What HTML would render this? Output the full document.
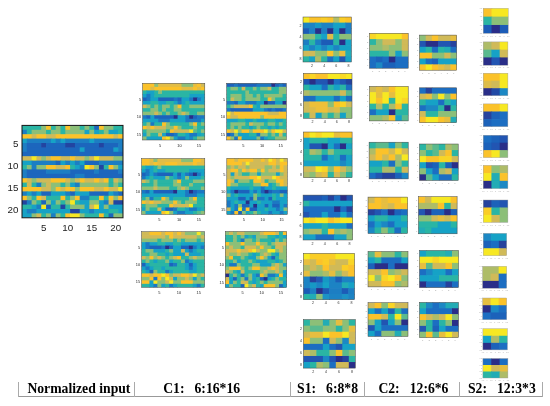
<!DOCTYPE html>
<html><head><meta charset="utf-8"><title>CNN feature maps</title>
<style>
html,body{margin:0;padding:0;background:#fff;}
body{width:550px;height:406px;position:relative;overflow:hidden;font-family:"Liberation Serif",serif;}
.cap{position:absolute;top:381.0px;height:15px;line-height:15px;font-weight:bold;font-size:13.7px;color:#000;white-space:nowrap;transform:scaleY(1.10);transform-origin:0 11.8px;}
.bar{position:absolute;top:382px;width:1px;height:15px;background:#aaa;}
.hl{position:absolute;left:18px;top:396px;width:525px;height:1px;background:#999;}
.cap i{font-style:normal;display:inline-block;width:10px;}
</style></head><body>
<svg width="550" height="406" viewBox="0 0 550 406" font-family="Liberation Sans, sans-serif" style="position:absolute;left:0;top:0">
<defs><filter id="b" x="-5%" y="-5%" width="110%" height="110%"><feGaussianBlur stdDeviation="0.45"/></filter></defs>
<g filter="url(#b)">
<g>
<rect x="22.00" y="125.40" width="19.94" height="5.10" fill="#29b5a4"/>
<rect x="41.24" y="125.40" width="5.51" height="5.10" fill="#8cbf78"/>
<rect x="46.05" y="125.40" width="5.51" height="5.10" fill="#fbc22a"/>
<rect x="50.86" y="125.40" width="5.51" height="5.10" fill="#29b5a4"/>
<rect x="55.67" y="125.40" width="5.51" height="5.10" fill="#8cbf78"/>
<rect x="60.48" y="125.40" width="5.51" height="5.10" fill="#29b5a4"/>
<rect x="65.29" y="125.40" width="5.51" height="5.10" fill="#fbc22a"/>
<rect x="70.10" y="125.40" width="10.32" height="5.10" fill="#8cbf78"/>
<rect x="79.71" y="125.40" width="5.51" height="5.10" fill="#29b5a4"/>
<rect x="84.52" y="125.40" width="5.51" height="5.10" fill="#8cbf78"/>
<rect x="89.33" y="125.40" width="5.51" height="5.10" fill="#29b5a4"/>
<rect x="94.14" y="125.40" width="5.51" height="5.10" fill="#1f66bd"/>
<rect x="98.95" y="125.40" width="5.51" height="5.10" fill="#fbc22a"/>
<rect x="103.76" y="125.40" width="10.32" height="5.10" fill="#8cbf78"/>
<rect x="113.38" y="125.40" width="9.62" height="5.10" fill="#29b5a4"/>
<rect x="22.00" y="129.80" width="5.51" height="5.10" fill="#1c7ec3"/>
<rect x="26.81" y="129.80" width="5.51" height="5.10" fill="#29b5a4"/>
<rect x="31.62" y="129.80" width="15.13" height="5.10" fill="#8cbf78"/>
<rect x="46.05" y="129.80" width="5.51" height="5.10" fill="#29b5a4"/>
<rect x="50.86" y="129.80" width="10.32" height="5.10" fill="#8cbf78"/>
<rect x="60.48" y="129.80" width="5.51" height="5.10" fill="#29b5a4"/>
<rect x="65.29" y="129.80" width="19.94" height="5.10" fill="#8cbf78"/>
<rect x="84.52" y="129.80" width="5.51" height="5.10" fill="#18a2c6"/>
<rect x="89.33" y="129.80" width="5.51" height="5.10" fill="#8cbf78"/>
<rect x="94.14" y="129.80" width="5.51" height="5.10" fill="#18a2c6"/>
<rect x="98.95" y="129.80" width="5.51" height="5.10" fill="#29b5a4"/>
<rect x="103.76" y="129.80" width="5.51" height="5.10" fill="#8cbf78"/>
<rect x="108.57" y="129.80" width="10.32" height="5.10" fill="#18a2c6"/>
<rect x="118.19" y="129.80" width="4.81" height="5.10" fill="#29b5a4"/>
<rect x="22.00" y="134.20" width="10.32" height="5.10" fill="#fbc22a"/>
<rect x="31.62" y="134.20" width="5.51" height="5.10" fill="#d0ba58"/>
<rect x="36.43" y="134.20" width="10.32" height="5.10" fill="#fbc22a"/>
<rect x="46.05" y="134.20" width="10.32" height="5.10" fill="#d0ba58"/>
<rect x="55.67" y="134.20" width="58.41" height="5.10" fill="#fbc22a"/>
<rect x="113.38" y="134.20" width="5.51" height="5.10" fill="#d0ba58"/>
<rect x="118.19" y="134.20" width="4.81" height="5.10" fill="#fbc22a"/>
<rect x="22.00" y="138.60" width="5.51" height="5.10" fill="#18a2c6"/>
<rect x="26.81" y="138.60" width="24.75" height="5.10" fill="#1c7ec3"/>
<rect x="50.86" y="138.60" width="5.51" height="5.10" fill="#18a2c6"/>
<rect x="55.67" y="138.60" width="5.51" height="5.10" fill="#1c7ec3"/>
<rect x="60.48" y="138.60" width="5.51" height="5.10" fill="#18a2c6"/>
<rect x="65.29" y="138.60" width="24.75" height="5.10" fill="#1c7ec3"/>
<rect x="89.33" y="138.60" width="5.51" height="5.10" fill="#18a2c6"/>
<rect x="94.14" y="138.60" width="28.86" height="5.10" fill="#1c7ec3"/>
<rect x="22.00" y="143.00" width="5.51" height="5.10" fill="#1c7ec3"/>
<rect x="26.81" y="143.00" width="15.13" height="5.10" fill="#1f66bd"/>
<rect x="41.24" y="143.00" width="5.51" height="5.10" fill="#2445a1"/>
<rect x="46.05" y="143.00" width="19.94" height="5.10" fill="#1f66bd"/>
<rect x="65.29" y="143.00" width="10.32" height="5.10" fill="#2445a1"/>
<rect x="74.90" y="143.00" width="24.75" height="5.10" fill="#1f66bd"/>
<rect x="98.95" y="143.00" width="5.51" height="5.10" fill="#2445a1"/>
<rect x="103.76" y="143.00" width="15.13" height="5.10" fill="#1f66bd"/>
<rect x="118.19" y="143.00" width="4.81" height="5.10" fill="#1c7ec3"/>
<rect x="22.00" y="147.40" width="5.51" height="5.10" fill="#1c7ec3"/>
<rect x="26.81" y="147.40" width="53.60" height="5.10" fill="#1f66bd"/>
<rect x="79.71" y="147.40" width="5.51" height="5.10" fill="#18a2c6"/>
<rect x="84.52" y="147.40" width="29.56" height="5.10" fill="#1f66bd"/>
<rect x="113.38" y="147.40" width="5.51" height="5.10" fill="#18a2c6"/>
<rect x="118.19" y="147.40" width="4.81" height="5.10" fill="#1c7ec3"/>
<rect x="22.00" y="151.80" width="101.00" height="5.10" fill="#1f66bd"/>
<rect x="22.00" y="156.20" width="10.32" height="5.10" fill="#d0ba58"/>
<rect x="31.62" y="156.20" width="5.51" height="5.10" fill="#f7e822"/>
<rect x="36.43" y="156.20" width="5.51" height="5.10" fill="#d0ba58"/>
<rect x="41.24" y="156.20" width="5.51" height="5.10" fill="#8cbf78"/>
<rect x="46.05" y="156.20" width="5.51" height="5.10" fill="#d0ba58"/>
<rect x="50.86" y="156.20" width="10.32" height="5.10" fill="#fbc22a"/>
<rect x="60.48" y="156.20" width="10.32" height="5.10" fill="#d0ba58"/>
<rect x="70.10" y="156.20" width="5.51" height="5.10" fill="#fbc22a"/>
<rect x="74.90" y="156.20" width="10.32" height="5.10" fill="#d0ba58"/>
<rect x="84.52" y="156.20" width="5.51" height="5.10" fill="#8cbf78"/>
<rect x="89.33" y="156.20" width="5.51" height="5.10" fill="#d0ba58"/>
<rect x="94.14" y="156.20" width="5.51" height="5.10" fill="#f7e822"/>
<rect x="98.95" y="156.20" width="15.13" height="5.10" fill="#d0ba58"/>
<rect x="113.38" y="156.20" width="9.62" height="5.10" fill="#8cbf78"/>
<rect x="22.00" y="160.60" width="10.32" height="5.10" fill="#18a2c6"/>
<rect x="31.62" y="160.60" width="24.75" height="5.10" fill="#1c7ec3"/>
<rect x="55.67" y="160.60" width="5.51" height="5.10" fill="#1f66bd"/>
<rect x="60.48" y="160.60" width="5.51" height="5.10" fill="#18a2c6"/>
<rect x="65.29" y="160.60" width="5.51" height="5.10" fill="#1c7ec3"/>
<rect x="70.10" y="160.60" width="5.51" height="5.10" fill="#18a2c6"/>
<rect x="74.90" y="160.60" width="5.51" height="5.10" fill="#1c7ec3"/>
<rect x="79.71" y="160.60" width="5.51" height="5.10" fill="#18a2c6"/>
<rect x="84.52" y="160.60" width="15.13" height="5.10" fill="#1f66bd"/>
<rect x="98.95" y="160.60" width="24.05" height="5.10" fill="#1c7ec3"/>
<rect x="22.00" y="165.00" width="5.51" height="5.10" fill="#29b5a4"/>
<rect x="26.81" y="165.00" width="5.51" height="5.10" fill="#8cbf78"/>
<rect x="31.62" y="165.00" width="5.51" height="5.10" fill="#1c7ec3"/>
<rect x="36.43" y="165.00" width="10.32" height="5.10" fill="#8cbf78"/>
<rect x="46.05" y="165.00" width="10.32" height="5.10" fill="#fbc22a"/>
<rect x="55.67" y="165.00" width="10.32" height="5.10" fill="#d0ba58"/>
<rect x="65.29" y="165.00" width="5.51" height="5.10" fill="#fbc22a"/>
<rect x="70.10" y="165.00" width="5.51" height="5.10" fill="#29b5a4"/>
<rect x="74.90" y="165.00" width="5.51" height="5.10" fill="#18a2c6"/>
<rect x="79.71" y="165.00" width="5.51" height="5.10" fill="#1c7ec3"/>
<rect x="84.52" y="165.00" width="5.51" height="5.10" fill="#f7e822"/>
<rect x="89.33" y="165.00" width="5.51" height="5.10" fill="#fbc22a"/>
<rect x="94.14" y="165.00" width="5.51" height="5.10" fill="#8cbf78"/>
<rect x="98.95" y="165.00" width="5.51" height="5.10" fill="#2445a1"/>
<rect x="103.76" y="165.00" width="5.51" height="5.10" fill="#29b5a4"/>
<rect x="108.57" y="165.00" width="5.51" height="5.10" fill="#fbc22a"/>
<rect x="113.38" y="165.00" width="5.51" height="5.10" fill="#8cbf78"/>
<rect x="118.19" y="165.00" width="4.81" height="5.10" fill="#18a2c6"/>
<rect x="22.00" y="169.40" width="5.51" height="5.10" fill="#1c7ec3"/>
<rect x="26.81" y="169.40" width="19.94" height="5.10" fill="#1f66bd"/>
<rect x="46.05" y="169.40" width="24.75" height="5.10" fill="#1c7ec3"/>
<rect x="70.10" y="169.40" width="24.75" height="5.10" fill="#1f66bd"/>
<rect x="94.14" y="169.40" width="5.51" height="5.10" fill="#1c7ec3"/>
<rect x="98.95" y="169.40" width="19.94" height="5.10" fill="#1f66bd"/>
<rect x="118.19" y="169.40" width="4.81" height="5.10" fill="#1c7ec3"/>
<rect x="22.00" y="173.80" width="5.51" height="5.10" fill="#1c7ec3"/>
<rect x="26.81" y="173.80" width="48.80" height="5.10" fill="#1f66bd"/>
<rect x="74.90" y="173.80" width="10.32" height="5.10" fill="#1c7ec3"/>
<rect x="84.52" y="173.80" width="38.48" height="5.10" fill="#1f66bd"/>
<rect x="22.00" y="178.20" width="5.51" height="5.10" fill="#fbc22a"/>
<rect x="26.81" y="178.20" width="5.51" height="5.10" fill="#d0ba58"/>
<rect x="31.62" y="178.20" width="5.51" height="5.10" fill="#8cbf78"/>
<rect x="36.43" y="178.20" width="15.13" height="5.10" fill="#d0ba58"/>
<rect x="50.86" y="178.20" width="15.13" height="5.10" fill="#fbc22a"/>
<rect x="65.29" y="178.20" width="5.51" height="5.10" fill="#d0ba58"/>
<rect x="70.10" y="178.20" width="5.51" height="5.10" fill="#8cbf78"/>
<rect x="74.90" y="178.20" width="5.51" height="5.10" fill="#d0ba58"/>
<rect x="79.71" y="178.20" width="5.51" height="5.10" fill="#fbc22a"/>
<rect x="84.52" y="178.20" width="10.32" height="5.10" fill="#d0ba58"/>
<rect x="94.14" y="178.20" width="5.51" height="5.10" fill="#fbc22a"/>
<rect x="98.95" y="178.20" width="5.51" height="5.10" fill="#d0ba58"/>
<rect x="103.76" y="178.20" width="5.51" height="5.10" fill="#fbc22a"/>
<rect x="108.57" y="178.20" width="5.51" height="5.10" fill="#29b5a4"/>
<rect x="113.38" y="178.20" width="5.51" height="5.10" fill="#d0ba58"/>
<rect x="118.19" y="178.20" width="4.81" height="5.10" fill="#8cbf78"/>
<rect x="22.00" y="182.60" width="5.51" height="5.10" fill="#29b5a4"/>
<rect x="26.81" y="182.60" width="5.51" height="5.10" fill="#d0ba58"/>
<rect x="31.62" y="182.60" width="5.51" height="5.10" fill="#29b5a4"/>
<rect x="36.43" y="182.60" width="5.51" height="5.10" fill="#1c7ec3"/>
<rect x="41.24" y="182.60" width="5.51" height="5.10" fill="#8cbf78"/>
<rect x="46.05" y="182.60" width="5.51" height="5.10" fill="#d0ba58"/>
<rect x="50.86" y="182.60" width="10.32" height="5.10" fill="#8cbf78"/>
<rect x="60.48" y="182.60" width="5.51" height="5.10" fill="#29b5a4"/>
<rect x="65.29" y="182.60" width="5.51" height="5.10" fill="#8cbf78"/>
<rect x="70.10" y="182.60" width="5.51" height="5.10" fill="#18a2c6"/>
<rect x="74.90" y="182.60" width="5.51" height="5.10" fill="#1c7ec3"/>
<rect x="79.71" y="182.60" width="29.56" height="5.10" fill="#8cbf78"/>
<rect x="108.57" y="182.60" width="5.51" height="5.10" fill="#29b5a4"/>
<rect x="113.38" y="182.60" width="5.51" height="5.10" fill="#8cbf78"/>
<rect x="118.19" y="182.60" width="4.81" height="5.10" fill="#29b5a4"/>
<rect x="22.00" y="187.00" width="19.94" height="5.10" fill="#fbc22a"/>
<rect x="41.24" y="187.00" width="10.32" height="5.10" fill="#d0ba58"/>
<rect x="50.86" y="187.00" width="5.51" height="5.10" fill="#8cbf78"/>
<rect x="55.67" y="187.00" width="5.51" height="5.10" fill="#fbc22a"/>
<rect x="60.48" y="187.00" width="5.51" height="5.10" fill="#d0ba58"/>
<rect x="65.29" y="187.00" width="10.32" height="5.10" fill="#fbc22a"/>
<rect x="74.90" y="187.00" width="5.51" height="5.10" fill="#8cbf78"/>
<rect x="79.71" y="187.00" width="15.13" height="5.10" fill="#fbc22a"/>
<rect x="94.14" y="187.00" width="10.32" height="5.10" fill="#d0ba58"/>
<rect x="103.76" y="187.00" width="5.51" height="5.10" fill="#fbc22a"/>
<rect x="108.57" y="187.00" width="10.32" height="5.10" fill="#d0ba58"/>
<rect x="118.19" y="187.00" width="4.81" height="5.10" fill="#f7e822"/>
<rect x="22.00" y="191.40" width="5.51" height="5.10" fill="#1c7ec3"/>
<rect x="26.81" y="191.40" width="5.51" height="5.10" fill="#18a2c6"/>
<rect x="31.62" y="191.40" width="5.51" height="5.10" fill="#1c7ec3"/>
<rect x="36.43" y="191.40" width="5.51" height="5.10" fill="#18a2c6"/>
<rect x="41.24" y="191.40" width="10.32" height="5.10" fill="#1f66bd"/>
<rect x="50.86" y="191.40" width="15.13" height="5.10" fill="#18a2c6"/>
<rect x="65.29" y="191.40" width="5.51" height="5.10" fill="#1c7ec3"/>
<rect x="70.10" y="191.40" width="5.51" height="5.10" fill="#1f66bd"/>
<rect x="74.90" y="191.40" width="15.13" height="5.10" fill="#18a2c6"/>
<rect x="89.33" y="191.40" width="19.94" height="5.10" fill="#1f66bd"/>
<rect x="108.57" y="191.40" width="5.51" height="5.10" fill="#18a2c6"/>
<rect x="113.38" y="191.40" width="5.51" height="5.10" fill="#1c7ec3"/>
<rect x="118.19" y="191.40" width="4.81" height="5.10" fill="#1f66bd"/>
<rect x="22.00" y="195.80" width="5.51" height="5.10" fill="#fbc22a"/>
<rect x="26.81" y="195.80" width="5.51" height="5.10" fill="#8cbf78"/>
<rect x="31.62" y="195.80" width="5.51" height="5.10" fill="#29b5a4"/>
<rect x="36.43" y="195.80" width="5.51" height="5.10" fill="#fbc22a"/>
<rect x="41.24" y="195.80" width="5.51" height="5.10" fill="#d0ba58"/>
<rect x="46.05" y="195.80" width="15.13" height="5.10" fill="#29b5a4"/>
<rect x="60.48" y="195.80" width="5.51" height="5.10" fill="#fbc22a"/>
<rect x="65.29" y="195.80" width="5.51" height="5.10" fill="#29b5a4"/>
<rect x="70.10" y="195.80" width="5.51" height="5.10" fill="#8cbf78"/>
<rect x="74.90" y="195.80" width="5.51" height="5.10" fill="#fbc22a"/>
<rect x="79.71" y="195.80" width="10.32" height="5.10" fill="#1c7ec3"/>
<rect x="89.33" y="195.80" width="10.32" height="5.10" fill="#29b5a4"/>
<rect x="98.95" y="195.80" width="5.51" height="5.10" fill="#fbc22a"/>
<rect x="103.76" y="195.80" width="5.51" height="5.10" fill="#29b5a4"/>
<rect x="108.57" y="195.80" width="5.51" height="5.10" fill="#fbc22a"/>
<rect x="113.38" y="195.80" width="5.51" height="5.10" fill="#8cbf78"/>
<rect x="118.19" y="195.80" width="4.81" height="5.10" fill="#fbc22a"/>
<rect x="22.00" y="200.20" width="5.51" height="5.10" fill="#2445a1"/>
<rect x="26.81" y="200.20" width="5.51" height="5.10" fill="#1c7ec3"/>
<rect x="31.62" y="200.20" width="5.51" height="5.10" fill="#8cbf78"/>
<rect x="36.43" y="200.20" width="5.51" height="5.10" fill="#29b5a4"/>
<rect x="41.24" y="200.20" width="5.51" height="5.10" fill="#1f66bd"/>
<rect x="46.05" y="200.20" width="5.51" height="5.10" fill="#8cbf78"/>
<rect x="50.86" y="200.20" width="5.51" height="5.10" fill="#18a2c6"/>
<rect x="55.67" y="200.20" width="5.51" height="5.10" fill="#8cbf78"/>
<rect x="60.48" y="200.20" width="5.51" height="5.10" fill="#29b5a4"/>
<rect x="65.29" y="200.20" width="5.51" height="5.10" fill="#8cbf78"/>
<rect x="70.10" y="200.20" width="5.51" height="5.10" fill="#f7e822"/>
<rect x="74.90" y="200.20" width="5.51" height="5.10" fill="#29b5a4"/>
<rect x="79.71" y="200.20" width="10.32" height="5.10" fill="#18a2c6"/>
<rect x="89.33" y="200.20" width="10.32" height="5.10" fill="#8cbf78"/>
<rect x="98.95" y="200.20" width="5.51" height="5.10" fill="#18a2c6"/>
<rect x="103.76" y="200.20" width="5.51" height="5.10" fill="#1c7ec3"/>
<rect x="108.57" y="200.20" width="5.51" height="5.10" fill="#d0ba58"/>
<rect x="113.38" y="200.20" width="9.62" height="5.10" fill="#2445a1"/>
<rect x="22.00" y="204.60" width="10.32" height="5.10" fill="#29b5a4"/>
<rect x="31.62" y="204.60" width="5.51" height="5.10" fill="#18a2c6"/>
<rect x="36.43" y="204.60" width="5.51" height="5.10" fill="#1c7ec3"/>
<rect x="41.24" y="204.60" width="5.51" height="5.10" fill="#f7e822"/>
<rect x="46.05" y="204.60" width="5.51" height="5.10" fill="#1f66bd"/>
<rect x="50.86" y="204.60" width="10.32" height="5.10" fill="#29b5a4"/>
<rect x="60.48" y="204.60" width="5.51" height="5.10" fill="#2445a1"/>
<rect x="65.29" y="204.60" width="5.51" height="5.10" fill="#29b5a4"/>
<rect x="70.10" y="204.60" width="15.13" height="5.10" fill="#8cbf78"/>
<rect x="84.52" y="204.60" width="5.51" height="5.10" fill="#18a2c6"/>
<rect x="89.33" y="204.60" width="5.51" height="5.10" fill="#d0ba58"/>
<rect x="94.14" y="204.60" width="5.51" height="5.10" fill="#f7e822"/>
<rect x="98.95" y="204.60" width="5.51" height="5.10" fill="#18a2c6"/>
<rect x="103.76" y="204.60" width="5.51" height="5.10" fill="#8cbf78"/>
<rect x="108.57" y="204.60" width="14.43" height="5.10" fill="#18a2c6"/>
<rect x="22.00" y="209.00" width="5.51" height="5.10" fill="#18a2c6"/>
<rect x="26.81" y="209.00" width="10.32" height="5.10" fill="#1c7ec3"/>
<rect x="36.43" y="209.00" width="34.37" height="5.10" fill="#18a2c6"/>
<rect x="70.10" y="209.00" width="10.32" height="5.10" fill="#2445a1"/>
<rect x="79.71" y="209.00" width="10.32" height="5.10" fill="#18a2c6"/>
<rect x="89.33" y="209.00" width="5.51" height="5.10" fill="#1c7ec3"/>
<rect x="94.14" y="209.00" width="15.13" height="5.10" fill="#18a2c6"/>
<rect x="108.57" y="209.00" width="10.32" height="5.10" fill="#29b5a4"/>
<rect x="118.19" y="209.00" width="4.81" height="5.10" fill="#18a2c6"/>
<rect x="22.00" y="213.40" width="10.32" height="4.40" fill="#18a2c6"/>
<rect x="31.62" y="213.40" width="5.51" height="4.40" fill="#8cbf78"/>
<rect x="36.43" y="213.40" width="5.51" height="4.40" fill="#d0ba58"/>
<rect x="41.24" y="213.40" width="5.51" height="4.40" fill="#29b5a4"/>
<rect x="46.05" y="213.40" width="5.51" height="4.40" fill="#8cbf78"/>
<rect x="50.86" y="213.40" width="5.51" height="4.40" fill="#1c7ec3"/>
<rect x="55.67" y="213.40" width="5.51" height="4.40" fill="#8cbf78"/>
<rect x="60.48" y="213.40" width="5.51" height="4.40" fill="#29b5a4"/>
<rect x="65.29" y="213.40" width="5.51" height="4.40" fill="#fbc22a"/>
<rect x="70.10" y="213.40" width="10.32" height="4.40" fill="#f7e822"/>
<rect x="79.71" y="213.40" width="5.51" height="4.40" fill="#8cbf78"/>
<rect x="84.52" y="213.40" width="15.13" height="4.40" fill="#29b5a4"/>
<rect x="98.95" y="213.40" width="5.51" height="4.40" fill="#fbc22a"/>
<rect x="103.76" y="213.40" width="5.51" height="4.40" fill="#29b5a4"/>
<rect x="108.57" y="213.40" width="5.51" height="4.40" fill="#1f66bd"/>
<rect x="113.38" y="213.40" width="9.62" height="4.40" fill="#8cbf78"/>
<rect x="22.00" y="125.40" width="101.00" height="92.40" fill="none" stroke="#151515" stroke-width="1.00"/>
<text x="18.40" y="147.03" font-size="9.8" fill="#222" text-anchor="end">5</text>
<text x="43.64" y="230.50" font-size="9.8" fill="#222" text-anchor="middle">5</text>
<text x="18.40" y="169.03" font-size="9.8" fill="#222" text-anchor="end">10</text>
<text x="67.69" y="230.50" font-size="9.8" fill="#222" text-anchor="middle">10</text>
<text x="18.40" y="191.03" font-size="9.8" fill="#222" text-anchor="end">15</text>
<text x="91.74" y="230.50" font-size="9.8" fill="#222" text-anchor="middle">15</text>
<text x="18.40" y="213.03" font-size="9.8" fill="#222" text-anchor="end">20</text>
<text x="115.79" y="230.50" font-size="9.8" fill="#222" text-anchor="middle">20</text>
</g>
<g>
<rect x="142.60" y="83.30" width="12.36" height="4.24" fill="#fbc22a"/>
<rect x="154.26" y="83.30" width="4.59" height="4.24" fill="#8cbf78"/>
<rect x="158.15" y="83.30" width="24.03" height="4.24" fill="#e1bd46"/>
<rect x="181.48" y="83.30" width="12.36" height="4.24" fill="#8cbf78"/>
<rect x="193.14" y="83.30" width="4.59" height="4.24" fill="#e6be41"/>
<rect x="197.03" y="83.30" width="4.59" height="4.24" fill="#fbc22a"/>
<rect x="200.91" y="83.30" width="3.89" height="4.24" fill="#d0ba58"/>
<rect x="142.60" y="86.84" width="8.48" height="4.24" fill="#fbc22a"/>
<rect x="150.38" y="86.84" width="4.59" height="4.24" fill="#ddbc4a"/>
<rect x="154.26" y="86.84" width="27.91" height="4.24" fill="#fbc22a"/>
<rect x="181.48" y="86.84" width="12.36" height="4.24" fill="#e1bd46"/>
<rect x="193.14" y="86.84" width="4.59" height="4.24" fill="#fbc22a"/>
<rect x="197.03" y="86.84" width="4.59" height="4.24" fill="#e1bd46"/>
<rect x="200.91" y="86.84" width="3.89" height="4.24" fill="#fbc22a"/>
<rect x="142.60" y="90.39" width="4.59" height="4.24" fill="#29b5a4"/>
<rect x="146.49" y="90.39" width="8.48" height="4.24" fill="#18a2c6"/>
<rect x="154.26" y="90.39" width="4.59" height="4.24" fill="#29b5a4"/>
<rect x="158.15" y="90.39" width="4.59" height="4.24" fill="#8cbf78"/>
<rect x="162.04" y="90.39" width="42.76" height="4.24" fill="#29b5a4"/>
<rect x="142.60" y="93.93" width="4.59" height="4.24" fill="#18a2c6"/>
<rect x="146.49" y="93.93" width="4.59" height="4.24" fill="#1d78c3"/>
<rect x="150.38" y="93.93" width="4.59" height="4.24" fill="#18a2c6"/>
<rect x="154.26" y="93.93" width="35.69" height="4.24" fill="#29b5a4"/>
<rect x="189.25" y="93.93" width="15.55" height="4.24" fill="#18a2c6"/>
<rect x="142.60" y="97.47" width="4.59" height="4.24" fill="#1f64bc"/>
<rect x="146.49" y="97.47" width="4.59" height="4.24" fill="#1d78c3"/>
<rect x="150.38" y="97.47" width="8.48" height="4.24" fill="#18a2c6"/>
<rect x="158.15" y="97.47" width="16.25" height="4.24" fill="#1f64bc"/>
<rect x="173.70" y="97.47" width="4.59" height="4.24" fill="#1d78c3"/>
<rect x="177.59" y="97.47" width="4.59" height="4.24" fill="#1f64bc"/>
<rect x="181.48" y="97.47" width="8.48" height="4.24" fill="#18a2c6"/>
<rect x="189.25" y="97.47" width="4.59" height="4.24" fill="#1d78c3"/>
<rect x="193.14" y="97.47" width="4.59" height="4.24" fill="#2a2e88"/>
<rect x="197.03" y="97.47" width="4.59" height="4.24" fill="#1d78c3"/>
<rect x="200.91" y="97.47" width="3.89" height="4.24" fill="#18a2c6"/>
<rect x="142.60" y="101.02" width="8.48" height="4.24" fill="#18a2c6"/>
<rect x="150.38" y="101.02" width="8.48" height="4.24" fill="#29b5a4"/>
<rect x="158.15" y="101.02" width="8.48" height="4.24" fill="#18a2c6"/>
<rect x="165.93" y="101.02" width="8.48" height="4.24" fill="#29b5a4"/>
<rect x="173.70" y="101.02" width="4.59" height="4.24" fill="#18a2c6"/>
<rect x="177.59" y="101.02" width="4.59" height="4.24" fill="#1d78c3"/>
<rect x="181.48" y="101.02" width="4.59" height="4.24" fill="#18a2c6"/>
<rect x="185.36" y="101.02" width="4.59" height="4.24" fill="#29b5a4"/>
<rect x="189.25" y="101.02" width="15.55" height="4.24" fill="#18a2c6"/>
<rect x="142.60" y="104.56" width="4.59" height="4.24" fill="#d0ba58"/>
<rect x="146.49" y="104.56" width="4.59" height="4.24" fill="#8cbf78"/>
<rect x="150.38" y="104.56" width="4.59" height="4.24" fill="#29b5a4"/>
<rect x="154.26" y="104.56" width="4.59" height="4.24" fill="#8cbf78"/>
<rect x="158.15" y="104.56" width="4.59" height="4.24" fill="#29b5a4"/>
<rect x="162.04" y="104.56" width="8.48" height="4.24" fill="#8cbf78"/>
<rect x="169.81" y="104.56" width="4.59" height="4.24" fill="#29b5a4"/>
<rect x="173.70" y="104.56" width="4.59" height="4.24" fill="#8cbf78"/>
<rect x="177.59" y="104.56" width="4.59" height="4.24" fill="#fbc22a"/>
<rect x="181.48" y="104.56" width="8.48" height="4.24" fill="#29b5a4"/>
<rect x="189.25" y="104.56" width="15.55" height="4.24" fill="#8cbf78"/>
<rect x="142.60" y="108.11" width="8.48" height="4.24" fill="#29b5a4"/>
<rect x="150.38" y="108.11" width="8.48" height="4.24" fill="#8cbf78"/>
<rect x="158.15" y="108.11" width="4.59" height="4.24" fill="#29b5a4"/>
<rect x="162.04" y="108.11" width="4.59" height="4.24" fill="#8cbf78"/>
<rect x="165.93" y="108.11" width="8.48" height="4.24" fill="#29b5a4"/>
<rect x="173.70" y="108.11" width="8.48" height="4.24" fill="#8cbf78"/>
<rect x="181.48" y="108.11" width="23.33" height="4.24" fill="#29b5a4"/>
<rect x="142.60" y="111.65" width="12.36" height="4.24" fill="#8cbf78"/>
<rect x="154.26" y="111.65" width="4.59" height="4.24" fill="#d0ba58"/>
<rect x="158.15" y="111.65" width="4.59" height="4.24" fill="#8cbf78"/>
<rect x="162.04" y="111.65" width="4.59" height="4.24" fill="#29b5a4"/>
<rect x="165.93" y="111.65" width="4.59" height="4.24" fill="#8cbf78"/>
<rect x="169.81" y="111.65" width="8.48" height="4.24" fill="#29b5a4"/>
<rect x="177.59" y="111.65" width="4.59" height="4.24" fill="#8cbf78"/>
<rect x="181.48" y="111.65" width="4.59" height="4.24" fill="#d0ba58"/>
<rect x="185.36" y="111.65" width="4.59" height="4.24" fill="#8cbf78"/>
<rect x="189.25" y="111.65" width="8.48" height="4.24" fill="#29b5a4"/>
<rect x="197.03" y="111.65" width="7.78" height="4.24" fill="#8cbf78"/>
<rect x="142.60" y="115.19" width="4.59" height="4.24" fill="#1d78c3"/>
<rect x="146.49" y="115.19" width="4.59" height="4.24" fill="#1f64bc"/>
<rect x="150.38" y="115.19" width="4.59" height="4.24" fill="#18a2c6"/>
<rect x="154.26" y="115.19" width="20.14" height="4.24" fill="#1f64bc"/>
<rect x="173.70" y="115.19" width="4.59" height="4.24" fill="#2a2e88"/>
<rect x="177.59" y="115.19" width="8.48" height="4.24" fill="#18a2c6"/>
<rect x="185.36" y="115.19" width="4.59" height="4.24" fill="#1d78c3"/>
<rect x="189.25" y="115.19" width="4.59" height="4.24" fill="#2a2e88"/>
<rect x="193.14" y="115.19" width="4.59" height="4.24" fill="#1f64bc"/>
<rect x="197.03" y="115.19" width="7.78" height="4.24" fill="#1d78c3"/>
<rect x="142.60" y="118.74" width="16.25" height="4.24" fill="#18a2c6"/>
<rect x="158.15" y="118.74" width="12.36" height="4.24" fill="#1d78c3"/>
<rect x="169.81" y="118.74" width="16.25" height="4.24" fill="#18a2c6"/>
<rect x="185.36" y="118.74" width="16.25" height="4.24" fill="#1d78c3"/>
<rect x="200.91" y="118.74" width="3.89" height="4.24" fill="#18a2c6"/>
<rect x="142.60" y="122.28" width="4.59" height="4.24" fill="#29b5a4"/>
<rect x="146.49" y="122.28" width="4.59" height="4.24" fill="#8cbf78"/>
<rect x="150.38" y="122.28" width="4.59" height="4.24" fill="#1d78c3"/>
<rect x="154.26" y="122.28" width="8.48" height="4.24" fill="#29b5a4"/>
<rect x="162.04" y="122.28" width="4.59" height="4.24" fill="#fbc22a"/>
<rect x="165.93" y="122.28" width="4.59" height="4.24" fill="#8cbf78"/>
<rect x="169.81" y="122.28" width="20.14" height="4.24" fill="#29b5a4"/>
<rect x="189.25" y="122.28" width="4.59" height="4.24" fill="#8cbf78"/>
<rect x="193.14" y="122.28" width="4.59" height="4.24" fill="#fbc22a"/>
<rect x="197.03" y="122.28" width="4.59" height="4.24" fill="#29b5a4"/>
<rect x="200.91" y="122.28" width="3.89" height="4.24" fill="#8cbf78"/>
<rect x="142.60" y="125.83" width="4.59" height="4.24" fill="#fbc22a"/>
<rect x="146.49" y="125.83" width="4.59" height="4.24" fill="#d0ba58"/>
<rect x="150.38" y="125.83" width="4.59" height="4.24" fill="#fbc22a"/>
<rect x="154.26" y="125.83" width="12.36" height="4.24" fill="#d0ba58"/>
<rect x="165.93" y="125.83" width="8.48" height="4.24" fill="#8cbf78"/>
<rect x="173.70" y="125.83" width="4.59" height="4.24" fill="#fbc22a"/>
<rect x="177.59" y="125.83" width="4.59" height="4.24" fill="#8cbf78"/>
<rect x="181.48" y="125.83" width="12.36" height="4.24" fill="#29b5a4"/>
<rect x="193.14" y="125.83" width="4.59" height="4.24" fill="#8cbf78"/>
<rect x="197.03" y="125.83" width="7.78" height="4.24" fill="#29b5a4"/>
<rect x="142.60" y="129.37" width="4.59" height="4.24" fill="#29b5a4"/>
<rect x="146.49" y="129.37" width="20.14" height="4.24" fill="#8cbf78"/>
<rect x="165.93" y="129.37" width="4.59" height="4.24" fill="#29b5a4"/>
<rect x="169.81" y="129.37" width="4.59" height="4.24" fill="#fbc22a"/>
<rect x="173.70" y="129.37" width="16.25" height="4.24" fill="#d0ba58"/>
<rect x="189.25" y="129.37" width="4.59" height="4.24" fill="#f7e822"/>
<rect x="193.14" y="129.37" width="4.59" height="4.24" fill="#5aba8e"/>
<rect x="197.03" y="129.37" width="4.59" height="4.24" fill="#29b5a4"/>
<rect x="200.91" y="129.37" width="3.89" height="4.24" fill="#8cbf78"/>
<rect x="142.60" y="132.91" width="4.59" height="4.24" fill="#18a2c6"/>
<rect x="146.49" y="132.91" width="4.59" height="4.24" fill="#8cbf78"/>
<rect x="150.38" y="132.91" width="8.48" height="4.24" fill="#29b5a4"/>
<rect x="158.15" y="132.91" width="4.59" height="4.24" fill="#d0ba58"/>
<rect x="162.04" y="132.91" width="4.59" height="4.24" fill="#18a2c6"/>
<rect x="165.93" y="132.91" width="8.48" height="4.24" fill="#1f64bc"/>
<rect x="173.70" y="132.91" width="4.59" height="4.24" fill="#1d78c3"/>
<rect x="177.59" y="132.91" width="8.48" height="4.24" fill="#29b5a4"/>
<rect x="185.36" y="132.91" width="4.59" height="4.24" fill="#18a2c6"/>
<rect x="189.25" y="132.91" width="8.48" height="4.24" fill="#1d78c3"/>
<rect x="197.03" y="132.91" width="4.59" height="4.24" fill="#18a2c6"/>
<rect x="200.91" y="132.91" width="3.89" height="4.24" fill="#20acb5"/>
<rect x="142.60" y="136.46" width="4.59" height="3.54" fill="#8cbf78"/>
<rect x="146.49" y="136.46" width="16.25" height="3.54" fill="#18a2c6"/>
<rect x="162.04" y="136.46" width="4.59" height="3.54" fill="#fbc22a"/>
<rect x="165.93" y="136.46" width="4.59" height="3.54" fill="#f7e822"/>
<rect x="169.81" y="136.46" width="4.59" height="3.54" fill="#8cbf78"/>
<rect x="173.70" y="136.46" width="4.59" height="3.54" fill="#18a2c6"/>
<rect x="177.59" y="136.46" width="8.48" height="3.54" fill="#1d78c3"/>
<rect x="185.36" y="136.46" width="4.59" height="3.54" fill="#18a2c6"/>
<rect x="189.25" y="136.46" width="4.59" height="3.54" fill="#1b88c4"/>
<rect x="193.14" y="136.46" width="4.59" height="3.54" fill="#29b5a4"/>
<rect x="197.03" y="136.46" width="7.78" height="3.54" fill="#8cbf78"/>
<rect x="142.60" y="83.30" width="62.20" height="56.70" fill="none" stroke="#444" stroke-width="0.50"/>
<text x="141.10" y="100.65" font-size="3.9" fill="#222" text-anchor="end">5</text>
<text x="160.09" y="146.50" font-size="3.9" fill="#222" text-anchor="middle">5</text>
<text x="141.10" y="118.37" font-size="3.9" fill="#222" text-anchor="end">10</text>
<text x="179.53" y="146.50" font-size="3.9" fill="#222" text-anchor="middle">10</text>
<text x="141.10" y="136.09" font-size="3.9" fill="#222" text-anchor="end">15</text>
<text x="198.97" y="146.50" font-size="3.9" fill="#222" text-anchor="middle">15</text>
</g>
<g>
<rect x="226.70" y="83.30" width="8.15" height="4.24" fill="#1f64bc"/>
<rect x="234.15" y="83.30" width="4.43" height="4.24" fill="#1d78c3"/>
<rect x="237.88" y="83.30" width="19.33" height="4.24" fill="#1f64bc"/>
<rect x="256.50" y="83.30" width="15.60" height="4.24" fill="#1d78c3"/>
<rect x="271.40" y="83.30" width="4.43" height="4.24" fill="#2a2e88"/>
<rect x="275.12" y="83.30" width="4.43" height="4.24" fill="#1f64bc"/>
<rect x="278.85" y="83.30" width="4.43" height="4.24" fill="#1d78c3"/>
<rect x="282.57" y="83.30" width="3.73" height="4.24" fill="#1f64bc"/>
<rect x="226.70" y="86.84" width="4.43" height="4.24" fill="#29b5a4"/>
<rect x="230.42" y="86.84" width="8.15" height="4.24" fill="#8cbf78"/>
<rect x="237.88" y="86.84" width="4.43" height="4.24" fill="#29b5a4"/>
<rect x="241.60" y="86.84" width="4.43" height="4.24" fill="#d0ba58"/>
<rect x="245.32" y="86.84" width="8.15" height="4.24" fill="#29b5a4"/>
<rect x="252.78" y="86.84" width="4.43" height="4.24" fill="#8cbf78"/>
<rect x="256.50" y="86.84" width="4.43" height="4.24" fill="#29b5a4"/>
<rect x="260.23" y="86.84" width="8.15" height="4.24" fill="#8cbf78"/>
<rect x="267.68" y="86.84" width="4.43" height="4.24" fill="#d0ba58"/>
<rect x="271.40" y="86.84" width="8.15" height="4.24" fill="#29b5a4"/>
<rect x="278.85" y="86.84" width="7.45" height="4.24" fill="#8cbf78"/>
<rect x="226.70" y="90.39" width="19.33" height="4.24" fill="#29b5a4"/>
<rect x="245.32" y="90.39" width="4.43" height="4.24" fill="#8cbf78"/>
<rect x="249.05" y="90.39" width="30.50" height="4.24" fill="#29b5a4"/>
<rect x="278.85" y="90.39" width="7.45" height="4.24" fill="#8cbf78"/>
<rect x="226.70" y="93.93" width="4.43" height="4.24" fill="#29b5a4"/>
<rect x="230.42" y="93.93" width="11.88" height="4.24" fill="#8cbf78"/>
<rect x="241.60" y="93.93" width="4.43" height="4.24" fill="#29b5a4"/>
<rect x="245.32" y="93.93" width="8.15" height="4.24" fill="#8cbf78"/>
<rect x="252.78" y="93.93" width="4.43" height="4.24" fill="#29b5a4"/>
<rect x="256.50" y="93.93" width="4.43" height="4.24" fill="#8cbf78"/>
<rect x="260.23" y="93.93" width="4.43" height="4.24" fill="#29b5a4"/>
<rect x="263.95" y="93.93" width="19.33" height="4.24" fill="#8cbf78"/>
<rect x="282.57" y="93.93" width="3.73" height="4.24" fill="#29b5a4"/>
<rect x="226.70" y="97.47" width="4.43" height="4.24" fill="#29b5a4"/>
<rect x="230.42" y="97.47" width="4.43" height="4.24" fill="#d0ba58"/>
<rect x="234.15" y="97.47" width="8.15" height="4.24" fill="#8cbf78"/>
<rect x="241.60" y="97.47" width="4.43" height="4.24" fill="#29b5a4"/>
<rect x="245.32" y="97.47" width="15.60" height="4.24" fill="#8cbf78"/>
<rect x="260.23" y="97.47" width="8.15" height="4.24" fill="#29b5a4"/>
<rect x="267.68" y="97.47" width="4.43" height="4.24" fill="#fbc22a"/>
<rect x="271.40" y="97.47" width="4.43" height="4.24" fill="#8cbf78"/>
<rect x="275.12" y="97.47" width="11.18" height="4.24" fill="#29b5a4"/>
<rect x="226.70" y="101.02" width="8.15" height="4.24" fill="#1d78c3"/>
<rect x="234.15" y="101.02" width="4.43" height="4.24" fill="#1f64bc"/>
<rect x="237.88" y="101.02" width="8.15" height="4.24" fill="#18a2c6"/>
<rect x="245.32" y="101.02" width="11.88" height="4.24" fill="#1d78c3"/>
<rect x="256.50" y="101.02" width="8.15" height="4.24" fill="#18a2c6"/>
<rect x="263.95" y="101.02" width="4.43" height="4.24" fill="#2a2e88"/>
<rect x="267.68" y="101.02" width="8.15" height="4.24" fill="#1f64bc"/>
<rect x="275.12" y="101.02" width="8.15" height="4.24" fill="#18a2c6"/>
<rect x="282.57" y="101.02" width="3.73" height="4.24" fill="#2a2e88"/>
<rect x="226.70" y="104.56" width="4.43" height="4.24" fill="#29b5a4"/>
<rect x="230.42" y="104.56" width="4.43" height="4.24" fill="#8cbf78"/>
<rect x="234.15" y="104.56" width="15.60" height="4.24" fill="#d0ba58"/>
<rect x="249.05" y="104.56" width="4.43" height="4.24" fill="#fbc22a"/>
<rect x="252.78" y="104.56" width="4.43" height="4.24" fill="#29b5a4"/>
<rect x="256.50" y="104.56" width="4.43" height="4.24" fill="#18a2c6"/>
<rect x="260.23" y="104.56" width="26.08" height="4.24" fill="#8cbf78"/>
<rect x="226.70" y="108.11" width="4.43" height="4.24" fill="#1d78c3"/>
<rect x="230.42" y="108.11" width="23.05" height="4.24" fill="#1f64bc"/>
<rect x="252.78" y="108.11" width="11.88" height="4.24" fill="#18a2c6"/>
<rect x="263.95" y="108.11" width="4.43" height="4.24" fill="#1d78c3"/>
<rect x="267.68" y="108.11" width="4.43" height="4.24" fill="#1f64bc"/>
<rect x="271.40" y="108.11" width="4.43" height="4.24" fill="#1d78c3"/>
<rect x="275.12" y="108.11" width="8.15" height="4.24" fill="#1f64bc"/>
<rect x="282.57" y="108.11" width="3.73" height="4.24" fill="#1d78c3"/>
<rect x="226.70" y="111.65" width="4.43" height="4.24" fill="#f7e822"/>
<rect x="230.42" y="111.65" width="4.43" height="4.24" fill="#d0ba58"/>
<rect x="234.15" y="111.65" width="34.23" height="4.24" fill="#fbc22a"/>
<rect x="267.68" y="111.65" width="11.88" height="4.24" fill="#d0ba58"/>
<rect x="278.85" y="111.65" width="7.45" height="4.24" fill="#fbc22a"/>
<rect x="226.70" y="115.19" width="4.43" height="4.24" fill="#fbc22a"/>
<rect x="230.42" y="115.19" width="8.15" height="4.24" fill="#d0ba58"/>
<rect x="237.88" y="115.19" width="23.05" height="4.24" fill="#fbc22a"/>
<rect x="260.23" y="115.19" width="4.43" height="4.24" fill="#8cbf78"/>
<rect x="263.95" y="115.19" width="22.35" height="4.24" fill="#fbc22a"/>
<rect x="226.70" y="118.74" width="11.88" height="4.24" fill="#18a2c6"/>
<rect x="237.88" y="118.74" width="8.15" height="4.24" fill="#29b5a4"/>
<rect x="245.32" y="118.74" width="8.15" height="4.24" fill="#18a2c6"/>
<rect x="252.78" y="118.74" width="4.43" height="4.24" fill="#29b5a4"/>
<rect x="256.50" y="118.74" width="11.88" height="4.24" fill="#18a2c6"/>
<rect x="267.68" y="118.74" width="8.15" height="4.24" fill="#29b5a4"/>
<rect x="275.12" y="118.74" width="8.15" height="4.24" fill="#18a2c6"/>
<rect x="282.57" y="118.74" width="3.73" height="4.24" fill="#29b5a4"/>
<rect x="226.70" y="122.28" width="4.43" height="4.24" fill="#29b5a4"/>
<rect x="230.42" y="122.28" width="15.60" height="4.24" fill="#8cbf78"/>
<rect x="245.32" y="122.28" width="4.43" height="4.24" fill="#29b5a4"/>
<rect x="249.05" y="122.28" width="4.43" height="4.24" fill="#d0ba58"/>
<rect x="252.78" y="122.28" width="11.88" height="4.24" fill="#8cbf78"/>
<rect x="263.95" y="122.28" width="4.43" height="4.24" fill="#29b5a4"/>
<rect x="267.68" y="122.28" width="8.15" height="4.24" fill="#8cbf78"/>
<rect x="275.12" y="122.28" width="4.43" height="4.24" fill="#29b5a4"/>
<rect x="278.85" y="122.28" width="4.43" height="4.24" fill="#8cbf78"/>
<rect x="282.57" y="122.28" width="3.73" height="4.24" fill="#29b5a4"/>
<rect x="226.70" y="125.83" width="4.43" height="4.24" fill="#29b5a4"/>
<rect x="230.42" y="125.83" width="4.43" height="4.24" fill="#8cbf78"/>
<rect x="234.15" y="125.83" width="4.43" height="4.24" fill="#29b5a4"/>
<rect x="237.88" y="125.83" width="4.43" height="4.24" fill="#8cbf78"/>
<rect x="241.60" y="125.83" width="8.15" height="4.24" fill="#29b5a4"/>
<rect x="249.05" y="125.83" width="4.43" height="4.24" fill="#18a2c6"/>
<rect x="252.78" y="125.83" width="4.43" height="4.24" fill="#29b5a4"/>
<rect x="256.50" y="125.83" width="4.43" height="4.24" fill="#8cbf78"/>
<rect x="260.23" y="125.83" width="8.15" height="4.24" fill="#29b5a4"/>
<rect x="267.68" y="125.83" width="4.43" height="4.24" fill="#18a2c6"/>
<rect x="271.40" y="125.83" width="4.43" height="4.24" fill="#29b5a4"/>
<rect x="275.12" y="125.83" width="4.43" height="4.24" fill="#18a2c6"/>
<rect x="278.85" y="125.83" width="7.45" height="4.24" fill="#29b5a4"/>
<rect x="226.70" y="129.37" width="4.43" height="4.24" fill="#fbc22a"/>
<rect x="230.42" y="129.37" width="4.43" height="4.24" fill="#d0ba58"/>
<rect x="234.15" y="129.37" width="4.43" height="4.24" fill="#f7e822"/>
<rect x="237.88" y="129.37" width="4.43" height="4.24" fill="#8cbf78"/>
<rect x="241.60" y="129.37" width="8.15" height="4.24" fill="#fbc22a"/>
<rect x="249.05" y="129.37" width="4.43" height="4.24" fill="#8cbf78"/>
<rect x="252.78" y="129.37" width="11.88" height="4.24" fill="#fbc22a"/>
<rect x="263.95" y="129.37" width="4.43" height="4.24" fill="#f7e822"/>
<rect x="267.68" y="129.37" width="4.43" height="4.24" fill="#8cbf78"/>
<rect x="271.40" y="129.37" width="4.43" height="4.24" fill="#fbc22a"/>
<rect x="275.12" y="129.37" width="8.15" height="4.24" fill="#f7e822"/>
<rect x="282.57" y="129.37" width="3.73" height="4.24" fill="#d0ba58"/>
<rect x="226.70" y="132.91" width="4.43" height="4.24" fill="#1f64bc"/>
<rect x="230.42" y="132.91" width="4.43" height="4.24" fill="#1d78c3"/>
<rect x="234.15" y="132.91" width="4.43" height="4.24" fill="#8cbf78"/>
<rect x="237.88" y="132.91" width="11.88" height="4.24" fill="#18a2c6"/>
<rect x="249.05" y="132.91" width="8.15" height="4.24" fill="#29b5a4"/>
<rect x="256.50" y="132.91" width="4.43" height="4.24" fill="#1d78c3"/>
<rect x="260.23" y="132.91" width="8.15" height="4.24" fill="#8cbf78"/>
<rect x="267.68" y="132.91" width="4.43" height="4.24" fill="#29b5a4"/>
<rect x="271.40" y="132.91" width="4.43" height="4.24" fill="#8cbf78"/>
<rect x="275.12" y="132.91" width="4.43" height="4.24" fill="#29b5a4"/>
<rect x="278.85" y="132.91" width="4.43" height="4.24" fill="#d0ba58"/>
<rect x="282.57" y="132.91" width="3.73" height="4.24" fill="#29b5a4"/>
<rect x="226.70" y="136.46" width="4.43" height="3.54" fill="#fbc22a"/>
<rect x="230.42" y="136.46" width="4.43" height="3.54" fill="#8cbf78"/>
<rect x="234.15" y="136.46" width="4.43" height="3.54" fill="#1d78c3"/>
<rect x="237.88" y="136.46" width="4.43" height="3.54" fill="#fbc22a"/>
<rect x="241.60" y="136.46" width="15.60" height="3.54" fill="#18a2c6"/>
<rect x="256.50" y="136.46" width="4.43" height="3.54" fill="#8cbf78"/>
<rect x="260.23" y="136.46" width="4.43" height="3.54" fill="#1d78c3"/>
<rect x="263.95" y="136.46" width="4.43" height="3.54" fill="#18a2c6"/>
<rect x="267.68" y="136.46" width="8.15" height="3.54" fill="#29b5a4"/>
<rect x="275.12" y="136.46" width="11.18" height="3.54" fill="#8cbf78"/>
<rect x="226.70" y="83.30" width="59.60" height="56.70" fill="none" stroke="#444" stroke-width="0.50"/>
<text x="225.20" y="100.65" font-size="3.9" fill="#222" text-anchor="end">5</text>
<text x="243.46" y="146.50" font-size="3.9" fill="#222" text-anchor="middle">5</text>
<text x="225.20" y="118.37" font-size="3.9" fill="#222" text-anchor="end">10</text>
<text x="262.09" y="146.50" font-size="3.9" fill="#222" text-anchor="middle">10</text>
<text x="225.20" y="136.09" font-size="3.9" fill="#222" text-anchor="end">15</text>
<text x="280.71" y="146.50" font-size="3.9" fill="#222" text-anchor="middle">15</text>
</g>
<g>
<rect x="141.60" y="158.60" width="8.60" height="4.19" fill="#fbc22a"/>
<rect x="149.50" y="158.60" width="4.65" height="4.19" fill="#e1bd46"/>
<rect x="153.45" y="158.60" width="4.65" height="4.19" fill="#8cbf78"/>
<rect x="157.40" y="158.60" width="24.40" height="4.19" fill="#e1bd46"/>
<rect x="181.10" y="158.60" width="12.55" height="4.19" fill="#8cbf78"/>
<rect x="192.95" y="158.60" width="8.60" height="4.19" fill="#fbc22a"/>
<rect x="200.85" y="158.60" width="3.95" height="4.19" fill="#e1bd46"/>
<rect x="141.60" y="162.09" width="8.60" height="4.19" fill="#fbc22a"/>
<rect x="149.50" y="162.09" width="4.65" height="4.19" fill="#ddbc4a"/>
<rect x="153.45" y="162.09" width="4.65" height="4.19" fill="#fbc22a"/>
<rect x="157.40" y="162.09" width="8.60" height="4.19" fill="#e6be41"/>
<rect x="165.30" y="162.09" width="12.55" height="4.19" fill="#fbc22a"/>
<rect x="177.15" y="162.09" width="4.65" height="4.19" fill="#e6be41"/>
<rect x="181.10" y="162.09" width="12.55" height="4.19" fill="#e1bd46"/>
<rect x="192.95" y="162.09" width="4.65" height="4.19" fill="#fbc22a"/>
<rect x="196.90" y="162.09" width="7.90" height="4.19" fill="#e1bd46"/>
<rect x="141.60" y="165.57" width="4.65" height="4.19" fill="#29b5a4"/>
<rect x="145.55" y="165.57" width="8.60" height="4.19" fill="#18a2c6"/>
<rect x="153.45" y="165.57" width="4.65" height="4.19" fill="#29b5a4"/>
<rect x="157.40" y="165.57" width="4.65" height="4.19" fill="#8cbf78"/>
<rect x="161.35" y="165.57" width="43.45" height="4.19" fill="#29b5a4"/>
<rect x="141.60" y="169.06" width="4.65" height="4.19" fill="#18a2c6"/>
<rect x="145.55" y="169.06" width="4.65" height="4.19" fill="#1d78c3"/>
<rect x="149.50" y="169.06" width="4.65" height="4.19" fill="#18a2c6"/>
<rect x="153.45" y="169.06" width="4.65" height="4.19" fill="#29b5a4"/>
<rect x="157.40" y="169.06" width="8.60" height="4.19" fill="#18a2c6"/>
<rect x="165.30" y="169.06" width="24.40" height="4.19" fill="#29b5a4"/>
<rect x="189.00" y="169.06" width="15.80" height="4.19" fill="#18a2c6"/>
<rect x="141.60" y="172.55" width="4.65" height="4.19" fill="#1f64bc"/>
<rect x="145.55" y="172.55" width="4.65" height="4.19" fill="#1d78c3"/>
<rect x="149.50" y="172.55" width="4.65" height="4.19" fill="#18a2c6"/>
<rect x="153.45" y="172.55" width="4.65" height="4.19" fill="#1d78c3"/>
<rect x="157.40" y="172.55" width="16.50" height="4.19" fill="#1f64bc"/>
<rect x="173.20" y="172.55" width="4.65" height="4.19" fill="#18a2c6"/>
<rect x="177.15" y="172.55" width="4.65" height="4.19" fill="#1f64bc"/>
<rect x="181.10" y="172.55" width="4.65" height="4.19" fill="#18a2c6"/>
<rect x="185.05" y="172.55" width="4.65" height="4.19" fill="#1d78c3"/>
<rect x="189.00" y="172.55" width="4.65" height="4.19" fill="#1f64bc"/>
<rect x="192.95" y="172.55" width="4.65" height="4.19" fill="#2a2e88"/>
<rect x="196.90" y="172.55" width="4.65" height="4.19" fill="#1d78c3"/>
<rect x="200.85" y="172.55" width="3.95" height="4.19" fill="#18a2c6"/>
<rect x="141.60" y="176.04" width="4.65" height="4.19" fill="#1d78c3"/>
<rect x="145.55" y="176.04" width="4.65" height="4.19" fill="#18a2c6"/>
<rect x="149.50" y="176.04" width="4.65" height="4.19" fill="#29b5a4"/>
<rect x="153.45" y="176.04" width="12.55" height="4.19" fill="#18a2c6"/>
<rect x="165.30" y="176.04" width="4.65" height="4.19" fill="#8cbf78"/>
<rect x="169.25" y="176.04" width="4.65" height="4.19" fill="#29b5a4"/>
<rect x="173.20" y="176.04" width="4.65" height="4.19" fill="#18a2c6"/>
<rect x="177.15" y="176.04" width="4.65" height="4.19" fill="#1d78c3"/>
<rect x="181.10" y="176.04" width="4.65" height="4.19" fill="#18a2c6"/>
<rect x="185.05" y="176.04" width="4.65" height="4.19" fill="#8cbf78"/>
<rect x="189.00" y="176.04" width="12.55" height="4.19" fill="#18a2c6"/>
<rect x="200.85" y="176.04" width="3.95" height="4.19" fill="#29b5a4"/>
<rect x="141.60" y="179.53" width="4.65" height="4.19" fill="#d0ba58"/>
<rect x="145.55" y="179.53" width="4.65" height="4.19" fill="#8cbf78"/>
<rect x="149.50" y="179.53" width="4.65" height="4.19" fill="#29b5a4"/>
<rect x="153.45" y="179.53" width="4.65" height="4.19" fill="#8cbf78"/>
<rect x="157.40" y="179.53" width="16.50" height="4.19" fill="#29b5a4"/>
<rect x="173.20" y="179.53" width="4.65" height="4.19" fill="#8cbf78"/>
<rect x="177.15" y="179.53" width="4.65" height="4.19" fill="#fbc22a"/>
<rect x="181.10" y="179.53" width="12.55" height="4.19" fill="#29b5a4"/>
<rect x="192.95" y="179.53" width="11.85" height="4.19" fill="#8cbf78"/>
<rect x="141.60" y="183.01" width="12.55" height="4.19" fill="#29b5a4"/>
<rect x="153.45" y="183.01" width="4.65" height="4.19" fill="#8cbf78"/>
<rect x="157.40" y="183.01" width="16.50" height="4.19" fill="#29b5a4"/>
<rect x="173.20" y="183.01" width="8.60" height="4.19" fill="#8cbf78"/>
<rect x="181.10" y="183.01" width="8.60" height="4.19" fill="#29b5a4"/>
<rect x="189.00" y="183.01" width="4.65" height="4.19" fill="#8cbf78"/>
<rect x="192.95" y="183.01" width="11.85" height="4.19" fill="#29b5a4"/>
<rect x="141.60" y="186.50" width="12.55" height="4.19" fill="#8cbf78"/>
<rect x="153.45" y="186.50" width="4.65" height="4.19" fill="#d0ba58"/>
<rect x="157.40" y="186.50" width="12.55" height="4.19" fill="#8cbf78"/>
<rect x="169.25" y="186.50" width="8.60" height="4.19" fill="#29b5a4"/>
<rect x="177.15" y="186.50" width="4.65" height="4.19" fill="#8cbf78"/>
<rect x="181.10" y="186.50" width="4.65" height="4.19" fill="#d0ba58"/>
<rect x="185.05" y="186.50" width="4.65" height="4.19" fill="#8cbf78"/>
<rect x="189.00" y="186.50" width="12.55" height="4.19" fill="#29b5a4"/>
<rect x="200.85" y="186.50" width="3.95" height="4.19" fill="#8cbf78"/>
<rect x="141.60" y="189.99" width="4.65" height="4.19" fill="#1d78c3"/>
<rect x="145.55" y="189.99" width="4.65" height="4.19" fill="#1f64bc"/>
<rect x="149.50" y="189.99" width="4.65" height="4.19" fill="#18a2c6"/>
<rect x="153.45" y="189.99" width="20.45" height="4.19" fill="#1f64bc"/>
<rect x="173.20" y="189.99" width="4.65" height="4.19" fill="#2a2e88"/>
<rect x="177.15" y="189.99" width="8.60" height="4.19" fill="#18a2c6"/>
<rect x="185.05" y="189.99" width="4.65" height="4.19" fill="#1d78c3"/>
<rect x="189.00" y="189.99" width="4.65" height="4.19" fill="#2a2e88"/>
<rect x="192.95" y="189.99" width="4.65" height="4.19" fill="#1f64bc"/>
<rect x="196.90" y="189.99" width="7.90" height="4.19" fill="#1d78c3"/>
<rect x="141.60" y="193.47" width="44.15" height="4.19" fill="#18a2c6"/>
<rect x="185.05" y="193.47" width="12.55" height="4.19" fill="#1d78c3"/>
<rect x="196.90" y="193.47" width="7.90" height="4.19" fill="#18a2c6"/>
<rect x="141.60" y="196.96" width="4.65" height="4.19" fill="#29b5a4"/>
<rect x="145.55" y="196.96" width="4.65" height="4.19" fill="#8cbf78"/>
<rect x="149.50" y="196.96" width="4.65" height="4.19" fill="#1d78c3"/>
<rect x="153.45" y="196.96" width="8.60" height="4.19" fill="#29b5a4"/>
<rect x="161.35" y="196.96" width="4.65" height="4.19" fill="#fbc22a"/>
<rect x="165.30" y="196.96" width="4.65" height="4.19" fill="#8cbf78"/>
<rect x="169.25" y="196.96" width="4.65" height="4.19" fill="#18a2c6"/>
<rect x="173.20" y="196.96" width="16.50" height="4.19" fill="#29b5a4"/>
<rect x="189.00" y="196.96" width="4.65" height="4.19" fill="#8cbf78"/>
<rect x="192.95" y="196.96" width="4.65" height="4.19" fill="#fbc22a"/>
<rect x="196.90" y="196.96" width="7.90" height="4.19" fill="#29b5a4"/>
<rect x="141.60" y="200.45" width="4.65" height="4.19" fill="#fbc22a"/>
<rect x="145.55" y="200.45" width="4.65" height="4.19" fill="#d0ba58"/>
<rect x="149.50" y="200.45" width="4.65" height="4.19" fill="#fbc22a"/>
<rect x="153.45" y="200.45" width="8.60" height="4.19" fill="#d0ba58"/>
<rect x="161.35" y="200.45" width="12.55" height="4.19" fill="#8cbf78"/>
<rect x="173.20" y="200.45" width="4.65" height="4.19" fill="#fbc22a"/>
<rect x="177.15" y="200.45" width="4.65" height="4.19" fill="#8cbf78"/>
<rect x="181.10" y="200.45" width="4.65" height="4.19" fill="#29b5a4"/>
<rect x="185.05" y="200.45" width="12.55" height="4.19" fill="#8cbf78"/>
<rect x="196.90" y="200.45" width="7.90" height="4.19" fill="#29b5a4"/>
<rect x="141.60" y="203.94" width="4.65" height="4.19" fill="#29b5a4"/>
<rect x="145.55" y="203.94" width="12.55" height="4.19" fill="#8cbf78"/>
<rect x="157.40" y="203.94" width="12.55" height="4.19" fill="#29b5a4"/>
<rect x="169.25" y="203.94" width="4.65" height="4.19" fill="#fbc22a"/>
<rect x="173.20" y="203.94" width="16.50" height="4.19" fill="#d0ba58"/>
<rect x="189.00" y="203.94" width="4.65" height="4.19" fill="#f7e822"/>
<rect x="192.95" y="203.94" width="11.85" height="4.19" fill="#29b5a4"/>
<rect x="141.60" y="207.43" width="4.65" height="4.19" fill="#18a2c6"/>
<rect x="145.55" y="207.43" width="4.65" height="4.19" fill="#8cbf78"/>
<rect x="149.50" y="207.43" width="8.60" height="4.19" fill="#29b5a4"/>
<rect x="157.40" y="207.43" width="4.65" height="4.19" fill="#d0ba58"/>
<rect x="161.35" y="207.43" width="4.65" height="4.19" fill="#18a2c6"/>
<rect x="165.30" y="207.43" width="8.60" height="4.19" fill="#1f64bc"/>
<rect x="173.20" y="207.43" width="4.65" height="4.19" fill="#1d78c3"/>
<rect x="177.15" y="207.43" width="8.60" height="4.19" fill="#29b5a4"/>
<rect x="185.05" y="207.43" width="4.65" height="4.19" fill="#18a2c6"/>
<rect x="189.00" y="207.43" width="8.60" height="4.19" fill="#1d78c3"/>
<rect x="196.90" y="207.43" width="4.65" height="4.19" fill="#18a2c6"/>
<rect x="200.85" y="207.43" width="3.95" height="4.19" fill="#20acb5"/>
<rect x="141.60" y="210.91" width="4.65" height="3.49" fill="#8cbf78"/>
<rect x="145.55" y="210.91" width="16.50" height="3.49" fill="#18a2c6"/>
<rect x="161.35" y="210.91" width="4.65" height="3.49" fill="#fbc22a"/>
<rect x="165.30" y="210.91" width="4.65" height="3.49" fill="#f7e822"/>
<rect x="169.25" y="210.91" width="4.65" height="3.49" fill="#8cbf78"/>
<rect x="173.20" y="210.91" width="4.65" height="3.49" fill="#18a2c6"/>
<rect x="177.15" y="210.91" width="8.60" height="3.49" fill="#1d78c3"/>
<rect x="185.05" y="210.91" width="8.60" height="3.49" fill="#18a2c6"/>
<rect x="192.95" y="210.91" width="4.65" height="3.49" fill="#29b5a4"/>
<rect x="196.90" y="210.91" width="4.65" height="3.49" fill="#5aba8e"/>
<rect x="200.85" y="210.91" width="3.95" height="3.49" fill="#8cbf78"/>
<rect x="141.60" y="158.60" width="63.20" height="55.80" fill="none" stroke="#444" stroke-width="0.50"/>
<text x="140.10" y="175.70" font-size="3.9" fill="#222" text-anchor="end">5</text>
<text x="159.38" y="220.90" font-size="3.9" fill="#222" text-anchor="middle">5</text>
<text x="140.10" y="193.14" font-size="3.9" fill="#222" text-anchor="end">10</text>
<text x="179.12" y="220.90" font-size="3.9" fill="#222" text-anchor="middle">10</text>
<text x="140.10" y="210.57" font-size="3.9" fill="#222" text-anchor="end">15</text>
<text x="198.88" y="220.90" font-size="3.9" fill="#222" text-anchor="middle">15</text>
</g>
<g>
<rect x="226.80" y="158.30" width="8.26" height="4.21" fill="#fbc22a"/>
<rect x="234.36" y="158.30" width="4.48" height="4.21" fill="#d0ba58"/>
<rect x="238.14" y="158.30" width="15.82" height="4.21" fill="#fbc22a"/>
<rect x="253.27" y="158.30" width="8.26" height="4.21" fill="#d0ba58"/>
<rect x="260.83" y="158.30" width="4.48" height="4.21" fill="#fbc22a"/>
<rect x="264.61" y="158.30" width="4.48" height="4.21" fill="#d0ba58"/>
<rect x="268.39" y="158.30" width="4.48" height="4.21" fill="#f7e822"/>
<rect x="272.18" y="158.30" width="4.48" height="4.21" fill="#fbc22a"/>
<rect x="275.96" y="158.30" width="4.48" height="4.21" fill="#d0ba58"/>
<rect x="279.74" y="158.30" width="4.48" height="4.21" fill="#f7e822"/>
<rect x="283.52" y="158.30" width="3.78" height="4.21" fill="#d0ba58"/>
<rect x="226.80" y="161.81" width="15.82" height="4.21" fill="#fbc22a"/>
<rect x="241.93" y="161.81" width="4.48" height="4.21" fill="#d0ba58"/>
<rect x="245.71" y="161.81" width="4.48" height="4.21" fill="#f7e822"/>
<rect x="249.49" y="161.81" width="19.61" height="4.21" fill="#d0ba58"/>
<rect x="268.39" y="161.81" width="8.26" height="4.21" fill="#fbc22a"/>
<rect x="275.96" y="161.81" width="4.48" height="4.21" fill="#d0ba58"/>
<rect x="279.74" y="161.81" width="7.56" height="4.21" fill="#fbc22a"/>
<rect x="226.80" y="165.33" width="4.48" height="4.21" fill="#8cbf78"/>
<rect x="230.58" y="165.33" width="4.48" height="4.21" fill="#d0ba58"/>
<rect x="234.36" y="165.33" width="4.48" height="4.21" fill="#8cbf78"/>
<rect x="238.14" y="165.33" width="8.26" height="4.21" fill="#d0ba58"/>
<rect x="245.71" y="165.33" width="4.48" height="4.21" fill="#8cbf78"/>
<rect x="249.49" y="165.33" width="15.82" height="4.21" fill="#d0ba58"/>
<rect x="264.61" y="165.33" width="8.26" height="4.21" fill="#8cbf78"/>
<rect x="272.18" y="165.33" width="4.48" height="4.21" fill="#d0ba58"/>
<rect x="275.96" y="165.33" width="4.48" height="4.21" fill="#8cbf78"/>
<rect x="279.74" y="165.33" width="4.48" height="4.21" fill="#fbc22a"/>
<rect x="283.52" y="165.33" width="3.78" height="4.21" fill="#d0ba58"/>
<rect x="226.80" y="168.84" width="4.48" height="4.21" fill="#d0ba58"/>
<rect x="230.58" y="168.84" width="8.26" height="4.21" fill="#fbc22a"/>
<rect x="238.14" y="168.84" width="4.48" height="4.21" fill="#8cbf78"/>
<rect x="241.93" y="168.84" width="4.48" height="4.21" fill="#fbc22a"/>
<rect x="245.71" y="168.84" width="4.48" height="4.21" fill="#d0ba58"/>
<rect x="249.49" y="168.84" width="8.26" height="4.21" fill="#fbc22a"/>
<rect x="257.05" y="168.84" width="4.48" height="4.21" fill="#8cbf78"/>
<rect x="260.83" y="168.84" width="4.48" height="4.21" fill="#fbc22a"/>
<rect x="264.61" y="168.84" width="4.48" height="4.21" fill="#8cbf78"/>
<rect x="268.39" y="168.84" width="12.04" height="4.21" fill="#d0ba58"/>
<rect x="279.74" y="168.84" width="4.48" height="4.21" fill="#fbc22a"/>
<rect x="283.52" y="168.84" width="3.78" height="4.21" fill="#d0ba58"/>
<rect x="226.80" y="172.35" width="4.48" height="4.21" fill="#d0ba58"/>
<rect x="230.58" y="172.35" width="4.48" height="4.21" fill="#18a2c6"/>
<rect x="234.36" y="172.35" width="4.48" height="4.21" fill="#d0ba58"/>
<rect x="238.14" y="172.35" width="4.48" height="4.21" fill="#8cbf78"/>
<rect x="241.93" y="172.35" width="8.26" height="4.21" fill="#29b5a4"/>
<rect x="249.49" y="172.35" width="8.26" height="4.21" fill="#8cbf78"/>
<rect x="257.05" y="172.35" width="4.48" height="4.21" fill="#18a2c6"/>
<rect x="260.83" y="172.35" width="15.82" height="4.21" fill="#8cbf78"/>
<rect x="275.96" y="172.35" width="4.48" height="4.21" fill="#18a2c6"/>
<rect x="279.74" y="172.35" width="4.48" height="4.21" fill="#8cbf78"/>
<rect x="283.52" y="172.35" width="3.78" height="4.21" fill="#d0ba58"/>
<rect x="226.80" y="175.86" width="4.48" height="4.21" fill="#d0ba58"/>
<rect x="230.58" y="175.86" width="4.48" height="4.21" fill="#8cbf78"/>
<rect x="234.36" y="175.86" width="15.82" height="4.21" fill="#d0ba58"/>
<rect x="249.49" y="175.86" width="8.26" height="4.21" fill="#fbc22a"/>
<rect x="257.05" y="175.86" width="4.48" height="4.21" fill="#f7e822"/>
<rect x="260.83" y="175.86" width="12.04" height="4.21" fill="#d0ba58"/>
<rect x="272.18" y="175.86" width="4.48" height="4.21" fill="#f7e822"/>
<rect x="275.96" y="175.86" width="4.48" height="4.21" fill="#fbc22a"/>
<rect x="279.74" y="175.86" width="7.56" height="4.21" fill="#d0ba58"/>
<rect x="226.80" y="179.38" width="4.48" height="4.21" fill="#fbc22a"/>
<rect x="230.58" y="179.38" width="4.48" height="4.21" fill="#d0ba58"/>
<rect x="234.36" y="179.38" width="4.48" height="4.21" fill="#18a2c6"/>
<rect x="238.14" y="179.38" width="12.04" height="4.21" fill="#8cbf78"/>
<rect x="249.49" y="179.38" width="4.48" height="4.21" fill="#29b5a4"/>
<rect x="253.27" y="179.38" width="8.26" height="4.21" fill="#fbc22a"/>
<rect x="260.83" y="179.38" width="4.48" height="4.21" fill="#d0ba58"/>
<rect x="264.61" y="179.38" width="4.48" height="4.21" fill="#29b5a4"/>
<rect x="268.39" y="179.38" width="8.26" height="4.21" fill="#8cbf78"/>
<rect x="275.96" y="179.38" width="8.26" height="4.21" fill="#fbc22a"/>
<rect x="283.52" y="179.38" width="3.78" height="4.21" fill="#d0ba58"/>
<rect x="226.80" y="182.89" width="4.48" height="4.21" fill="#fbc22a"/>
<rect x="230.58" y="182.89" width="8.26" height="4.21" fill="#8cbf78"/>
<rect x="238.14" y="182.89" width="15.82" height="4.21" fill="#29b5a4"/>
<rect x="253.27" y="182.89" width="8.26" height="4.21" fill="#8cbf78"/>
<rect x="260.83" y="182.89" width="8.26" height="4.21" fill="#fbc22a"/>
<rect x="268.39" y="182.89" width="4.48" height="4.21" fill="#18a2c6"/>
<rect x="272.18" y="182.89" width="4.48" height="4.21" fill="#29b5a4"/>
<rect x="275.96" y="182.89" width="4.48" height="4.21" fill="#8cbf78"/>
<rect x="279.74" y="182.89" width="4.48" height="4.21" fill="#fbc22a"/>
<rect x="283.52" y="182.89" width="3.78" height="4.21" fill="#d0ba58"/>
<rect x="226.80" y="186.40" width="4.48" height="4.21" fill="#29b5a4"/>
<rect x="230.58" y="186.40" width="19.61" height="4.21" fill="#18a2c6"/>
<rect x="249.49" y="186.40" width="4.48" height="4.21" fill="#29b5a4"/>
<rect x="253.27" y="186.40" width="8.26" height="4.21" fill="#18a2c6"/>
<rect x="260.83" y="186.40" width="4.48" height="4.21" fill="#1d78c3"/>
<rect x="264.61" y="186.40" width="8.26" height="4.21" fill="#18a2c6"/>
<rect x="272.18" y="186.40" width="4.48" height="4.21" fill="#29b5a4"/>
<rect x="275.96" y="186.40" width="11.34" height="4.21" fill="#18a2c6"/>
<rect x="226.80" y="189.91" width="4.48" height="4.21" fill="#18a2c6"/>
<rect x="230.58" y="189.91" width="4.48" height="4.21" fill="#1d78c3"/>
<rect x="234.36" y="189.91" width="4.48" height="4.21" fill="#2a2e88"/>
<rect x="238.14" y="189.91" width="12.04" height="4.21" fill="#1f64bc"/>
<rect x="249.49" y="189.91" width="4.48" height="4.21" fill="#18a2c6"/>
<rect x="253.27" y="189.91" width="4.48" height="4.21" fill="#1d78c3"/>
<rect x="257.05" y="189.91" width="4.48" height="4.21" fill="#18a2c6"/>
<rect x="260.83" y="189.91" width="4.48" height="4.21" fill="#1f64bc"/>
<rect x="264.61" y="189.91" width="4.48" height="4.21" fill="#2a2e88"/>
<rect x="268.39" y="189.91" width="4.48" height="4.21" fill="#1f64bc"/>
<rect x="272.18" y="189.91" width="8.26" height="4.21" fill="#1d78c3"/>
<rect x="279.74" y="189.91" width="7.56" height="4.21" fill="#1f64bc"/>
<rect x="226.80" y="193.43" width="4.48" height="4.21" fill="#8cbf78"/>
<rect x="230.58" y="193.43" width="4.48" height="4.21" fill="#18a2c6"/>
<rect x="234.36" y="193.43" width="4.48" height="4.21" fill="#29b5a4"/>
<rect x="238.14" y="193.43" width="15.82" height="4.21" fill="#18a2c6"/>
<rect x="253.27" y="193.43" width="4.48" height="4.21" fill="#8cbf78"/>
<rect x="257.05" y="193.43" width="4.48" height="4.21" fill="#29b5a4"/>
<rect x="260.83" y="193.43" width="12.04" height="4.21" fill="#18a2c6"/>
<rect x="272.18" y="193.43" width="4.48" height="4.21" fill="#29b5a4"/>
<rect x="275.96" y="193.43" width="4.48" height="4.21" fill="#18a2c6"/>
<rect x="279.74" y="193.43" width="4.48" height="4.21" fill="#8cbf78"/>
<rect x="283.52" y="193.43" width="3.78" height="4.21" fill="#18a2c6"/>
<rect x="226.80" y="196.94" width="12.04" height="4.21" fill="#18a2c6"/>
<rect x="238.14" y="196.94" width="8.26" height="4.21" fill="#1f64bc"/>
<rect x="245.71" y="196.94" width="4.48" height="4.21" fill="#18a2c6"/>
<rect x="249.49" y="196.94" width="4.48" height="4.21" fill="#1f64bc"/>
<rect x="253.27" y="196.94" width="4.48" height="4.21" fill="#8cbf78"/>
<rect x="257.05" y="196.94" width="8.26" height="4.21" fill="#1d78c3"/>
<rect x="264.61" y="196.94" width="4.48" height="4.21" fill="#18a2c6"/>
<rect x="268.39" y="196.94" width="4.48" height="4.21" fill="#1f64bc"/>
<rect x="272.18" y="196.94" width="4.48" height="4.21" fill="#29b5a4"/>
<rect x="275.96" y="196.94" width="11.34" height="4.21" fill="#18a2c6"/>
<rect x="226.80" y="200.45" width="4.48" height="4.21" fill="#1d78c3"/>
<rect x="230.58" y="200.45" width="4.48" height="4.21" fill="#18a2c6"/>
<rect x="234.36" y="200.45" width="4.48" height="4.21" fill="#29b5a4"/>
<rect x="238.14" y="200.45" width="8.26" height="4.21" fill="#18a2c6"/>
<rect x="245.71" y="200.45" width="4.48" height="4.21" fill="#2a2e88"/>
<rect x="249.49" y="200.45" width="8.26" height="4.21" fill="#18a2c6"/>
<rect x="257.05" y="200.45" width="4.48" height="4.21" fill="#29b5a4"/>
<rect x="260.83" y="200.45" width="12.04" height="4.21" fill="#18a2c6"/>
<rect x="272.18" y="200.45" width="8.26" height="4.21" fill="#1d78c3"/>
<rect x="279.74" y="200.45" width="7.56" height="4.21" fill="#18a2c6"/>
<rect x="226.80" y="203.96" width="4.48" height="4.21" fill="#1d78c3"/>
<rect x="230.58" y="203.96" width="4.48" height="4.21" fill="#18a2c6"/>
<rect x="234.36" y="203.96" width="4.48" height="4.21" fill="#1d78c3"/>
<rect x="238.14" y="203.96" width="4.48" height="4.21" fill="#8cbf78"/>
<rect x="241.93" y="203.96" width="8.26" height="4.21" fill="#1f64bc"/>
<rect x="249.49" y="203.96" width="4.48" height="4.21" fill="#18a2c6"/>
<rect x="253.27" y="203.96" width="4.48" height="4.21" fill="#2a2e88"/>
<rect x="257.05" y="203.96" width="8.26" height="4.21" fill="#18a2c6"/>
<rect x="264.61" y="203.96" width="4.48" height="4.21" fill="#1f64bc"/>
<rect x="268.39" y="203.96" width="4.48" height="4.21" fill="#18a2c6"/>
<rect x="272.18" y="203.96" width="8.26" height="4.21" fill="#1f64bc"/>
<rect x="279.74" y="203.96" width="4.48" height="4.21" fill="#18a2c6"/>
<rect x="283.52" y="203.96" width="3.78" height="4.21" fill="#1d78c3"/>
<rect x="226.80" y="207.47" width="4.48" height="4.21" fill="#d0ba58"/>
<rect x="230.58" y="207.47" width="4.48" height="4.21" fill="#18a2c6"/>
<rect x="234.36" y="207.47" width="4.48" height="4.21" fill="#1d78c3"/>
<rect x="238.14" y="207.47" width="4.48" height="4.21" fill="#f7e822"/>
<rect x="241.93" y="207.47" width="4.48" height="4.21" fill="#1d78c3"/>
<rect x="245.71" y="207.47" width="4.48" height="4.21" fill="#fbc22a"/>
<rect x="249.49" y="207.47" width="8.26" height="4.21" fill="#1f64bc"/>
<rect x="257.05" y="207.47" width="8.26" height="4.21" fill="#18a2c6"/>
<rect x="264.61" y="207.47" width="4.48" height="4.21" fill="#29b5a4"/>
<rect x="268.39" y="207.47" width="8.26" height="4.21" fill="#18a2c6"/>
<rect x="275.96" y="207.47" width="4.48" height="4.21" fill="#1d78c3"/>
<rect x="279.74" y="207.47" width="4.48" height="4.21" fill="#18a2c6"/>
<rect x="283.52" y="207.47" width="3.78" height="4.21" fill="#8cbf78"/>
<rect x="226.80" y="210.99" width="4.48" height="3.51" fill="#18a2c6"/>
<rect x="230.58" y="210.99" width="4.48" height="3.51" fill="#1d78c3"/>
<rect x="234.36" y="210.99" width="4.48" height="3.51" fill="#fbc22a"/>
<rect x="238.14" y="210.99" width="4.48" height="3.51" fill="#1f64bc"/>
<rect x="241.93" y="210.99" width="4.48" height="3.51" fill="#8cbf78"/>
<rect x="245.71" y="210.99" width="4.48" height="3.51" fill="#18a2c6"/>
<rect x="249.49" y="210.99" width="4.48" height="3.51" fill="#29b5a4"/>
<rect x="253.27" y="210.99" width="4.48" height="3.51" fill="#8cbf78"/>
<rect x="257.05" y="210.99" width="4.48" height="3.51" fill="#29b5a4"/>
<rect x="260.83" y="210.99" width="8.26" height="3.51" fill="#18a2c6"/>
<rect x="268.39" y="210.99" width="4.48" height="3.51" fill="#1d78c3"/>
<rect x="272.18" y="210.99" width="8.26" height="3.51" fill="#18a2c6"/>
<rect x="279.74" y="210.99" width="4.48" height="3.51" fill="#1d78c3"/>
<rect x="283.52" y="210.99" width="3.78" height="3.51" fill="#18a2c6"/>
<rect x="226.80" y="158.30" width="60.50" height="56.20" fill="none" stroke="#444" stroke-width="0.50"/>
<text x="225.30" y="175.51" font-size="3.9" fill="#222" text-anchor="end">5</text>
<text x="243.82" y="221.00" font-size="3.9" fill="#222" text-anchor="middle">5</text>
<text x="225.30" y="193.07" font-size="3.9" fill="#222" text-anchor="end">10</text>
<text x="262.72" y="221.00" font-size="3.9" fill="#222" text-anchor="middle">10</text>
<text x="225.30" y="210.64" font-size="3.9" fill="#222" text-anchor="end">15</text>
<text x="281.63" y="221.00" font-size="3.9" fill="#222" text-anchor="middle">15</text>
</g>
<g>
<rect x="141.60" y="231.70" width="8.57" height="4.18" fill="#d0ba58"/>
<rect x="149.47" y="231.70" width="12.51" height="4.18" fill="#fbc22a"/>
<rect x="161.29" y="231.70" width="4.64" height="4.18" fill="#d0ba58"/>
<rect x="165.22" y="231.70" width="8.57" height="4.18" fill="#fbc22a"/>
<rect x="173.10" y="231.70" width="4.64" height="4.18" fill="#d0ba58"/>
<rect x="177.04" y="231.70" width="4.64" height="4.18" fill="#fbc22a"/>
<rect x="180.97" y="231.70" width="4.64" height="4.18" fill="#d0ba58"/>
<rect x="184.91" y="231.70" width="12.51" height="4.18" fill="#8cbf78"/>
<rect x="196.72" y="231.70" width="4.64" height="4.18" fill="#f7e822"/>
<rect x="200.66" y="231.70" width="3.94" height="4.18" fill="#8cbf78"/>
<rect x="141.60" y="235.17" width="24.32" height="4.18" fill="#d0ba58"/>
<rect x="165.22" y="235.17" width="4.64" height="4.18" fill="#8cbf78"/>
<rect x="169.16" y="235.17" width="4.64" height="4.18" fill="#fbc22a"/>
<rect x="173.10" y="235.17" width="24.32" height="4.18" fill="#d0ba58"/>
<rect x="196.72" y="235.17" width="4.64" height="4.18" fill="#8cbf78"/>
<rect x="200.66" y="235.17" width="3.94" height="4.18" fill="#d0ba58"/>
<rect x="141.60" y="238.65" width="16.45" height="4.18" fill="#8cbf78"/>
<rect x="157.35" y="238.65" width="4.64" height="4.18" fill="#29b5a4"/>
<rect x="161.29" y="238.65" width="12.51" height="4.18" fill="#8cbf78"/>
<rect x="173.10" y="238.65" width="4.64" height="4.18" fill="#29b5a4"/>
<rect x="177.04" y="238.65" width="4.64" height="4.18" fill="#8cbf78"/>
<rect x="180.97" y="238.65" width="4.64" height="4.18" fill="#29b5a4"/>
<rect x="184.91" y="238.65" width="12.51" height="4.18" fill="#8cbf78"/>
<rect x="196.72" y="238.65" width="4.64" height="4.18" fill="#29b5a4"/>
<rect x="200.66" y="238.65" width="3.94" height="4.18" fill="#8cbf78"/>
<rect x="141.60" y="242.12" width="4.64" height="4.18" fill="#18a2c6"/>
<rect x="145.54" y="242.12" width="4.64" height="4.18" fill="#1d78c3"/>
<rect x="149.47" y="242.12" width="8.57" height="4.18" fill="#18a2c6"/>
<rect x="157.35" y="242.12" width="8.57" height="4.18" fill="#29b5a4"/>
<rect x="165.22" y="242.12" width="8.57" height="4.18" fill="#18a2c6"/>
<rect x="173.10" y="242.12" width="8.57" height="4.18" fill="#29b5a4"/>
<rect x="180.97" y="242.12" width="23.62" height="4.18" fill="#18a2c6"/>
<rect x="141.60" y="245.60" width="4.64" height="4.18" fill="#18a2c6"/>
<rect x="145.54" y="245.60" width="4.64" height="4.18" fill="#1d78c3"/>
<rect x="149.47" y="245.60" width="12.51" height="4.18" fill="#1f64bc"/>
<rect x="161.29" y="245.60" width="4.64" height="4.18" fill="#1d78c3"/>
<rect x="165.22" y="245.60" width="4.64" height="4.18" fill="#2a2e88"/>
<rect x="169.16" y="245.60" width="4.64" height="4.18" fill="#1f64bc"/>
<rect x="173.10" y="245.60" width="8.57" height="4.18" fill="#18a2c6"/>
<rect x="180.97" y="245.60" width="8.57" height="4.18" fill="#1f64bc"/>
<rect x="188.85" y="245.60" width="4.64" height="4.18" fill="#2a2e88"/>
<rect x="192.79" y="245.60" width="4.64" height="4.18" fill="#1d78c3"/>
<rect x="196.72" y="245.60" width="4.64" height="4.18" fill="#18a2c6"/>
<rect x="200.66" y="245.60" width="3.94" height="4.18" fill="#1d78c3"/>
<rect x="141.60" y="249.07" width="4.64" height="4.18" fill="#29b5a4"/>
<rect x="145.54" y="249.07" width="8.57" height="4.18" fill="#8cbf78"/>
<rect x="153.41" y="249.07" width="12.51" height="4.18" fill="#18a2c6"/>
<rect x="165.22" y="249.07" width="4.64" height="4.18" fill="#29b5a4"/>
<rect x="169.16" y="249.07" width="4.64" height="4.18" fill="#8cbf78"/>
<rect x="173.10" y="249.07" width="8.57" height="4.18" fill="#18a2c6"/>
<rect x="180.97" y="249.07" width="4.64" height="4.18" fill="#d0ba58"/>
<rect x="184.91" y="249.07" width="4.64" height="4.18" fill="#18a2c6"/>
<rect x="188.85" y="249.07" width="4.64" height="4.18" fill="#1d78c3"/>
<rect x="192.79" y="249.07" width="4.64" height="4.18" fill="#18a2c6"/>
<rect x="196.72" y="249.07" width="7.88" height="4.18" fill="#29b5a4"/>
<rect x="141.60" y="252.55" width="8.57" height="4.18" fill="#29b5a4"/>
<rect x="149.47" y="252.55" width="8.57" height="4.18" fill="#8cbf78"/>
<rect x="157.35" y="252.55" width="8.57" height="4.18" fill="#29b5a4"/>
<rect x="165.22" y="252.55" width="4.64" height="4.18" fill="#18a2c6"/>
<rect x="169.16" y="252.55" width="4.64" height="4.18" fill="#29b5a4"/>
<rect x="173.10" y="252.55" width="12.51" height="4.18" fill="#18a2c6"/>
<rect x="184.91" y="252.55" width="4.64" height="4.18" fill="#d0ba58"/>
<rect x="188.85" y="252.55" width="12.51" height="4.18" fill="#18a2c6"/>
<rect x="200.66" y="252.55" width="3.94" height="4.18" fill="#29b5a4"/>
<rect x="141.60" y="256.02" width="4.64" height="4.18" fill="#d0ba58"/>
<rect x="145.54" y="256.02" width="4.64" height="4.18" fill="#8cbf78"/>
<rect x="149.47" y="256.02" width="4.64" height="4.18" fill="#fbc22a"/>
<rect x="153.41" y="256.02" width="4.64" height="4.18" fill="#8cbf78"/>
<rect x="157.35" y="256.02" width="4.64" height="4.18" fill="#d0ba58"/>
<rect x="161.29" y="256.02" width="4.64" height="4.18" fill="#8cbf78"/>
<rect x="165.22" y="256.02" width="4.64" height="4.18" fill="#29b5a4"/>
<rect x="169.16" y="256.02" width="4.64" height="4.18" fill="#8cbf78"/>
<rect x="173.10" y="256.02" width="4.64" height="4.18" fill="#d0ba58"/>
<rect x="177.04" y="256.02" width="4.64" height="4.18" fill="#fbc22a"/>
<rect x="180.97" y="256.02" width="8.57" height="4.18" fill="#29b5a4"/>
<rect x="188.85" y="256.02" width="4.64" height="4.18" fill="#8cbf78"/>
<rect x="192.79" y="256.02" width="4.64" height="4.18" fill="#d0ba58"/>
<rect x="196.72" y="256.02" width="7.88" height="4.18" fill="#8cbf78"/>
<rect x="141.60" y="259.50" width="4.64" height="4.18" fill="#29b5a4"/>
<rect x="145.54" y="259.50" width="4.64" height="4.18" fill="#8cbf78"/>
<rect x="149.47" y="259.50" width="4.64" height="4.18" fill="#29b5a4"/>
<rect x="153.41" y="259.50" width="4.64" height="4.18" fill="#18a2c6"/>
<rect x="157.35" y="259.50" width="8.57" height="4.18" fill="#29b5a4"/>
<rect x="165.22" y="259.50" width="4.64" height="4.18" fill="#8cbf78"/>
<rect x="169.16" y="259.50" width="4.64" height="4.18" fill="#18a2c6"/>
<rect x="173.10" y="259.50" width="8.57" height="4.18" fill="#29b5a4"/>
<rect x="180.97" y="259.50" width="4.64" height="4.18" fill="#8cbf78"/>
<rect x="184.91" y="259.50" width="4.64" height="4.18" fill="#1d78c3"/>
<rect x="188.85" y="259.50" width="4.64" height="4.18" fill="#18a2c6"/>
<rect x="192.79" y="259.50" width="11.81" height="4.18" fill="#29b5a4"/>
<rect x="141.60" y="262.98" width="4.64" height="4.18" fill="#1f64bc"/>
<rect x="145.54" y="262.98" width="4.64" height="4.18" fill="#18a2c6"/>
<rect x="149.47" y="262.98" width="20.39" height="4.18" fill="#29b5a4"/>
<rect x="169.16" y="262.98" width="4.64" height="4.18" fill="#1f64bc"/>
<rect x="173.10" y="262.98" width="4.64" height="4.18" fill="#1d78c3"/>
<rect x="177.04" y="262.98" width="8.57" height="4.18" fill="#29b5a4"/>
<rect x="184.91" y="262.98" width="4.64" height="4.18" fill="#18a2c6"/>
<rect x="188.85" y="262.98" width="4.64" height="4.18" fill="#1f64bc"/>
<rect x="192.79" y="262.98" width="4.64" height="4.18" fill="#18a2c6"/>
<rect x="196.72" y="262.98" width="7.88" height="4.18" fill="#29b5a4"/>
<rect x="141.60" y="266.45" width="4.64" height="4.18" fill="#18a2c6"/>
<rect x="145.54" y="266.45" width="4.64" height="4.18" fill="#1d78c3"/>
<rect x="149.47" y="266.45" width="4.64" height="4.18" fill="#18a2c6"/>
<rect x="153.41" y="266.45" width="8.57" height="4.18" fill="#29b5a4"/>
<rect x="161.29" y="266.45" width="4.64" height="4.18" fill="#18a2c6"/>
<rect x="165.22" y="266.45" width="20.39" height="4.18" fill="#29b5a4"/>
<rect x="184.91" y="266.45" width="4.64" height="4.18" fill="#18a2c6"/>
<rect x="188.85" y="266.45" width="4.64" height="4.18" fill="#1d78c3"/>
<rect x="192.79" y="266.45" width="4.64" height="4.18" fill="#18a2c6"/>
<rect x="196.72" y="266.45" width="7.88" height="4.18" fill="#29b5a4"/>
<rect x="141.60" y="269.93" width="4.64" height="4.18" fill="#29b5a4"/>
<rect x="145.54" y="269.93" width="4.64" height="4.18" fill="#18a2c6"/>
<rect x="149.47" y="269.93" width="4.64" height="4.18" fill="#1f64bc"/>
<rect x="153.41" y="269.93" width="4.64" height="4.18" fill="#8cbf78"/>
<rect x="157.35" y="269.93" width="8.57" height="4.18" fill="#29b5a4"/>
<rect x="165.22" y="269.93" width="4.64" height="4.18" fill="#1d78c3"/>
<rect x="169.16" y="269.93" width="4.64" height="4.18" fill="#18a2c6"/>
<rect x="173.10" y="269.93" width="16.45" height="4.18" fill="#29b5a4"/>
<rect x="188.85" y="269.93" width="8.57" height="4.18" fill="#18a2c6"/>
<rect x="196.72" y="269.93" width="7.88" height="4.18" fill="#29b5a4"/>
<rect x="141.60" y="273.40" width="8.57" height="4.18" fill="#fbc22a"/>
<rect x="149.47" y="273.40" width="4.64" height="4.18" fill="#d0ba58"/>
<rect x="153.41" y="273.40" width="8.57" height="4.18" fill="#fbc22a"/>
<rect x="161.29" y="273.40" width="4.64" height="4.18" fill="#f7e822"/>
<rect x="165.22" y="273.40" width="4.64" height="4.18" fill="#fbc22a"/>
<rect x="169.16" y="273.40" width="4.64" height="4.18" fill="#8cbf78"/>
<rect x="173.10" y="273.40" width="8.57" height="4.18" fill="#d0ba58"/>
<rect x="180.97" y="273.40" width="8.57" height="4.18" fill="#fbc22a"/>
<rect x="188.85" y="273.40" width="4.64" height="4.18" fill="#d0ba58"/>
<rect x="192.79" y="273.40" width="4.64" height="4.18" fill="#f7e822"/>
<rect x="196.72" y="273.40" width="4.64" height="4.18" fill="#8cbf78"/>
<rect x="200.66" y="273.40" width="3.94" height="4.18" fill="#d0ba58"/>
<rect x="141.60" y="276.88" width="8.57" height="4.18" fill="#8cbf78"/>
<rect x="149.47" y="276.88" width="4.64" height="4.18" fill="#fbc22a"/>
<rect x="153.41" y="276.88" width="4.64" height="4.18" fill="#1d78c3"/>
<rect x="157.35" y="276.88" width="4.64" height="4.18" fill="#fbc22a"/>
<rect x="161.29" y="276.88" width="4.64" height="4.18" fill="#8cbf78"/>
<rect x="165.22" y="276.88" width="4.64" height="4.18" fill="#f7e822"/>
<rect x="169.16" y="276.88" width="4.64" height="4.18" fill="#d0ba58"/>
<rect x="173.10" y="276.88" width="4.64" height="4.18" fill="#18a2c6"/>
<rect x="177.04" y="276.88" width="8.57" height="4.18" fill="#8cbf78"/>
<rect x="184.91" y="276.88" width="4.64" height="4.18" fill="#d0ba58"/>
<rect x="188.85" y="276.88" width="4.64" height="4.18" fill="#8cbf78"/>
<rect x="192.79" y="276.88" width="4.64" height="4.18" fill="#18a2c6"/>
<rect x="196.72" y="276.88" width="4.64" height="4.18" fill="#8cbf78"/>
<rect x="200.66" y="276.88" width="3.94" height="4.18" fill="#29b5a4"/>
<rect x="141.60" y="280.35" width="8.57" height="4.18" fill="#fbc22a"/>
<rect x="149.47" y="280.35" width="4.64" height="4.18" fill="#18a2c6"/>
<rect x="153.41" y="280.35" width="4.64" height="4.18" fill="#f7e822"/>
<rect x="157.35" y="280.35" width="8.57" height="4.18" fill="#8cbf78"/>
<rect x="165.22" y="280.35" width="4.64" height="4.18" fill="#d0ba58"/>
<rect x="169.16" y="280.35" width="4.64" height="4.18" fill="#f7e822"/>
<rect x="173.10" y="280.35" width="8.57" height="4.18" fill="#8cbf78"/>
<rect x="180.97" y="280.35" width="12.51" height="4.18" fill="#fbc22a"/>
<rect x="192.79" y="280.35" width="11.81" height="4.18" fill="#8cbf78"/>
<rect x="141.60" y="283.82" width="8.57" height="3.48" fill="#29b5a4"/>
<rect x="149.47" y="283.82" width="4.64" height="3.48" fill="#18a2c6"/>
<rect x="153.41" y="283.82" width="4.64" height="3.48" fill="#1d78c3"/>
<rect x="157.35" y="283.82" width="4.64" height="3.48" fill="#8cbf78"/>
<rect x="161.29" y="283.82" width="4.64" height="3.48" fill="#18a2c6"/>
<rect x="165.22" y="283.82" width="4.64" height="3.48" fill="#29b5a4"/>
<rect x="169.16" y="283.82" width="4.64" height="3.48" fill="#1d78c3"/>
<rect x="173.10" y="283.82" width="4.64" height="3.48" fill="#18a2c6"/>
<rect x="177.04" y="283.82" width="16.45" height="3.48" fill="#29b5a4"/>
<rect x="192.79" y="283.82" width="4.64" height="3.48" fill="#18a2c6"/>
<rect x="196.72" y="283.82" width="4.64" height="3.48" fill="#1d78c3"/>
<rect x="200.66" y="283.82" width="3.94" height="3.48" fill="#29b5a4"/>
<rect x="141.60" y="231.70" width="63.00" height="55.60" fill="none" stroke="#444" stroke-width="0.50"/>
<text x="140.10" y="248.74" font-size="3.9" fill="#222" text-anchor="end">5</text>
<text x="159.32" y="293.80" font-size="3.9" fill="#222" text-anchor="middle">5</text>
<text x="140.10" y="266.12" font-size="3.9" fill="#222" text-anchor="end">10</text>
<text x="179.01" y="293.80" font-size="3.9" fill="#222" text-anchor="middle">10</text>
<text x="140.10" y="283.49" font-size="3.9" fill="#222" text-anchor="end">15</text>
<text x="198.69" y="293.80" font-size="3.9" fill="#222" text-anchor="middle">15</text>
</g>
<g>
<rect x="225.30" y="231.50" width="4.54" height="4.21" fill="#8cbf78"/>
<rect x="229.14" y="231.50" width="4.54" height="4.21" fill="#d0ba58"/>
<rect x="232.98" y="231.50" width="4.54" height="4.21" fill="#8cbf78"/>
<rect x="236.81" y="231.50" width="8.37" height="4.21" fill="#d0ba58"/>
<rect x="244.49" y="231.50" width="16.05" height="4.21" fill="#8cbf78"/>
<rect x="259.84" y="231.50" width="4.54" height="4.21" fill="#d0ba58"/>
<rect x="263.68" y="231.50" width="12.21" height="4.21" fill="#fbc22a"/>
<rect x="275.19" y="231.50" width="4.54" height="4.21" fill="#d0ba58"/>
<rect x="279.02" y="231.50" width="4.54" height="4.21" fill="#29b5a4"/>
<rect x="282.86" y="231.50" width="3.84" height="4.21" fill="#fbc22a"/>
<rect x="225.30" y="235.01" width="8.37" height="4.21" fill="#29b5a4"/>
<rect x="232.98" y="235.01" width="4.54" height="4.21" fill="#8cbf78"/>
<rect x="236.81" y="235.01" width="4.54" height="4.21" fill="#29b5a4"/>
<rect x="240.65" y="235.01" width="4.54" height="4.21" fill="#8cbf78"/>
<rect x="244.49" y="235.01" width="4.54" height="4.21" fill="#18a2c6"/>
<rect x="248.32" y="235.01" width="4.54" height="4.21" fill="#29b5a4"/>
<rect x="252.16" y="235.01" width="4.54" height="4.21" fill="#18a2c6"/>
<rect x="256.00" y="235.01" width="12.21" height="4.21" fill="#8cbf78"/>
<rect x="267.51" y="235.01" width="8.37" height="4.21" fill="#29b5a4"/>
<rect x="275.19" y="235.01" width="4.54" height="4.21" fill="#18a2c6"/>
<rect x="279.02" y="235.01" width="4.54" height="4.21" fill="#29b5a4"/>
<rect x="282.86" y="235.01" width="3.84" height="4.21" fill="#18a2c6"/>
<rect x="225.30" y="238.51" width="8.37" height="4.21" fill="#29b5a4"/>
<rect x="232.98" y="238.51" width="4.54" height="4.21" fill="#8cbf78"/>
<rect x="236.81" y="238.51" width="4.54" height="4.21" fill="#29b5a4"/>
<rect x="240.65" y="238.51" width="4.54" height="4.21" fill="#1d78c3"/>
<rect x="244.49" y="238.51" width="8.37" height="4.21" fill="#8cbf78"/>
<rect x="252.16" y="238.51" width="4.54" height="4.21" fill="#29b5a4"/>
<rect x="256.00" y="238.51" width="4.54" height="4.21" fill="#8cbf78"/>
<rect x="259.84" y="238.51" width="12.21" height="4.21" fill="#29b5a4"/>
<rect x="271.35" y="238.51" width="4.54" height="4.21" fill="#18a2c6"/>
<rect x="275.19" y="238.51" width="4.54" height="4.21" fill="#8cbf78"/>
<rect x="279.02" y="238.51" width="4.54" height="4.21" fill="#29b5a4"/>
<rect x="282.86" y="238.51" width="3.84" height="4.21" fill="#8cbf78"/>
<rect x="225.30" y="242.02" width="4.54" height="4.21" fill="#fbc22a"/>
<rect x="229.14" y="242.02" width="12.21" height="4.21" fill="#8cbf78"/>
<rect x="240.65" y="242.02" width="4.54" height="4.21" fill="#fbc22a"/>
<rect x="244.49" y="242.02" width="12.21" height="4.21" fill="#8cbf78"/>
<rect x="256.00" y="242.02" width="4.54" height="4.21" fill="#fbc22a"/>
<rect x="259.84" y="242.02" width="8.37" height="4.21" fill="#8cbf78"/>
<rect x="267.51" y="242.02" width="4.54" height="4.21" fill="#29b5a4"/>
<rect x="271.35" y="242.02" width="4.54" height="4.21" fill="#8cbf78"/>
<rect x="275.19" y="242.02" width="11.51" height="4.21" fill="#d0ba58"/>
<rect x="225.30" y="245.53" width="4.54" height="4.21" fill="#8cbf78"/>
<rect x="229.14" y="245.53" width="4.54" height="4.21" fill="#d0ba58"/>
<rect x="232.98" y="245.53" width="8.37" height="4.21" fill="#8cbf78"/>
<rect x="240.65" y="245.53" width="4.54" height="4.21" fill="#29b5a4"/>
<rect x="244.49" y="245.53" width="12.21" height="4.21" fill="#d0ba58"/>
<rect x="256.00" y="245.53" width="4.54" height="4.21" fill="#8cbf78"/>
<rect x="259.84" y="245.53" width="4.54" height="4.21" fill="#fbc22a"/>
<rect x="263.68" y="245.53" width="8.37" height="4.21" fill="#8cbf78"/>
<rect x="271.35" y="245.53" width="4.54" height="4.21" fill="#29b5a4"/>
<rect x="275.19" y="245.53" width="8.37" height="4.21" fill="#d0ba58"/>
<rect x="282.86" y="245.53" width="3.84" height="4.21" fill="#8cbf78"/>
<rect x="225.30" y="249.03" width="12.21" height="4.21" fill="#d0ba58"/>
<rect x="236.81" y="249.03" width="4.54" height="4.21" fill="#fbc22a"/>
<rect x="240.65" y="249.03" width="8.37" height="4.21" fill="#d0ba58"/>
<rect x="248.32" y="249.03" width="4.54" height="4.21" fill="#fbc22a"/>
<rect x="252.16" y="249.03" width="4.54" height="4.21" fill="#f7e822"/>
<rect x="256.00" y="249.03" width="4.54" height="4.21" fill="#d0ba58"/>
<rect x="259.84" y="249.03" width="8.37" height="4.21" fill="#8cbf78"/>
<rect x="267.51" y="249.03" width="8.37" height="4.21" fill="#f7e822"/>
<rect x="275.19" y="249.03" width="4.54" height="4.21" fill="#8cbf78"/>
<rect x="279.02" y="249.03" width="4.54" height="4.21" fill="#d0ba58"/>
<rect x="282.86" y="249.03" width="3.84" height="4.21" fill="#8cbf78"/>
<rect x="225.30" y="252.54" width="4.54" height="4.21" fill="#d0ba58"/>
<rect x="229.14" y="252.54" width="8.37" height="4.21" fill="#8cbf78"/>
<rect x="236.81" y="252.54" width="4.54" height="4.21" fill="#d0ba58"/>
<rect x="240.65" y="252.54" width="8.37" height="4.21" fill="#8cbf78"/>
<rect x="248.32" y="252.54" width="4.54" height="4.21" fill="#29b5a4"/>
<rect x="252.16" y="252.54" width="4.54" height="4.21" fill="#18a2c6"/>
<rect x="256.00" y="252.54" width="4.54" height="4.21" fill="#29b5a4"/>
<rect x="259.84" y="252.54" width="4.54" height="4.21" fill="#8cbf78"/>
<rect x="263.68" y="252.54" width="4.54" height="4.21" fill="#d0ba58"/>
<rect x="267.51" y="252.54" width="4.54" height="4.21" fill="#8cbf78"/>
<rect x="271.35" y="252.54" width="4.54" height="4.21" fill="#29b5a4"/>
<rect x="275.19" y="252.54" width="4.54" height="4.21" fill="#18a2c6"/>
<rect x="279.02" y="252.54" width="7.67" height="4.21" fill="#8cbf78"/>
<rect x="225.30" y="256.04" width="4.54" height="4.21" fill="#8cbf78"/>
<rect x="229.14" y="256.04" width="4.54" height="4.21" fill="#fbc22a"/>
<rect x="232.98" y="256.04" width="8.37" height="4.21" fill="#29b5a4"/>
<rect x="240.65" y="256.04" width="4.54" height="4.21" fill="#8cbf78"/>
<rect x="244.49" y="256.04" width="4.54" height="4.21" fill="#29b5a4"/>
<rect x="248.32" y="256.04" width="8.37" height="4.21" fill="#18a2c6"/>
<rect x="256.00" y="256.04" width="4.54" height="4.21" fill="#8cbf78"/>
<rect x="259.84" y="256.04" width="4.54" height="4.21" fill="#fbc22a"/>
<rect x="263.68" y="256.04" width="4.54" height="4.21" fill="#8cbf78"/>
<rect x="267.51" y="256.04" width="4.54" height="4.21" fill="#18a2c6"/>
<rect x="271.35" y="256.04" width="4.54" height="4.21" fill="#1f64bc"/>
<rect x="275.19" y="256.04" width="4.54" height="4.21" fill="#29b5a4"/>
<rect x="279.02" y="256.04" width="7.67" height="4.21" fill="#8cbf78"/>
<rect x="225.30" y="259.55" width="8.37" height="4.21" fill="#29b5a4"/>
<rect x="232.98" y="259.55" width="4.54" height="4.21" fill="#8cbf78"/>
<rect x="236.81" y="259.55" width="4.54" height="4.21" fill="#18a2c6"/>
<rect x="240.65" y="259.55" width="8.37" height="4.21" fill="#29b5a4"/>
<rect x="248.32" y="259.55" width="4.54" height="4.21" fill="#8cbf78"/>
<rect x="252.16" y="259.55" width="4.54" height="4.21" fill="#29b5a4"/>
<rect x="256.00" y="259.55" width="12.21" height="4.21" fill="#18a2c6"/>
<rect x="267.51" y="259.55" width="8.37" height="4.21" fill="#29b5a4"/>
<rect x="275.19" y="259.55" width="4.54" height="4.21" fill="#18a2c6"/>
<rect x="279.02" y="259.55" width="4.54" height="4.21" fill="#29b5a4"/>
<rect x="282.86" y="259.55" width="3.84" height="4.21" fill="#8cbf78"/>
<rect x="225.30" y="263.06" width="4.54" height="4.21" fill="#29b5a4"/>
<rect x="229.14" y="263.06" width="8.37" height="4.21" fill="#1d78c3"/>
<rect x="236.81" y="263.06" width="4.54" height="4.21" fill="#8cbf78"/>
<rect x="240.65" y="263.06" width="12.21" height="4.21" fill="#29b5a4"/>
<rect x="252.16" y="263.06" width="8.37" height="4.21" fill="#8cbf78"/>
<rect x="259.84" y="263.06" width="12.21" height="4.21" fill="#18a2c6"/>
<rect x="271.35" y="263.06" width="4.54" height="4.21" fill="#8cbf78"/>
<rect x="275.19" y="263.06" width="4.54" height="4.21" fill="#d0ba58"/>
<rect x="279.02" y="263.06" width="4.54" height="4.21" fill="#8cbf78"/>
<rect x="282.86" y="263.06" width="3.84" height="4.21" fill="#18a2c6"/>
<rect x="225.30" y="266.56" width="4.54" height="4.21" fill="#8cbf78"/>
<rect x="229.14" y="266.56" width="12.21" height="4.21" fill="#fbc22a"/>
<rect x="240.65" y="266.56" width="4.54" height="4.21" fill="#8cbf78"/>
<rect x="244.49" y="266.56" width="4.54" height="4.21" fill="#29b5a4"/>
<rect x="248.32" y="266.56" width="4.54" height="4.21" fill="#8cbf78"/>
<rect x="252.16" y="266.56" width="8.37" height="4.21" fill="#fbc22a"/>
<rect x="259.84" y="266.56" width="8.37" height="4.21" fill="#8cbf78"/>
<rect x="267.51" y="266.56" width="4.54" height="4.21" fill="#d0ba58"/>
<rect x="271.35" y="266.56" width="4.54" height="4.21" fill="#fbc22a"/>
<rect x="275.19" y="266.56" width="4.54" height="4.21" fill="#d0ba58"/>
<rect x="279.02" y="266.56" width="7.67" height="4.21" fill="#8cbf78"/>
<rect x="225.30" y="270.07" width="4.54" height="4.21" fill="#d0ba58"/>
<rect x="229.14" y="270.07" width="4.54" height="4.21" fill="#8cbf78"/>
<rect x="232.98" y="270.07" width="4.54" height="4.21" fill="#29b5a4"/>
<rect x="236.81" y="270.07" width="4.54" height="4.21" fill="#18a2c6"/>
<rect x="240.65" y="270.07" width="4.54" height="4.21" fill="#d0ba58"/>
<rect x="244.49" y="270.07" width="16.05" height="4.21" fill="#29b5a4"/>
<rect x="259.84" y="270.07" width="4.54" height="4.21" fill="#8cbf78"/>
<rect x="263.68" y="270.07" width="4.54" height="4.21" fill="#d0ba58"/>
<rect x="267.51" y="270.07" width="8.37" height="4.21" fill="#8cbf78"/>
<rect x="275.19" y="270.07" width="4.54" height="4.21" fill="#d0ba58"/>
<rect x="279.02" y="270.07" width="4.54" height="4.21" fill="#8cbf78"/>
<rect x="282.86" y="270.07" width="3.84" height="4.21" fill="#18a2c6"/>
<rect x="225.30" y="273.58" width="4.54" height="4.21" fill="#2a2e88"/>
<rect x="229.14" y="273.58" width="4.54" height="4.21" fill="#29b5a4"/>
<rect x="232.98" y="273.58" width="4.54" height="4.21" fill="#8cbf78"/>
<rect x="236.81" y="273.58" width="4.54" height="4.21" fill="#29b5a4"/>
<rect x="240.65" y="273.58" width="4.54" height="4.21" fill="#1d78c3"/>
<rect x="244.49" y="273.58" width="4.54" height="4.21" fill="#29b5a4"/>
<rect x="248.32" y="273.58" width="4.54" height="4.21" fill="#8cbf78"/>
<rect x="252.16" y="273.58" width="4.54" height="4.21" fill="#18a2c6"/>
<rect x="256.00" y="273.58" width="4.54" height="4.21" fill="#1d78c3"/>
<rect x="259.84" y="273.58" width="4.54" height="4.21" fill="#fbc22a"/>
<rect x="263.68" y="273.58" width="4.54" height="4.21" fill="#8cbf78"/>
<rect x="267.51" y="273.58" width="8.37" height="4.21" fill="#1d78c3"/>
<rect x="275.19" y="273.58" width="4.54" height="4.21" fill="#18a2c6"/>
<rect x="279.02" y="273.58" width="4.54" height="4.21" fill="#fbc22a"/>
<rect x="282.86" y="273.58" width="3.84" height="4.21" fill="#18a2c6"/>
<rect x="225.30" y="277.08" width="4.54" height="4.21" fill="#d0ba58"/>
<rect x="229.14" y="277.08" width="4.54" height="4.21" fill="#18a2c6"/>
<rect x="232.98" y="277.08" width="4.54" height="4.21" fill="#1f64bc"/>
<rect x="236.81" y="277.08" width="4.54" height="4.21" fill="#29b5a4"/>
<rect x="240.65" y="277.08" width="4.54" height="4.21" fill="#8cbf78"/>
<rect x="244.49" y="277.08" width="4.54" height="4.21" fill="#1d78c3"/>
<rect x="248.32" y="277.08" width="4.54" height="4.21" fill="#8cbf78"/>
<rect x="252.16" y="277.08" width="4.54" height="4.21" fill="#18a2c6"/>
<rect x="256.00" y="277.08" width="4.54" height="4.21" fill="#29b5a4"/>
<rect x="259.84" y="277.08" width="4.54" height="4.21" fill="#1f64bc"/>
<rect x="263.68" y="277.08" width="4.54" height="4.21" fill="#2a2e88"/>
<rect x="267.51" y="277.08" width="4.54" height="4.21" fill="#18a2c6"/>
<rect x="271.35" y="277.08" width="4.54" height="4.21" fill="#29b5a4"/>
<rect x="275.19" y="277.08" width="4.54" height="4.21" fill="#8cbf78"/>
<rect x="279.02" y="277.08" width="7.67" height="4.21" fill="#29b5a4"/>
<rect x="225.30" y="280.59" width="4.54" height="4.21" fill="#fbc22a"/>
<rect x="229.14" y="280.59" width="4.54" height="4.21" fill="#18a2c6"/>
<rect x="232.98" y="280.59" width="4.54" height="4.21" fill="#8cbf78"/>
<rect x="236.81" y="280.59" width="4.54" height="4.21" fill="#29b5a4"/>
<rect x="240.65" y="280.59" width="8.37" height="4.21" fill="#d0ba58"/>
<rect x="248.32" y="280.59" width="4.54" height="4.21" fill="#29b5a4"/>
<rect x="252.16" y="280.59" width="4.54" height="4.21" fill="#18a2c6"/>
<rect x="256.00" y="280.59" width="4.54" height="4.21" fill="#29b5a4"/>
<rect x="259.84" y="280.59" width="4.54" height="4.21" fill="#8cbf78"/>
<rect x="263.68" y="280.59" width="4.54" height="4.21" fill="#29b5a4"/>
<rect x="267.51" y="280.59" width="16.05" height="4.21" fill="#8cbf78"/>
<rect x="282.86" y="280.59" width="3.84" height="4.21" fill="#18a2c6"/>
<rect x="225.30" y="284.09" width="4.54" height="3.51" fill="#18a2c6"/>
<rect x="229.14" y="284.09" width="4.54" height="3.51" fill="#8cbf78"/>
<rect x="232.98" y="284.09" width="8.37" height="3.51" fill="#29b5a4"/>
<rect x="240.65" y="284.09" width="4.54" height="3.51" fill="#1f64bc"/>
<rect x="244.49" y="284.09" width="4.54" height="3.51" fill="#f7e822"/>
<rect x="248.32" y="284.09" width="4.54" height="3.51" fill="#8cbf78"/>
<rect x="252.16" y="284.09" width="4.54" height="3.51" fill="#d0ba58"/>
<rect x="256.00" y="284.09" width="4.54" height="3.51" fill="#29b5a4"/>
<rect x="259.84" y="284.09" width="4.54" height="3.51" fill="#18a2c6"/>
<rect x="263.68" y="284.09" width="12.21" height="3.51" fill="#fbc22a"/>
<rect x="275.19" y="284.09" width="4.54" height="3.51" fill="#8cbf78"/>
<rect x="279.02" y="284.09" width="4.54" height="3.51" fill="#1f64bc"/>
<rect x="282.86" y="284.09" width="3.84" height="3.51" fill="#18a2c6"/>
<rect x="225.30" y="231.50" width="61.40" height="56.10" fill="none" stroke="#444" stroke-width="0.50"/>
<text x="223.80" y="248.68" font-size="3.9" fill="#222" text-anchor="end">5</text>
<text x="242.57" y="294.10" font-size="3.9" fill="#222" text-anchor="middle">5</text>
<text x="223.80" y="266.21" font-size="3.9" fill="#222" text-anchor="end">10</text>
<text x="261.76" y="294.10" font-size="3.9" fill="#222" text-anchor="middle">10</text>
<text x="223.80" y="283.74" font-size="3.9" fill="#222" text-anchor="end">15</text>
<text x="280.94" y="294.10" font-size="3.9" fill="#222" text-anchor="middle">15</text>
</g>
<g>
<rect x="303.00" y="17.00" width="6.75" height="6.33" fill="#f7e822"/>
<rect x="309.05" y="17.00" width="12.80" height="6.33" fill="#fbc22a"/>
<rect x="321.15" y="17.00" width="6.75" height="6.33" fill="#facd28"/>
<rect x="327.20" y="17.00" width="6.75" height="6.33" fill="#fbc22a"/>
<rect x="333.25" y="17.00" width="6.75" height="6.33" fill="#aebc68"/>
<rect x="339.30" y="17.00" width="6.75" height="6.33" fill="#facd28"/>
<rect x="345.35" y="17.00" width="6.05" height="6.33" fill="#fbc22a"/>
<rect x="303.00" y="22.62" width="12.80" height="6.33" fill="#1c83c4"/>
<rect x="315.10" y="22.62" width="6.75" height="6.33" fill="#1998c5"/>
<rect x="321.15" y="22.62" width="12.80" height="6.33" fill="#1c83c4"/>
<rect x="333.25" y="22.62" width="12.80" height="6.33" fill="#18a2c6"/>
<rect x="345.35" y="22.62" width="6.05" height="6.33" fill="#1c7ec3"/>
<rect x="303.00" y="28.25" width="6.75" height="6.33" fill="#1f5cb7"/>
<rect x="309.05" y="28.25" width="6.75" height="6.33" fill="#1c7ec3"/>
<rect x="315.10" y="28.25" width="6.75" height="6.33" fill="#2a2e88"/>
<rect x="321.15" y="28.25" width="6.75" height="6.33" fill="#1c7ec3"/>
<rect x="327.20" y="28.25" width="6.75" height="6.33" fill="#2a2e88"/>
<rect x="333.25" y="28.25" width="6.75" height="6.33" fill="#1998c5"/>
<rect x="339.30" y="28.25" width="6.75" height="6.33" fill="#2a2e88"/>
<rect x="345.35" y="28.25" width="6.05" height="6.33" fill="#1c7ec3"/>
<rect x="303.00" y="33.88" width="12.80" height="6.33" fill="#8cbf78"/>
<rect x="315.10" y="33.88" width="6.75" height="6.33" fill="#29b5a4"/>
<rect x="321.15" y="33.88" width="6.75" height="6.33" fill="#18a2c6"/>
<rect x="327.20" y="33.88" width="6.75" height="6.33" fill="#ddbc4a"/>
<rect x="333.25" y="33.88" width="6.75" height="6.33" fill="#29b5a4"/>
<rect x="339.30" y="33.88" width="12.10" height="6.33" fill="#8cbf78"/>
<rect x="303.00" y="39.50" width="6.75" height="6.33" fill="#1c7ec3"/>
<rect x="309.05" y="39.50" width="6.75" height="6.33" fill="#29b5a4"/>
<rect x="315.10" y="39.50" width="6.75" height="6.33" fill="#1c7ec3"/>
<rect x="321.15" y="39.50" width="12.80" height="6.33" fill="#1f5cb7"/>
<rect x="333.25" y="39.50" width="6.75" height="6.33" fill="#29b5a4"/>
<rect x="339.30" y="39.50" width="6.75" height="6.33" fill="#2a2e88"/>
<rect x="345.35" y="39.50" width="6.05" height="6.33" fill="#18a2c6"/>
<rect x="303.00" y="45.12" width="6.75" height="6.33" fill="#18a2c6"/>
<rect x="309.05" y="45.12" width="6.75" height="6.33" fill="#1c83c4"/>
<rect x="315.10" y="45.12" width="6.75" height="6.33" fill="#18a2c6"/>
<rect x="321.15" y="45.12" width="6.75" height="6.33" fill="#1c83c4"/>
<rect x="327.20" y="45.12" width="6.75" height="6.33" fill="#18a2c6"/>
<rect x="333.25" y="45.12" width="6.75" height="6.33" fill="#1c83c4"/>
<rect x="339.30" y="45.12" width="12.10" height="6.33" fill="#18a2c6"/>
<rect x="303.00" y="50.75" width="12.80" height="6.33" fill="#d0ba58"/>
<rect x="315.10" y="50.75" width="12.80" height="6.33" fill="#8cbf78"/>
<rect x="327.20" y="50.75" width="6.75" height="6.33" fill="#fbc22a"/>
<rect x="333.25" y="50.75" width="6.75" height="6.33" fill="#8cbf78"/>
<rect x="339.30" y="50.75" width="6.75" height="6.33" fill="#e6be41"/>
<rect x="345.35" y="50.75" width="6.05" height="6.33" fill="#20acb5"/>
<rect x="303.00" y="56.38" width="6.75" height="5.62" fill="#29b5a4"/>
<rect x="309.05" y="56.38" width="6.75" height="5.62" fill="#18a2c6"/>
<rect x="315.10" y="56.38" width="6.75" height="5.62" fill="#aebc68"/>
<rect x="321.15" y="56.38" width="6.75" height="5.62" fill="#29b5a4"/>
<rect x="327.20" y="56.38" width="6.75" height="5.62" fill="#1e6ec2"/>
<rect x="333.25" y="56.38" width="6.75" height="5.62" fill="#18a2c6"/>
<rect x="339.30" y="56.38" width="6.75" height="5.62" fill="#2055b2"/>
<rect x="345.35" y="56.38" width="6.05" height="5.62" fill="#18a2c6"/>
<rect x="303.00" y="17.00" width="48.40" height="45.00" fill="none" stroke="#444" stroke-width="0.50"/>
<text x="301.50" y="26.73" font-size="3.6" fill="#333" text-anchor="end">2</text>
<text x="312.07" y="66.70" font-size="3.6" fill="#333" text-anchor="middle">2</text>
<text x="301.50" y="37.98" font-size="3.6" fill="#333" text-anchor="end">4</text>
<text x="324.18" y="66.70" font-size="3.6" fill="#333" text-anchor="middle">4</text>
<text x="301.50" y="49.23" font-size="3.6" fill="#333" text-anchor="end">6</text>
<text x="336.27" y="66.70" font-size="3.6" fill="#333" text-anchor="middle">6</text>
<text x="301.50" y="60.48" font-size="3.6" fill="#333" text-anchor="end">8</text>
<text x="348.38" y="66.70" font-size="3.6" fill="#333" text-anchor="middle">8</text>
</g>
<g>
<rect x="303.40" y="73.40" width="6.78" height="6.31" fill="#fbc22a"/>
<rect x="309.47" y="73.40" width="6.78" height="6.31" fill="#f9d526"/>
<rect x="315.55" y="73.40" width="12.85" height="6.31" fill="#fbc22a"/>
<rect x="327.70" y="73.40" width="12.85" height="6.31" fill="#f7e822"/>
<rect x="339.85" y="73.40" width="6.78" height="6.31" fill="#f9d925"/>
<rect x="345.93" y="73.40" width="6.08" height="6.31" fill="#f7e822"/>
<rect x="303.40" y="79.01" width="6.78" height="6.31" fill="#2055b2"/>
<rect x="309.47" y="79.01" width="6.78" height="6.31" fill="#2a2e88"/>
<rect x="315.55" y="79.01" width="12.85" height="6.31" fill="#2055b2"/>
<rect x="327.70" y="79.01" width="6.78" height="6.31" fill="#2a2e88"/>
<rect x="333.77" y="79.01" width="6.78" height="6.31" fill="#1e6ec2"/>
<rect x="339.85" y="79.01" width="6.78" height="6.31" fill="#2055b2"/>
<rect x="345.93" y="79.01" width="6.08" height="6.31" fill="#25429d"/>
<rect x="303.40" y="84.62" width="6.78" height="6.31" fill="#29b5a4"/>
<rect x="309.47" y="84.62" width="12.85" height="6.31" fill="#18a2c6"/>
<rect x="321.62" y="84.62" width="6.78" height="6.31" fill="#1e6ec2"/>
<rect x="327.70" y="84.62" width="6.78" height="6.31" fill="#29b5a4"/>
<rect x="333.77" y="84.62" width="6.78" height="6.31" fill="#18a2c6"/>
<rect x="339.85" y="84.62" width="6.78" height="6.31" fill="#29b5a4"/>
<rect x="345.93" y="84.62" width="6.08" height="6.31" fill="#1e6ec2"/>
<rect x="303.40" y="90.24" width="6.78" height="6.31" fill="#aebc68"/>
<rect x="309.47" y="90.24" width="31.08" height="6.31" fill="#8cbf78"/>
<rect x="339.85" y="90.24" width="6.78" height="6.31" fill="#d0ba58"/>
<rect x="345.93" y="90.24" width="6.08" height="6.31" fill="#5aba8e"/>
<rect x="303.40" y="95.85" width="12.85" height="6.31" fill="#1e6ec2"/>
<rect x="315.55" y="95.85" width="18.93" height="6.31" fill="#18a2c6"/>
<rect x="333.77" y="95.85" width="6.78" height="6.31" fill="#1e6ec2"/>
<rect x="339.85" y="95.85" width="6.78" height="6.31" fill="#18a2c6"/>
<rect x="345.93" y="95.85" width="6.08" height="6.31" fill="#1e6ec2"/>
<rect x="303.40" y="101.46" width="6.78" height="6.31" fill="#d0ba58"/>
<rect x="309.47" y="101.46" width="18.93" height="6.31" fill="#eec038"/>
<rect x="327.70" y="101.46" width="6.78" height="6.31" fill="#8cbf78"/>
<rect x="333.77" y="101.46" width="6.78" height="6.31" fill="#fbc22a"/>
<rect x="339.85" y="101.46" width="6.78" height="6.31" fill="#f9d127"/>
<rect x="345.93" y="101.46" width="6.08" height="6.31" fill="#d0ba58"/>
<rect x="303.40" y="107.08" width="6.78" height="6.31" fill="#d0ba58"/>
<rect x="309.47" y="107.08" width="6.78" height="6.31" fill="#ddbc4a"/>
<rect x="315.55" y="107.08" width="12.85" height="6.31" fill="#eec038"/>
<rect x="327.70" y="107.08" width="6.78" height="6.31" fill="#d0ba58"/>
<rect x="333.77" y="107.08" width="6.78" height="6.31" fill="#ddbc4a"/>
<rect x="339.85" y="107.08" width="12.15" height="6.31" fill="#8cbf78"/>
<rect x="303.40" y="112.69" width="6.78" height="5.61" fill="#29b5a4"/>
<rect x="309.47" y="112.69" width="6.78" height="5.61" fill="#d0ba58"/>
<rect x="315.55" y="112.69" width="6.78" height="5.61" fill="#18a2c6"/>
<rect x="321.62" y="112.69" width="6.78" height="5.61" fill="#8cbf78"/>
<rect x="327.70" y="112.69" width="6.78" height="5.61" fill="#29b5a4"/>
<rect x="333.77" y="112.69" width="6.78" height="5.61" fill="#8cbf78"/>
<rect x="339.85" y="112.69" width="6.78" height="5.61" fill="#18a2c6"/>
<rect x="345.93" y="112.69" width="6.08" height="5.61" fill="#8cbf78"/>
<rect x="303.40" y="73.40" width="48.60" height="44.90" fill="none" stroke="#444" stroke-width="0.50"/>
<text x="301.90" y="83.11" font-size="3.6" fill="#333" text-anchor="end">2</text>
<text x="312.51" y="123.00" font-size="3.6" fill="#333" text-anchor="middle">2</text>
<text x="301.90" y="94.34" font-size="3.6" fill="#333" text-anchor="end">4</text>
<text x="324.66" y="123.00" font-size="3.6" fill="#333" text-anchor="middle">4</text>
<text x="301.90" y="105.56" font-size="3.6" fill="#333" text-anchor="end">6</text>
<text x="336.81" y="123.00" font-size="3.6" fill="#333" text-anchor="middle">6</text>
<text x="301.90" y="116.79" font-size="3.6" fill="#333" text-anchor="end">8</text>
<text x="348.96" y="123.00" font-size="3.6" fill="#333" text-anchor="middle">8</text>
</g>
<g>
<rect x="303.40" y="132.00" width="6.79" height="6.41" fill="#fbc22a"/>
<rect x="309.49" y="132.00" width="6.79" height="6.41" fill="#f7e822"/>
<rect x="315.57" y="132.00" width="6.79" height="6.41" fill="#f9d526"/>
<rect x="321.66" y="132.00" width="12.88" height="6.41" fill="#f7e822"/>
<rect x="333.84" y="132.00" width="6.79" height="6.41" fill="#e6be41"/>
<rect x="339.93" y="132.00" width="12.18" height="6.41" fill="#fbc22a"/>
<rect x="303.40" y="137.71" width="6.79" height="6.41" fill="#18a2c6"/>
<rect x="309.49" y="137.71" width="18.96" height="6.41" fill="#29b5a4"/>
<rect x="327.75" y="137.71" width="12.88" height="6.41" fill="#18a2c6"/>
<rect x="339.93" y="137.71" width="12.18" height="6.41" fill="#29b5a4"/>
<rect x="303.40" y="143.43" width="6.79" height="6.41" fill="#18a2c6"/>
<rect x="309.49" y="143.43" width="12.88" height="6.41" fill="#2055b2"/>
<rect x="321.66" y="143.43" width="6.79" height="6.41" fill="#2a2e88"/>
<rect x="327.75" y="143.43" width="6.79" height="6.41" fill="#18a2c6"/>
<rect x="333.84" y="143.43" width="6.79" height="6.41" fill="#1e6ec2"/>
<rect x="339.93" y="143.43" width="6.79" height="6.41" fill="#2a2e88"/>
<rect x="346.01" y="143.43" width="6.09" height="6.41" fill="#18a2c6"/>
<rect x="303.40" y="149.14" width="6.79" height="6.41" fill="#29b5a4"/>
<rect x="309.49" y="149.14" width="6.79" height="6.41" fill="#aebc68"/>
<rect x="315.57" y="149.14" width="6.79" height="6.41" fill="#8cbf78"/>
<rect x="321.66" y="149.14" width="6.79" height="6.41" fill="#29b5a4"/>
<rect x="327.75" y="149.14" width="6.79" height="6.41" fill="#8cbf78"/>
<rect x="333.84" y="149.14" width="18.26" height="6.41" fill="#29b5a4"/>
<rect x="303.40" y="154.85" width="18.96" height="6.41" fill="#29b5a4"/>
<rect x="321.66" y="154.85" width="6.79" height="6.41" fill="#1e6ec2"/>
<rect x="327.75" y="154.85" width="6.79" height="6.41" fill="#18a2c6"/>
<rect x="333.84" y="154.85" width="6.79" height="6.41" fill="#20acb5"/>
<rect x="339.93" y="154.85" width="6.79" height="6.41" fill="#1e6ec2"/>
<rect x="346.01" y="154.85" width="6.09" height="6.41" fill="#18a2c6"/>
<rect x="303.40" y="160.56" width="37.23" height="6.41" fill="#18a2c6"/>
<rect x="339.93" y="160.56" width="6.79" height="6.41" fill="#1b88c4"/>
<rect x="346.01" y="160.56" width="6.09" height="6.41" fill="#18a2c6"/>
<rect x="303.40" y="166.27" width="12.88" height="6.41" fill="#d0ba58"/>
<rect x="315.57" y="166.27" width="6.79" height="6.41" fill="#f7e822"/>
<rect x="321.66" y="166.27" width="6.79" height="6.41" fill="#f9d526"/>
<rect x="327.75" y="166.27" width="6.79" height="6.41" fill="#8cbf78"/>
<rect x="333.84" y="166.27" width="6.79" height="6.41" fill="#fbc22a"/>
<rect x="339.93" y="166.27" width="6.79" height="6.41" fill="#d0ba58"/>
<rect x="346.01" y="166.27" width="6.09" height="6.41" fill="#8cbf78"/>
<rect x="303.40" y="171.99" width="6.79" height="5.71" fill="#aebc68"/>
<rect x="309.49" y="171.99" width="6.79" height="5.71" fill="#8cbf78"/>
<rect x="315.57" y="171.99" width="6.79" height="5.71" fill="#d0ba58"/>
<rect x="321.66" y="171.99" width="6.79" height="5.71" fill="#e6be41"/>
<rect x="327.75" y="171.99" width="6.79" height="5.71" fill="#29b5a4"/>
<rect x="333.84" y="171.99" width="6.79" height="5.71" fill="#d0ba58"/>
<rect x="339.93" y="171.99" width="6.79" height="5.71" fill="#8cbf78"/>
<rect x="346.01" y="171.99" width="6.09" height="5.71" fill="#29b5a4"/>
<rect x="303.40" y="132.00" width="48.70" height="45.70" fill="none" stroke="#444" stroke-width="0.50"/>
<text x="301.90" y="141.86" font-size="3.6" fill="#333" text-anchor="end">2</text>
<text x="312.53" y="182.40" font-size="3.6" fill="#333" text-anchor="middle">2</text>
<text x="301.90" y="153.29" font-size="3.6" fill="#333" text-anchor="end">4</text>
<text x="324.71" y="182.40" font-size="3.6" fill="#333" text-anchor="middle">4</text>
<text x="301.90" y="164.71" font-size="3.6" fill="#333" text-anchor="end">6</text>
<text x="336.88" y="182.40" font-size="3.6" fill="#333" text-anchor="middle">6</text>
<text x="301.90" y="176.14" font-size="3.6" fill="#333" text-anchor="end">8</text>
<text x="349.06" y="182.40" font-size="3.6" fill="#333" text-anchor="middle">8</text>
</g>
<g>
<rect x="303.10" y="195.10" width="19.30" height="6.31" fill="#2055b2"/>
<rect x="321.70" y="195.10" width="6.90" height="6.31" fill="#1f62ba"/>
<rect x="327.90" y="195.10" width="6.90" height="6.31" fill="#25429d"/>
<rect x="334.10" y="195.10" width="6.90" height="6.31" fill="#1e6ec2"/>
<rect x="340.30" y="195.10" width="6.90" height="6.31" fill="#2a2e88"/>
<rect x="346.50" y="195.10" width="6.20" height="6.31" fill="#2055b2"/>
<rect x="303.10" y="200.71" width="6.90" height="6.31" fill="#29b5a4"/>
<rect x="309.30" y="200.71" width="43.40" height="6.31" fill="#18a2c6"/>
<rect x="303.10" y="206.32" width="31.70" height="6.31" fill="#1e6ec2"/>
<rect x="334.10" y="206.32" width="6.90" height="6.31" fill="#2a2e88"/>
<rect x="340.30" y="206.32" width="6.90" height="6.31" fill="#1e6ec2"/>
<rect x="346.50" y="206.32" width="6.20" height="6.31" fill="#25429d"/>
<rect x="303.10" y="211.94" width="6.90" height="6.31" fill="#2055b2"/>
<rect x="309.30" y="211.94" width="13.10" height="6.31" fill="#1e6ec2"/>
<rect x="321.70" y="211.94" width="6.90" height="6.31" fill="#18a2c6"/>
<rect x="327.90" y="211.94" width="13.10" height="6.31" fill="#1e6ec2"/>
<rect x="340.30" y="211.94" width="6.90" height="6.31" fill="#18a2c6"/>
<rect x="346.50" y="211.94" width="6.20" height="6.31" fill="#1e6ec2"/>
<rect x="303.10" y="217.55" width="6.90" height="6.31" fill="#f7e822"/>
<rect x="309.30" y="217.55" width="6.90" height="6.31" fill="#f9d526"/>
<rect x="315.50" y="217.55" width="13.10" height="6.31" fill="#f7e822"/>
<rect x="327.90" y="217.55" width="6.90" height="6.31" fill="#fbc22a"/>
<rect x="334.10" y="217.55" width="6.90" height="6.31" fill="#f9d526"/>
<rect x="340.30" y="217.55" width="12.40" height="6.31" fill="#f7e822"/>
<rect x="303.10" y="223.16" width="19.30" height="6.31" fill="#18a2c6"/>
<rect x="321.70" y="223.16" width="6.90" height="6.31" fill="#29b5a4"/>
<rect x="327.90" y="223.16" width="19.30" height="6.31" fill="#18a2c6"/>
<rect x="346.50" y="223.16" width="6.20" height="6.31" fill="#1e6ec2"/>
<rect x="303.10" y="228.78" width="6.90" height="6.31" fill="#8cbf78"/>
<rect x="309.30" y="228.78" width="13.10" height="6.31" fill="#aebc68"/>
<rect x="321.70" y="228.78" width="6.90" height="6.31" fill="#29b5a4"/>
<rect x="327.90" y="228.78" width="6.90" height="6.31" fill="#fbc22a"/>
<rect x="334.10" y="228.78" width="6.90" height="6.31" fill="#8cbf78"/>
<rect x="340.30" y="228.78" width="6.90" height="6.31" fill="#aebc68"/>
<rect x="346.50" y="228.78" width="6.20" height="6.31" fill="#8cbf78"/>
<rect x="303.10" y="234.39" width="13.10" height="5.61" fill="#18a2c6"/>
<rect x="315.50" y="234.39" width="19.30" height="5.61" fill="#1e6ec2"/>
<rect x="334.10" y="234.39" width="13.10" height="5.61" fill="#18a2c6"/>
<rect x="346.50" y="234.39" width="6.20" height="5.61" fill="#8cbf78"/>
<rect x="303.10" y="195.10" width="49.60" height="44.90" fill="none" stroke="#444" stroke-width="0.50"/>
<text x="301.60" y="204.81" font-size="3.6" fill="#333" text-anchor="end">2</text>
<text x="312.40" y="244.70" font-size="3.6" fill="#333" text-anchor="middle">2</text>
<text x="301.60" y="216.04" font-size="3.6" fill="#333" text-anchor="end">4</text>
<text x="324.80" y="244.70" font-size="3.6" fill="#333" text-anchor="middle">4</text>
<text x="301.60" y="227.26" font-size="3.6" fill="#333" text-anchor="end">6</text>
<text x="337.20" y="244.70" font-size="3.6" fill="#333" text-anchor="middle">6</text>
<text x="301.60" y="238.49" font-size="3.6" fill="#333" text-anchor="end">8</text>
<text x="349.60" y="244.70" font-size="3.6" fill="#333" text-anchor="middle">8</text>
</g>
<g>
<rect x="303.40" y="253.40" width="7.10" height="6.49" fill="#f7e822"/>
<rect x="309.80" y="253.40" width="26.30" height="6.49" fill="#facd28"/>
<rect x="335.40" y="253.40" width="19.20" height="6.49" fill="#f7e822"/>
<rect x="303.40" y="259.19" width="7.10" height="6.49" fill="#e6be41"/>
<rect x="309.80" y="259.19" width="7.10" height="6.49" fill="#d0ba58"/>
<rect x="316.20" y="259.19" width="7.10" height="6.49" fill="#fbc22a"/>
<rect x="322.60" y="259.19" width="7.10" height="6.49" fill="#facd28"/>
<rect x="329.00" y="259.19" width="7.10" height="6.49" fill="#e6be41"/>
<rect x="335.40" y="259.19" width="13.50" height="6.49" fill="#d0ba58"/>
<rect x="348.20" y="259.19" width="6.40" height="6.49" fill="#f9d526"/>
<rect x="303.40" y="264.98" width="7.10" height="6.49" fill="#aebc68"/>
<rect x="309.80" y="264.98" width="7.10" height="6.49" fill="#d0ba58"/>
<rect x="316.20" y="264.98" width="7.10" height="6.49" fill="#aebc68"/>
<rect x="322.60" y="264.98" width="7.10" height="6.49" fill="#fbc22a"/>
<rect x="329.00" y="264.98" width="13.50" height="6.49" fill="#d0ba58"/>
<rect x="341.80" y="264.98" width="7.10" height="6.49" fill="#facd28"/>
<rect x="348.20" y="264.98" width="6.40" height="6.49" fill="#fbc22a"/>
<rect x="303.40" y="270.76" width="7.10" height="6.49" fill="#e6be41"/>
<rect x="309.80" y="270.76" width="13.50" height="6.49" fill="#8cbf78"/>
<rect x="322.60" y="270.76" width="7.10" height="6.49" fill="#aebc68"/>
<rect x="329.00" y="270.76" width="7.10" height="6.49" fill="#e6be41"/>
<rect x="335.40" y="270.76" width="7.10" height="6.49" fill="#8cbf78"/>
<rect x="341.80" y="270.76" width="7.10" height="6.49" fill="#d0ba58"/>
<rect x="348.20" y="270.76" width="6.40" height="6.49" fill="#fbc22a"/>
<rect x="303.40" y="276.55" width="7.10" height="6.49" fill="#1c83c4"/>
<rect x="309.80" y="276.55" width="7.10" height="6.49" fill="#25429d"/>
<rect x="316.20" y="276.55" width="7.10" height="6.49" fill="#205ab5"/>
<rect x="322.60" y="276.55" width="7.10" height="6.49" fill="#1998c5"/>
<rect x="329.00" y="276.55" width="7.10" height="6.49" fill="#1c83c4"/>
<rect x="335.40" y="276.55" width="7.10" height="6.49" fill="#1f5fb8"/>
<rect x="341.80" y="276.55" width="12.80" height="6.49" fill="#1c83c4"/>
<rect x="303.40" y="282.34" width="7.10" height="6.49" fill="#1c83c4"/>
<rect x="309.80" y="282.34" width="7.10" height="6.49" fill="#1998c5"/>
<rect x="316.20" y="282.34" width="7.10" height="6.49" fill="#1c83c4"/>
<rect x="322.60" y="282.34" width="7.10" height="6.49" fill="#18a2c6"/>
<rect x="329.00" y="282.34" width="13.50" height="6.49" fill="#1c83c4"/>
<rect x="341.80" y="282.34" width="7.10" height="6.49" fill="#20acb5"/>
<rect x="348.20" y="282.34" width="6.40" height="6.49" fill="#18a2c6"/>
<rect x="303.40" y="288.12" width="7.10" height="6.49" fill="#1f5cb7"/>
<rect x="309.80" y="288.12" width="7.10" height="6.49" fill="#1c7ec3"/>
<rect x="316.20" y="288.12" width="7.10" height="6.49" fill="#2a2e88"/>
<rect x="322.60" y="288.12" width="7.10" height="6.49" fill="#1f5cb7"/>
<rect x="329.00" y="288.12" width="13.50" height="6.49" fill="#1c7ec3"/>
<rect x="341.80" y="288.12" width="7.10" height="6.49" fill="#1f5cb7"/>
<rect x="348.20" y="288.12" width="6.40" height="6.49" fill="#1c7ec3"/>
<rect x="303.40" y="293.91" width="7.10" height="5.79" fill="#29b5a4"/>
<rect x="309.80" y="293.91" width="7.10" height="5.79" fill="#20acb5"/>
<rect x="316.20" y="293.91" width="7.10" height="5.79" fill="#8cbf78"/>
<rect x="322.60" y="293.91" width="7.10" height="5.79" fill="#1a92c5"/>
<rect x="329.00" y="293.91" width="13.50" height="5.79" fill="#1c83c4"/>
<rect x="341.80" y="293.91" width="7.10" height="5.79" fill="#1a92c5"/>
<rect x="348.20" y="293.91" width="6.40" height="5.79" fill="#1c83c4"/>
<rect x="303.40" y="253.40" width="51.20" height="46.30" fill="none" stroke="#444" stroke-width="0.50"/>
<text x="301.90" y="263.38" font-size="3.6" fill="#333" text-anchor="end">2</text>
<text x="313.00" y="304.40" font-size="3.6" fill="#333" text-anchor="middle">2</text>
<text x="301.90" y="274.95" font-size="3.6" fill="#333" text-anchor="end">4</text>
<text x="325.80" y="304.40" font-size="3.6" fill="#333" text-anchor="middle">4</text>
<text x="301.90" y="286.53" font-size="3.6" fill="#333" text-anchor="end">6</text>
<text x="338.60" y="304.40" font-size="3.6" fill="#333" text-anchor="middle">6</text>
<text x="301.90" y="298.10" font-size="3.6" fill="#333" text-anchor="end">8</text>
<text x="351.40" y="304.40" font-size="3.6" fill="#333" text-anchor="middle">8</text>
</g>
<g>
<rect x="303.40" y="319.60" width="7.19" height="6.76" fill="#29b5a4"/>
<rect x="309.89" y="319.60" width="13.68" height="6.76" fill="#8cbf78"/>
<rect x="322.86" y="319.60" width="7.19" height="6.76" fill="#20acb5"/>
<rect x="329.35" y="319.60" width="7.19" height="6.76" fill="#8cbf78"/>
<rect x="335.84" y="319.60" width="7.19" height="6.76" fill="#e6be41"/>
<rect x="342.32" y="319.60" width="7.19" height="6.76" fill="#8cbf78"/>
<rect x="348.81" y="319.60" width="6.49" height="6.76" fill="#29b5a4"/>
<rect x="303.40" y="325.66" width="7.19" height="6.76" fill="#8cbf78"/>
<rect x="309.89" y="325.66" width="13.68" height="6.76" fill="#5aba8e"/>
<rect x="322.86" y="325.66" width="13.68" height="6.76" fill="#8cbf78"/>
<rect x="335.84" y="325.66" width="7.19" height="6.76" fill="#29b5a4"/>
<rect x="342.32" y="325.66" width="7.19" height="6.76" fill="#8cbf78"/>
<rect x="348.81" y="325.66" width="6.49" height="6.76" fill="#e6be41"/>
<rect x="303.40" y="331.73" width="7.19" height="6.76" fill="#d0ba58"/>
<rect x="309.89" y="331.73" width="13.68" height="6.76" fill="#e6be41"/>
<rect x="322.86" y="331.73" width="7.19" height="6.76" fill="#f7e822"/>
<rect x="329.35" y="331.73" width="13.68" height="6.76" fill="#fbc22a"/>
<rect x="342.32" y="331.73" width="7.19" height="6.76" fill="#f7e822"/>
<rect x="348.81" y="331.73" width="6.49" height="6.76" fill="#d0ba58"/>
<rect x="303.40" y="337.79" width="7.19" height="6.76" fill="#fbc22a"/>
<rect x="309.89" y="337.79" width="13.68" height="6.76" fill="#8cbf78"/>
<rect x="322.86" y="337.79" width="7.19" height="6.76" fill="#1e6ec2"/>
<rect x="329.35" y="337.79" width="7.19" height="6.76" fill="#d0ba58"/>
<rect x="335.84" y="337.79" width="7.19" height="6.76" fill="#8cbf78"/>
<rect x="342.32" y="337.79" width="7.19" height="6.76" fill="#1b88c4"/>
<rect x="348.81" y="337.79" width="6.49" height="6.76" fill="#d0ba58"/>
<rect x="303.40" y="343.85" width="20.16" height="6.76" fill="#1e6ec2"/>
<rect x="322.86" y="343.85" width="7.19" height="6.76" fill="#18a2c6"/>
<rect x="329.35" y="343.85" width="7.19" height="6.76" fill="#1e6ec2"/>
<rect x="335.84" y="343.85" width="7.19" height="6.76" fill="#2055b2"/>
<rect x="342.32" y="343.85" width="12.98" height="6.76" fill="#18a2c6"/>
<rect x="303.40" y="349.91" width="7.19" height="6.76" fill="#d0ba58"/>
<rect x="309.89" y="349.91" width="7.19" height="6.76" fill="#aebc68"/>
<rect x="316.38" y="349.91" width="13.68" height="6.76" fill="#29b5a4"/>
<rect x="329.35" y="349.91" width="7.19" height="6.76" fill="#8cbf78"/>
<rect x="335.84" y="349.91" width="7.19" height="6.76" fill="#fbc22a"/>
<rect x="342.32" y="349.91" width="7.19" height="6.76" fill="#5aba8e"/>
<rect x="348.81" y="349.91" width="6.49" height="6.76" fill="#8cbf78"/>
<rect x="303.40" y="355.98" width="20.16" height="6.76" fill="#2055b2"/>
<rect x="322.86" y="355.98" width="7.19" height="6.76" fill="#1b88c4"/>
<rect x="329.35" y="355.98" width="7.19" height="6.76" fill="#2055b2"/>
<rect x="335.84" y="355.98" width="7.19" height="6.76" fill="#2a2e88"/>
<rect x="342.32" y="355.98" width="7.19" height="6.76" fill="#25429d"/>
<rect x="348.81" y="355.98" width="6.49" height="6.76" fill="#29b5a4"/>
<rect x="303.40" y="362.04" width="7.19" height="6.06" fill="#18a2c6"/>
<rect x="309.89" y="362.04" width="7.19" height="6.06" fill="#29b5a4"/>
<rect x="316.38" y="362.04" width="7.19" height="6.06" fill="#aebc68"/>
<rect x="322.86" y="362.04" width="7.19" height="6.06" fill="#8cbf78"/>
<rect x="329.35" y="362.04" width="7.19" height="6.06" fill="#1e6ec2"/>
<rect x="335.84" y="362.04" width="13.68" height="6.06" fill="#d0ba58"/>
<rect x="348.81" y="362.04" width="6.49" height="6.06" fill="#2a2e88"/>
<rect x="303.40" y="319.60" width="51.90" height="48.50" fill="none" stroke="#444" stroke-width="0.50"/>
<text x="301.90" y="329.99" font-size="3.6" fill="#333" text-anchor="end">2</text>
<text x="313.13" y="372.80" font-size="3.6" fill="#333" text-anchor="middle">2</text>
<text x="301.90" y="342.11" font-size="3.6" fill="#333" text-anchor="end">4</text>
<text x="326.11" y="372.80" font-size="3.6" fill="#333" text-anchor="middle">4</text>
<text x="301.90" y="354.24" font-size="3.6" fill="#333" text-anchor="end">6</text>
<text x="339.08" y="372.80" font-size="3.6" fill="#333" text-anchor="middle">6</text>
<text x="301.90" y="366.36" font-size="3.6" fill="#333" text-anchor="end">8</text>
<text x="352.06" y="372.80" font-size="3.6" fill="#333" text-anchor="middle">8</text>
</g>
<g>
<rect x="369.50" y="33.30" width="7.15" height="6.52" fill="#f9d526"/>
<rect x="375.95" y="33.30" width="26.50" height="6.52" fill="#f7e822"/>
<rect x="401.75" y="33.30" width="6.45" height="6.52" fill="#fbc22a"/>
<rect x="369.50" y="39.12" width="7.15" height="6.52" fill="#29b5a4"/>
<rect x="375.95" y="39.12" width="7.15" height="6.52" fill="#8cbf78"/>
<rect x="382.40" y="39.12" width="13.60" height="6.52" fill="#d0ba58"/>
<rect x="395.30" y="39.12" width="7.15" height="6.52" fill="#8cbf78"/>
<rect x="401.75" y="39.12" width="6.45" height="6.52" fill="#d0ba58"/>
<rect x="369.50" y="44.93" width="13.60" height="6.52" fill="#8cbf78"/>
<rect x="382.40" y="44.93" width="7.15" height="6.52" fill="#aebc68"/>
<rect x="388.85" y="44.93" width="13.60" height="6.52" fill="#8cbf78"/>
<rect x="401.75" y="44.93" width="6.45" height="6.52" fill="#d0ba58"/>
<rect x="369.50" y="50.75" width="20.05" height="6.52" fill="#29b5a4"/>
<rect x="388.85" y="50.75" width="7.15" height="6.52" fill="#8cbf78"/>
<rect x="395.30" y="50.75" width="7.15" height="6.52" fill="#18a2c6"/>
<rect x="401.75" y="50.75" width="6.45" height="6.52" fill="#8cbf78"/>
<rect x="369.50" y="56.57" width="7.15" height="6.52" fill="#1e6ec2"/>
<rect x="375.95" y="56.57" width="7.15" height="6.52" fill="#1f62ba"/>
<rect x="382.40" y="56.57" width="7.15" height="6.52" fill="#1e6ec2"/>
<rect x="388.85" y="56.57" width="7.15" height="6.52" fill="#2a2e88"/>
<rect x="395.30" y="56.57" width="12.90" height="6.52" fill="#1e6ec2"/>
<rect x="369.50" y="62.38" width="7.15" height="5.82" fill="#1e6ec2"/>
<rect x="375.95" y="62.38" width="7.15" height="5.82" fill="#1b88c4"/>
<rect x="382.40" y="62.38" width="13.60" height="5.82" fill="#1f62ba"/>
<rect x="395.30" y="62.38" width="12.90" height="5.82" fill="#1e6ec2"/>
<rect x="369.50" y="33.30" width="38.70" height="34.90" fill="none" stroke="#444" stroke-width="0.50"/>
<text x="368.20" y="37.04" font-size="2.3" fill="#999" text-anchor="end">1</text>
<text x="372.73" y="71.70" font-size="2.3" fill="#999" text-anchor="middle">1</text>
<text x="368.20" y="42.85" font-size="2.3" fill="#999" text-anchor="end">2</text>
<text x="379.18" y="71.70" font-size="2.3" fill="#999" text-anchor="middle">2</text>
<text x="368.20" y="48.67" font-size="2.3" fill="#999" text-anchor="end">3</text>
<text x="385.62" y="71.70" font-size="2.3" fill="#999" text-anchor="middle">3</text>
<text x="368.20" y="54.49" font-size="2.3" fill="#999" text-anchor="end">4</text>
<text x="392.07" y="71.70" font-size="2.3" fill="#999" text-anchor="middle">4</text>
<text x="368.20" y="60.30" font-size="2.3" fill="#999" text-anchor="end">5</text>
<text x="398.52" y="71.70" font-size="2.3" fill="#999" text-anchor="middle">5</text>
<text x="368.20" y="66.12" font-size="2.3" fill="#999" text-anchor="end">6</text>
<text x="404.98" y="71.70" font-size="2.3" fill="#999" text-anchor="middle">6</text>
</g>
<g>
<rect x="419.50" y="35.10" width="6.90" height="6.55" fill="#8cbf78"/>
<rect x="425.70" y="35.10" width="6.90" height="6.55" fill="#d0ba58"/>
<rect x="431.90" y="35.10" width="6.90" height="6.55" fill="#fbc22a"/>
<rect x="438.10" y="35.10" width="13.10" height="6.55" fill="#d0ba58"/>
<rect x="450.50" y="35.10" width="6.20" height="6.55" fill="#e6be41"/>
<rect x="419.50" y="40.95" width="6.90" height="6.55" fill="#2055b2"/>
<rect x="425.70" y="40.95" width="13.10" height="6.55" fill="#2a2e88"/>
<rect x="438.10" y="40.95" width="13.10" height="6.55" fill="#2055b2"/>
<rect x="450.50" y="40.95" width="6.20" height="6.55" fill="#25429d"/>
<rect x="419.50" y="46.80" width="6.90" height="6.55" fill="#18a2c6"/>
<rect x="425.70" y="46.80" width="6.90" height="6.55" fill="#29b5a4"/>
<rect x="431.90" y="46.80" width="6.90" height="6.55" fill="#1e6ec2"/>
<rect x="438.10" y="46.80" width="6.90" height="6.55" fill="#29b5a4"/>
<rect x="444.30" y="46.80" width="6.90" height="6.55" fill="#20acb5"/>
<rect x="450.50" y="46.80" width="6.20" height="6.55" fill="#1e6ec2"/>
<rect x="419.50" y="52.65" width="13.10" height="6.55" fill="#fbc22a"/>
<rect x="431.90" y="52.65" width="13.10" height="6.55" fill="#8cbf78"/>
<rect x="444.30" y="52.65" width="6.90" height="6.55" fill="#d0ba58"/>
<rect x="450.50" y="52.65" width="6.20" height="6.55" fill="#8cbf78"/>
<rect x="419.50" y="58.50" width="6.90" height="6.55" fill="#18a2c6"/>
<rect x="425.70" y="58.50" width="6.90" height="6.55" fill="#1e6ec2"/>
<rect x="431.90" y="58.50" width="6.90" height="6.55" fill="#1f62ba"/>
<rect x="438.10" y="58.50" width="18.60" height="6.55" fill="#18a2c6"/>
<rect x="419.50" y="64.35" width="6.90" height="5.85" fill="#fbc22a"/>
<rect x="425.70" y="64.35" width="6.90" height="5.85" fill="#f7e822"/>
<rect x="431.90" y="64.35" width="6.90" height="5.85" fill="#fbc22a"/>
<rect x="438.10" y="64.35" width="6.90" height="5.85" fill="#e6be41"/>
<rect x="444.30" y="64.35" width="6.90" height="5.85" fill="#d0ba58"/>
<rect x="450.50" y="64.35" width="6.20" height="5.85" fill="#fbc22a"/>
<rect x="419.50" y="35.10" width="37.20" height="35.10" fill="none" stroke="#444" stroke-width="0.50"/>
<text x="418.20" y="38.85" font-size="2.3" fill="#999" text-anchor="end">1</text>
<text x="422.60" y="73.70" font-size="2.3" fill="#999" text-anchor="middle">1</text>
<text x="418.20" y="44.70" font-size="2.3" fill="#999" text-anchor="end">2</text>
<text x="428.80" y="73.70" font-size="2.3" fill="#999" text-anchor="middle">2</text>
<text x="418.20" y="50.55" font-size="2.3" fill="#999" text-anchor="end">3</text>
<text x="435.00" y="73.70" font-size="2.3" fill="#999" text-anchor="middle">3</text>
<text x="418.20" y="56.40" font-size="2.3" fill="#999" text-anchor="end">4</text>
<text x="441.20" y="73.70" font-size="2.3" fill="#999" text-anchor="middle">4</text>
<text x="418.20" y="62.25" font-size="2.3" fill="#999" text-anchor="end">5</text>
<text x="447.40" y="73.70" font-size="2.3" fill="#999" text-anchor="middle">5</text>
<text x="418.20" y="68.10" font-size="2.3" fill="#999" text-anchor="end">6</text>
<text x="453.60" y="73.70" font-size="2.3" fill="#999" text-anchor="middle">6</text>
</g>
<g>
<rect x="369.50" y="86.40" width="7.15" height="6.45" fill="#d0ba58"/>
<rect x="375.95" y="86.40" width="7.15" height="6.45" fill="#e6be41"/>
<rect x="382.40" y="86.40" width="7.15" height="6.45" fill="#d0ba58"/>
<rect x="388.85" y="86.40" width="7.15" height="6.45" fill="#fbc22a"/>
<rect x="395.30" y="86.40" width="12.90" height="6.45" fill="#f7e822"/>
<rect x="369.50" y="92.15" width="7.15" height="6.45" fill="#f7e822"/>
<rect x="375.95" y="92.15" width="7.15" height="6.45" fill="#e6be41"/>
<rect x="382.40" y="92.15" width="7.15" height="6.45" fill="#f7e822"/>
<rect x="388.85" y="92.15" width="7.15" height="6.45" fill="#e6be41"/>
<rect x="395.30" y="92.15" width="12.90" height="6.45" fill="#f7e822"/>
<rect x="369.50" y="97.90" width="7.15" height="6.45" fill="#f7e822"/>
<rect x="375.95" y="97.90" width="7.15" height="6.45" fill="#fbc22a"/>
<rect x="382.40" y="97.90" width="7.15" height="6.45" fill="#f7e822"/>
<rect x="388.85" y="97.90" width="7.15" height="6.45" fill="#29b5a4"/>
<rect x="395.30" y="97.90" width="7.15" height="6.45" fill="#f7e822"/>
<rect x="401.75" y="97.90" width="6.45" height="6.45" fill="#f9d526"/>
<rect x="369.50" y="103.65" width="7.15" height="6.45" fill="#29b5a4"/>
<rect x="375.95" y="103.65" width="7.15" height="6.45" fill="#aebc68"/>
<rect x="382.40" y="103.65" width="7.15" height="6.45" fill="#29b5a4"/>
<rect x="388.85" y="103.65" width="7.15" height="6.45" fill="#aebc68"/>
<rect x="395.30" y="103.65" width="7.15" height="6.45" fill="#fbc22a"/>
<rect x="401.75" y="103.65" width="6.45" height="6.45" fill="#29b5a4"/>
<rect x="369.50" y="109.40" width="7.15" height="6.45" fill="#1e6ec2"/>
<rect x="375.95" y="109.40" width="13.60" height="6.45" fill="#18a2c6"/>
<rect x="388.85" y="109.40" width="7.15" height="6.45" fill="#2a2e88"/>
<rect x="395.30" y="109.40" width="12.90" height="6.45" fill="#29b5a4"/>
<rect x="369.50" y="115.15" width="13.60" height="5.75" fill="#8cbf78"/>
<rect x="382.40" y="115.15" width="7.15" height="5.75" fill="#aebc68"/>
<rect x="388.85" y="115.15" width="7.15" height="5.75" fill="#fbc22a"/>
<rect x="395.30" y="115.15" width="7.15" height="5.75" fill="#18a2c6"/>
<rect x="401.75" y="115.15" width="6.45" height="5.75" fill="#5aba8e"/>
<rect x="369.50" y="86.40" width="38.70" height="34.50" fill="none" stroke="#444" stroke-width="0.50"/>
<text x="368.20" y="90.10" font-size="2.3" fill="#999" text-anchor="end">1</text>
<text x="372.73" y="124.40" font-size="2.3" fill="#999" text-anchor="middle">1</text>
<text x="368.20" y="95.85" font-size="2.3" fill="#999" text-anchor="end">2</text>
<text x="379.18" y="124.40" font-size="2.3" fill="#999" text-anchor="middle">2</text>
<text x="368.20" y="101.60" font-size="2.3" fill="#999" text-anchor="end">3</text>
<text x="385.62" y="124.40" font-size="2.3" fill="#999" text-anchor="middle">3</text>
<text x="368.20" y="107.35" font-size="2.3" fill="#999" text-anchor="end">4</text>
<text x="392.07" y="124.40" font-size="2.3" fill="#999" text-anchor="middle">4</text>
<text x="368.20" y="113.10" font-size="2.3" fill="#999" text-anchor="end">5</text>
<text x="398.52" y="124.40" font-size="2.3" fill="#999" text-anchor="middle">5</text>
<text x="368.20" y="118.85" font-size="2.3" fill="#999" text-anchor="end">6</text>
<text x="404.98" y="124.40" font-size="2.3" fill="#999" text-anchor="middle">6</text>
</g>
<g>
<rect x="419.50" y="87.80" width="6.90" height="6.52" fill="#1e6ec2"/>
<rect x="425.70" y="87.80" width="6.90" height="6.52" fill="#25429d"/>
<rect x="431.90" y="87.80" width="24.80" height="6.52" fill="#1e6ec2"/>
<rect x="419.50" y="93.62" width="6.90" height="6.52" fill="#d0ba58"/>
<rect x="425.70" y="93.62" width="6.90" height="6.52" fill="#e6be41"/>
<rect x="431.90" y="93.62" width="6.90" height="6.52" fill="#8cbf78"/>
<rect x="438.10" y="93.62" width="6.90" height="6.52" fill="#f7e822"/>
<rect x="444.30" y="93.62" width="6.90" height="6.52" fill="#8cbf78"/>
<rect x="450.50" y="93.62" width="6.20" height="6.52" fill="#fbc22a"/>
<rect x="419.50" y="99.43" width="6.90" height="6.52" fill="#29b5a4"/>
<rect x="425.70" y="99.43" width="13.10" height="6.52" fill="#18a2c6"/>
<rect x="438.10" y="99.43" width="6.90" height="6.52" fill="#1e6ec2"/>
<rect x="444.30" y="99.43" width="6.90" height="6.52" fill="#29b5a4"/>
<rect x="450.50" y="99.43" width="6.20" height="6.52" fill="#18a2c6"/>
<rect x="419.50" y="105.25" width="6.90" height="6.52" fill="#1e6ec2"/>
<rect x="425.70" y="105.25" width="13.10" height="6.52" fill="#1b88c4"/>
<rect x="438.10" y="105.25" width="6.90" height="6.52" fill="#29b5a4"/>
<rect x="444.30" y="105.25" width="6.90" height="6.52" fill="#2a2e88"/>
<rect x="450.50" y="105.25" width="6.20" height="6.52" fill="#29b5a4"/>
<rect x="419.50" y="111.07" width="6.90" height="6.52" fill="#d0ba58"/>
<rect x="425.70" y="111.07" width="13.10" height="6.52" fill="#29b5a4"/>
<rect x="438.10" y="111.07" width="18.60" height="6.52" fill="#8cbf78"/>
<rect x="419.50" y="116.88" width="6.90" height="5.82" fill="#fbc22a"/>
<rect x="425.70" y="116.88" width="13.10" height="5.82" fill="#f7e822"/>
<rect x="438.10" y="116.88" width="6.90" height="5.82" fill="#fbc22a"/>
<rect x="444.30" y="116.88" width="6.90" height="5.82" fill="#e6be41"/>
<rect x="450.50" y="116.88" width="6.20" height="5.82" fill="#20acb5"/>
<rect x="419.50" y="87.80" width="37.20" height="34.90" fill="none" stroke="#444" stroke-width="0.50"/>
<text x="418.20" y="91.54" font-size="2.3" fill="#999" text-anchor="end">1</text>
<text x="422.60" y="126.20" font-size="2.3" fill="#999" text-anchor="middle">1</text>
<text x="418.20" y="97.35" font-size="2.3" fill="#999" text-anchor="end">2</text>
<text x="428.80" y="126.20" font-size="2.3" fill="#999" text-anchor="middle">2</text>
<text x="418.20" y="103.17" font-size="2.3" fill="#999" text-anchor="end">3</text>
<text x="435.00" y="126.20" font-size="2.3" fill="#999" text-anchor="middle">3</text>
<text x="418.20" y="108.99" font-size="2.3" fill="#999" text-anchor="end">4</text>
<text x="441.20" y="126.20" font-size="2.3" fill="#999" text-anchor="middle">4</text>
<text x="418.20" y="114.80" font-size="2.3" fill="#999" text-anchor="end">5</text>
<text x="447.40" y="126.20" font-size="2.3" fill="#999" text-anchor="middle">5</text>
<text x="418.20" y="120.62" font-size="2.3" fill="#999" text-anchor="end">6</text>
<text x="453.60" y="126.20" font-size="2.3" fill="#999" text-anchor="middle">6</text>
</g>
<g>
<rect x="369.10" y="142.20" width="7.22" height="6.82" fill="#29b5a4"/>
<rect x="375.62" y="142.20" width="13.73" height="6.82" fill="#5aba8e"/>
<rect x="388.65" y="142.20" width="7.22" height="6.82" fill="#18a2c6"/>
<rect x="395.17" y="142.20" width="7.22" height="6.82" fill="#8cbf78"/>
<rect x="401.68" y="142.20" width="6.52" height="6.82" fill="#29b5a4"/>
<rect x="369.10" y="148.32" width="7.22" height="6.82" fill="#aebc68"/>
<rect x="375.62" y="148.32" width="13.73" height="6.82" fill="#fbc22a"/>
<rect x="388.65" y="148.32" width="7.22" height="6.82" fill="#d0ba58"/>
<rect x="395.17" y="148.32" width="7.22" height="6.82" fill="#f9d526"/>
<rect x="401.68" y="148.32" width="6.52" height="6.82" fill="#d0ba58"/>
<rect x="369.10" y="154.43" width="7.22" height="6.82" fill="#d0ba58"/>
<rect x="375.62" y="154.43" width="7.22" height="6.82" fill="#fbc22a"/>
<rect x="382.13" y="154.43" width="7.22" height="6.82" fill="#d0ba58"/>
<rect x="388.65" y="154.43" width="7.22" height="6.82" fill="#fbc22a"/>
<rect x="395.17" y="154.43" width="7.22" height="6.82" fill="#aebc68"/>
<rect x="401.68" y="154.43" width="6.52" height="6.82" fill="#f7e822"/>
<rect x="369.10" y="160.55" width="13.73" height="6.82" fill="#18a2c6"/>
<rect x="382.13" y="160.55" width="7.22" height="6.82" fill="#29b5a4"/>
<rect x="388.65" y="160.55" width="7.22" height="6.82" fill="#1e6ec2"/>
<rect x="395.17" y="160.55" width="7.22" height="6.82" fill="#8cbf78"/>
<rect x="401.68" y="160.55" width="6.52" height="6.82" fill="#29b5a4"/>
<rect x="369.10" y="166.67" width="13.73" height="6.82" fill="#29b5a4"/>
<rect x="382.13" y="166.67" width="13.73" height="6.82" fill="#aebc68"/>
<rect x="395.17" y="166.67" width="7.22" height="6.82" fill="#29b5a4"/>
<rect x="401.68" y="166.67" width="6.52" height="6.82" fill="#d0ba58"/>
<rect x="369.10" y="172.78" width="7.22" height="6.12" fill="#1e6ec2"/>
<rect x="375.62" y="172.78" width="7.22" height="6.12" fill="#2055b2"/>
<rect x="382.13" y="172.78" width="13.73" height="6.12" fill="#25429d"/>
<rect x="395.17" y="172.78" width="7.22" height="6.12" fill="#1f62ba"/>
<rect x="401.68" y="172.78" width="6.52" height="6.12" fill="#1b88c4"/>
<rect x="369.10" y="142.20" width="39.10" height="36.70" fill="none" stroke="#444" stroke-width="0.50"/>
<text x="367.80" y="146.09" font-size="2.3" fill="#999" text-anchor="end">1</text>
<text x="372.36" y="182.40" font-size="2.3" fill="#999" text-anchor="middle">1</text>
<text x="367.80" y="152.20" font-size="2.3" fill="#999" text-anchor="end">2</text>
<text x="378.88" y="182.40" font-size="2.3" fill="#999" text-anchor="middle">2</text>
<text x="367.80" y="158.32" font-size="2.3" fill="#999" text-anchor="end">3</text>
<text x="385.39" y="182.40" font-size="2.3" fill="#999" text-anchor="middle">3</text>
<text x="367.80" y="164.44" font-size="2.3" fill="#999" text-anchor="end">4</text>
<text x="391.91" y="182.40" font-size="2.3" fill="#999" text-anchor="middle">4</text>
<text x="367.80" y="170.55" font-size="2.3" fill="#999" text-anchor="end">5</text>
<text x="398.43" y="182.40" font-size="2.3" fill="#999" text-anchor="middle">5</text>
<text x="367.80" y="176.67" font-size="2.3" fill="#999" text-anchor="end">6</text>
<text x="404.94" y="182.40" font-size="2.3" fill="#999" text-anchor="middle">6</text>
</g>
<g>
<rect x="419.50" y="144.00" width="7.15" height="6.77" fill="#29b5a4"/>
<rect x="425.95" y="144.00" width="7.15" height="6.77" fill="#8cbf78"/>
<rect x="432.40" y="144.00" width="7.15" height="6.77" fill="#5aba8e"/>
<rect x="438.85" y="144.00" width="7.15" height="6.77" fill="#29b5a4"/>
<rect x="445.30" y="144.00" width="7.15" height="6.77" fill="#aebc68"/>
<rect x="451.75" y="144.00" width="6.45" height="6.77" fill="#8cbf78"/>
<rect x="419.50" y="150.07" width="7.15" height="6.77" fill="#8cbf78"/>
<rect x="425.95" y="150.07" width="7.15" height="6.77" fill="#29b5a4"/>
<rect x="432.40" y="150.07" width="7.15" height="6.77" fill="#5aba8e"/>
<rect x="438.85" y="150.07" width="7.15" height="6.77" fill="#d0ba58"/>
<rect x="445.30" y="150.07" width="7.15" height="6.77" fill="#fbc22a"/>
<rect x="451.75" y="150.07" width="6.45" height="6.77" fill="#29b5a4"/>
<rect x="419.50" y="156.13" width="7.15" height="6.77" fill="#f7e822"/>
<rect x="425.95" y="156.13" width="13.60" height="6.77" fill="#fbc22a"/>
<rect x="438.85" y="156.13" width="13.60" height="6.77" fill="#f9d526"/>
<rect x="451.75" y="156.13" width="6.45" height="6.77" fill="#d0ba58"/>
<rect x="419.50" y="162.20" width="7.15" height="6.77" fill="#18a2c6"/>
<rect x="425.95" y="162.20" width="7.15" height="6.77" fill="#2055b2"/>
<rect x="432.40" y="162.20" width="7.15" height="6.77" fill="#1f62ba"/>
<rect x="438.85" y="162.20" width="7.15" height="6.77" fill="#29b5a4"/>
<rect x="445.30" y="162.20" width="7.15" height="6.77" fill="#1f62ba"/>
<rect x="451.75" y="162.20" width="6.45" height="6.77" fill="#2a2e88"/>
<rect x="419.50" y="168.27" width="7.15" height="6.77" fill="#8cbf78"/>
<rect x="425.95" y="168.27" width="7.15" height="6.77" fill="#18a2c6"/>
<rect x="432.40" y="168.27" width="7.15" height="6.77" fill="#1e6ec2"/>
<rect x="438.85" y="168.27" width="7.15" height="6.77" fill="#aebc68"/>
<rect x="445.30" y="168.27" width="7.15" height="6.77" fill="#d0ba58"/>
<rect x="451.75" y="168.27" width="6.45" height="6.77" fill="#18a2c6"/>
<rect x="419.50" y="174.33" width="7.15" height="6.07" fill="#2a2e88"/>
<rect x="425.95" y="174.33" width="7.15" height="6.07" fill="#5aba8e"/>
<rect x="432.40" y="174.33" width="7.15" height="6.07" fill="#18a2c6"/>
<rect x="438.85" y="174.33" width="13.60" height="6.07" fill="#1e6ec2"/>
<rect x="451.75" y="174.33" width="6.45" height="6.07" fill="#29b5a4"/>
<rect x="419.50" y="144.00" width="38.70" height="36.40" fill="none" stroke="#444" stroke-width="0.50"/>
<text x="418.20" y="147.86" font-size="2.3" fill="#999" text-anchor="end">1</text>
<text x="422.73" y="183.90" font-size="2.3" fill="#999" text-anchor="middle">1</text>
<text x="418.20" y="153.93" font-size="2.3" fill="#999" text-anchor="end">2</text>
<text x="429.18" y="183.90" font-size="2.3" fill="#999" text-anchor="middle">2</text>
<text x="418.20" y="159.99" font-size="2.3" fill="#999" text-anchor="end">3</text>
<text x="435.62" y="183.90" font-size="2.3" fill="#999" text-anchor="middle">3</text>
<text x="418.20" y="166.06" font-size="2.3" fill="#999" text-anchor="end">4</text>
<text x="442.07" y="183.90" font-size="2.3" fill="#999" text-anchor="middle">4</text>
<text x="418.20" y="172.13" font-size="2.3" fill="#999" text-anchor="end">5</text>
<text x="448.52" y="183.90" font-size="2.3" fill="#999" text-anchor="middle">5</text>
<text x="418.20" y="178.19" font-size="2.3" fill="#999" text-anchor="end">6</text>
<text x="454.98" y="183.90" font-size="2.3" fill="#999" text-anchor="middle">6</text>
</g>
<g>
<rect x="368.00" y="197.10" width="7.30" height="6.77" fill="#d0ba58"/>
<rect x="374.60" y="197.10" width="7.30" height="6.77" fill="#fbc22a"/>
<rect x="381.20" y="197.10" width="7.30" height="6.77" fill="#e6be41"/>
<rect x="387.80" y="197.10" width="13.90" height="6.77" fill="#fbc22a"/>
<rect x="401.00" y="197.10" width="6.60" height="6.77" fill="#f7e822"/>
<rect x="368.00" y="203.17" width="13.90" height="6.77" fill="#fbc22a"/>
<rect x="381.20" y="203.17" width="7.30" height="6.77" fill="#e6be41"/>
<rect x="387.80" y="203.17" width="7.30" height="6.77" fill="#d0ba58"/>
<rect x="394.40" y="203.17" width="13.20" height="6.77" fill="#fbc22a"/>
<rect x="368.00" y="209.23" width="7.30" height="6.77" fill="#25429d"/>
<rect x="374.60" y="209.23" width="7.30" height="6.77" fill="#2055b2"/>
<rect x="381.20" y="209.23" width="7.30" height="6.77" fill="#1e6ec2"/>
<rect x="387.80" y="209.23" width="7.30" height="6.77" fill="#2a2e88"/>
<rect x="394.40" y="209.23" width="7.30" height="6.77" fill="#1f62ba"/>
<rect x="401.00" y="209.23" width="6.60" height="6.77" fill="#1e6ec2"/>
<rect x="368.00" y="215.30" width="7.30" height="6.77" fill="#18a2c6"/>
<rect x="374.60" y="215.30" width="13.90" height="6.77" fill="#29b5a4"/>
<rect x="387.80" y="215.30" width="13.90" height="6.77" fill="#18a2c6"/>
<rect x="401.00" y="215.30" width="6.60" height="6.77" fill="#29b5a4"/>
<rect x="368.00" y="221.37" width="7.30" height="6.77" fill="#1e6ec2"/>
<rect x="374.60" y="221.37" width="7.30" height="6.77" fill="#18a2c6"/>
<rect x="381.20" y="221.37" width="7.30" height="6.77" fill="#1b88c4"/>
<rect x="387.80" y="221.37" width="7.30" height="6.77" fill="#1e6ec2"/>
<rect x="394.40" y="221.37" width="13.20" height="6.77" fill="#18a2c6"/>
<rect x="368.00" y="227.43" width="7.30" height="6.07" fill="#1b88c4"/>
<rect x="374.60" y="227.43" width="7.30" height="6.07" fill="#29b5a4"/>
<rect x="381.20" y="227.43" width="7.30" height="6.07" fill="#8cbf78"/>
<rect x="387.80" y="227.43" width="7.30" height="6.07" fill="#29b5a4"/>
<rect x="394.40" y="227.43" width="7.30" height="6.07" fill="#1e6ec2"/>
<rect x="401.00" y="227.43" width="6.60" height="6.07" fill="#29b5a4"/>
<rect x="368.00" y="197.10" width="39.60" height="36.40" fill="none" stroke="#444" stroke-width="0.50"/>
<text x="366.70" y="200.96" font-size="2.3" fill="#999" text-anchor="end">1</text>
<text x="371.30" y="237.00" font-size="2.3" fill="#999" text-anchor="middle">1</text>
<text x="366.70" y="207.03" font-size="2.3" fill="#999" text-anchor="end">2</text>
<text x="377.90" y="237.00" font-size="2.3" fill="#999" text-anchor="middle">2</text>
<text x="366.70" y="213.09" font-size="2.3" fill="#999" text-anchor="end">3</text>
<text x="384.50" y="237.00" font-size="2.3" fill="#999" text-anchor="middle">3</text>
<text x="366.70" y="219.16" font-size="2.3" fill="#999" text-anchor="end">4</text>
<text x="391.10" y="237.00" font-size="2.3" fill="#999" text-anchor="middle">4</text>
<text x="366.70" y="225.23" font-size="2.3" fill="#999" text-anchor="end">5</text>
<text x="397.70" y="237.00" font-size="2.3" fill="#999" text-anchor="middle">5</text>
<text x="366.70" y="231.29" font-size="2.3" fill="#999" text-anchor="end">6</text>
<text x="404.30" y="237.00" font-size="2.3" fill="#999" text-anchor="middle">6</text>
</g>
<g>
<rect x="418.50" y="196.70" width="7.13" height="6.88" fill="#fbc22a"/>
<rect x="424.93" y="196.70" width="7.13" height="6.88" fill="#d0ba58"/>
<rect x="431.37" y="196.70" width="20.00" height="6.88" fill="#f7e822"/>
<rect x="450.67" y="196.70" width="6.43" height="6.88" fill="#fbc22a"/>
<rect x="418.50" y="202.88" width="20.00" height="6.88" fill="#aebc68"/>
<rect x="437.80" y="202.88" width="7.13" height="6.88" fill="#fbc22a"/>
<rect x="444.23" y="202.88" width="7.13" height="6.88" fill="#29b5a4"/>
<rect x="450.67" y="202.88" width="6.43" height="6.88" fill="#d0ba58"/>
<rect x="418.50" y="209.07" width="7.13" height="6.88" fill="#2055b2"/>
<rect x="424.93" y="209.07" width="7.13" height="6.88" fill="#2a2e88"/>
<rect x="431.37" y="209.07" width="13.57" height="6.88" fill="#1f62ba"/>
<rect x="444.23" y="209.07" width="7.13" height="6.88" fill="#2a2e88"/>
<rect x="450.67" y="209.07" width="6.43" height="6.88" fill="#1f62ba"/>
<rect x="418.50" y="215.25" width="13.57" height="6.88" fill="#8cbf78"/>
<rect x="431.37" y="215.25" width="7.13" height="6.88" fill="#d0ba58"/>
<rect x="437.80" y="215.25" width="7.13" height="6.88" fill="#e6be41"/>
<rect x="444.23" y="215.25" width="7.13" height="6.88" fill="#d0ba58"/>
<rect x="450.67" y="215.25" width="6.43" height="6.88" fill="#fbc22a"/>
<rect x="418.50" y="221.43" width="20.00" height="6.88" fill="#29b5a4"/>
<rect x="437.80" y="221.43" width="13.57" height="6.88" fill="#18a2c6"/>
<rect x="450.67" y="221.43" width="6.43" height="6.88" fill="#29b5a4"/>
<rect x="418.50" y="227.62" width="7.13" height="6.18" fill="#20acb5"/>
<rect x="424.93" y="227.62" width="7.13" height="6.18" fill="#29b5a4"/>
<rect x="431.37" y="227.62" width="25.73" height="6.18" fill="#18a2c6"/>
<rect x="418.50" y="196.70" width="38.60" height="37.10" fill="none" stroke="#444" stroke-width="0.50"/>
<text x="417.20" y="200.62" font-size="2.3" fill="#999" text-anchor="end">1</text>
<text x="421.72" y="237.30" font-size="2.3" fill="#999" text-anchor="middle">1</text>
<text x="417.20" y="206.80" font-size="2.3" fill="#999" text-anchor="end">2</text>
<text x="428.15" y="237.30" font-size="2.3" fill="#999" text-anchor="middle">2</text>
<text x="417.20" y="212.99" font-size="2.3" fill="#999" text-anchor="end">3</text>
<text x="434.58" y="237.30" font-size="2.3" fill="#999" text-anchor="middle">3</text>
<text x="417.20" y="219.17" font-size="2.3" fill="#999" text-anchor="end">4</text>
<text x="441.02" y="237.30" font-size="2.3" fill="#999" text-anchor="middle">4</text>
<text x="417.20" y="225.35" font-size="2.3" fill="#999" text-anchor="end">5</text>
<text x="447.45" y="237.30" font-size="2.3" fill="#999" text-anchor="middle">5</text>
<text x="417.20" y="231.54" font-size="2.3" fill="#999" text-anchor="end">6</text>
<text x="453.88" y="237.30" font-size="2.3" fill="#999" text-anchor="middle">6</text>
</g>
<g>
<rect x="368.00" y="251.50" width="7.37" height="6.60" fill="#5aba8e"/>
<rect x="374.67" y="251.50" width="7.37" height="6.60" fill="#e6be41"/>
<rect x="381.33" y="251.50" width="14.03" height="6.60" fill="#8cbf78"/>
<rect x="394.67" y="251.50" width="7.37" height="6.60" fill="#29b5a4"/>
<rect x="401.33" y="251.50" width="6.67" height="6.60" fill="#8cbf78"/>
<rect x="368.00" y="257.40" width="7.37" height="6.60" fill="#18a2c6"/>
<rect x="374.67" y="257.40" width="7.37" height="6.60" fill="#29b5a4"/>
<rect x="381.33" y="257.40" width="20.70" height="6.60" fill="#1e6ec2"/>
<rect x="401.33" y="257.40" width="6.67" height="6.60" fill="#18a2c6"/>
<rect x="368.00" y="263.30" width="7.37" height="6.60" fill="#1f62ba"/>
<rect x="374.67" y="263.30" width="14.03" height="6.60" fill="#2a2e88"/>
<rect x="388.00" y="263.30" width="7.37" height="6.60" fill="#1e6ec2"/>
<rect x="394.67" y="263.30" width="13.33" height="6.60" fill="#2a2e88"/>
<rect x="368.00" y="269.20" width="14.03" height="6.60" fill="#d0ba58"/>
<rect x="381.33" y="269.20" width="7.37" height="6.60" fill="#fbc22a"/>
<rect x="388.00" y="269.20" width="7.37" height="6.60" fill="#8cbf78"/>
<rect x="394.67" y="269.20" width="7.37" height="6.60" fill="#aebc68"/>
<rect x="401.33" y="269.20" width="6.67" height="6.60" fill="#d0ba58"/>
<rect x="368.00" y="275.10" width="7.37" height="6.60" fill="#f7e822"/>
<rect x="374.67" y="275.10" width="7.37" height="6.60" fill="#8cbf78"/>
<rect x="381.33" y="275.10" width="7.37" height="6.60" fill="#f9d526"/>
<rect x="388.00" y="275.10" width="7.37" height="6.60" fill="#f7e822"/>
<rect x="394.67" y="275.10" width="7.37" height="6.60" fill="#fbc22a"/>
<rect x="401.33" y="275.10" width="6.67" height="6.60" fill="#8cbf78"/>
<rect x="368.00" y="281.00" width="14.03" height="5.90" fill="#d0ba58"/>
<rect x="381.33" y="281.00" width="14.03" height="5.90" fill="#fbc22a"/>
<rect x="394.67" y="281.00" width="7.37" height="5.90" fill="#8cbf78"/>
<rect x="401.33" y="281.00" width="6.67" height="5.90" fill="#aebc68"/>
<rect x="368.00" y="251.50" width="40.00" height="35.40" fill="none" stroke="#444" stroke-width="0.50"/>
<text x="366.70" y="255.28" font-size="2.3" fill="#999" text-anchor="end">1</text>
<text x="371.33" y="290.40" font-size="2.3" fill="#999" text-anchor="middle">1</text>
<text x="366.70" y="261.18" font-size="2.3" fill="#999" text-anchor="end">2</text>
<text x="378.00" y="290.40" font-size="2.3" fill="#999" text-anchor="middle">2</text>
<text x="366.70" y="267.08" font-size="2.3" fill="#999" text-anchor="end">3</text>
<text x="384.67" y="290.40" font-size="2.3" fill="#999" text-anchor="middle">3</text>
<text x="366.70" y="272.98" font-size="2.3" fill="#999" text-anchor="end">4</text>
<text x="391.33" y="290.40" font-size="2.3" fill="#999" text-anchor="middle">4</text>
<text x="366.70" y="278.88" font-size="2.3" fill="#999" text-anchor="end">5</text>
<text x="398.00" y="290.40" font-size="2.3" fill="#999" text-anchor="middle">5</text>
<text x="366.70" y="284.78" font-size="2.3" fill="#999" text-anchor="end">6</text>
<text x="404.67" y="290.40" font-size="2.3" fill="#999" text-anchor="middle">6</text>
</g>
<g>
<rect x="419.50" y="250.50" width="7.20" height="6.88" fill="#18a2c6"/>
<rect x="426.00" y="250.50" width="20.20" height="6.88" fill="#29b5a4"/>
<rect x="445.50" y="250.50" width="7.20" height="6.88" fill="#20acb5"/>
<rect x="452.00" y="250.50" width="6.50" height="6.88" fill="#8cbf78"/>
<rect x="419.50" y="256.68" width="13.70" height="6.88" fill="#f7e822"/>
<rect x="432.50" y="256.68" width="7.20" height="6.88" fill="#f9d526"/>
<rect x="439.00" y="256.68" width="19.50" height="6.88" fill="#f7e822"/>
<rect x="419.50" y="262.87" width="7.20" height="6.88" fill="#e6be41"/>
<rect x="426.00" y="262.87" width="7.20" height="6.88" fill="#5aba8e"/>
<rect x="432.50" y="262.87" width="13.70" height="6.88" fill="#d0ba58"/>
<rect x="445.50" y="262.87" width="7.20" height="6.88" fill="#fbc22a"/>
<rect x="452.00" y="262.87" width="6.50" height="6.88" fill="#8cbf78"/>
<rect x="419.50" y="269.05" width="7.20" height="6.88" fill="#1e6ec2"/>
<rect x="426.00" y="269.05" width="7.20" height="6.88" fill="#1b88c4"/>
<rect x="432.50" y="269.05" width="13.70" height="6.88" fill="#18a2c6"/>
<rect x="445.50" y="269.05" width="7.20" height="6.88" fill="#1e6ec2"/>
<rect x="452.00" y="269.05" width="6.50" height="6.88" fill="#18a2c6"/>
<rect x="419.50" y="275.23" width="20.20" height="6.88" fill="#18a2c6"/>
<rect x="439.00" y="275.23" width="19.50" height="6.88" fill="#29b5a4"/>
<rect x="419.50" y="281.42" width="7.20" height="6.18" fill="#2a2e88"/>
<rect x="426.00" y="281.42" width="20.20" height="6.18" fill="#1e6ec2"/>
<rect x="445.50" y="281.42" width="7.20" height="6.18" fill="#25429d"/>
<rect x="452.00" y="281.42" width="6.50" height="6.18" fill="#1e6ec2"/>
<rect x="419.50" y="250.50" width="39.00" height="37.10" fill="none" stroke="#444" stroke-width="0.50"/>
<text x="418.20" y="254.42" font-size="2.3" fill="#999" text-anchor="end">1</text>
<text x="422.75" y="291.10" font-size="2.3" fill="#999" text-anchor="middle">1</text>
<text x="418.20" y="260.60" font-size="2.3" fill="#999" text-anchor="end">2</text>
<text x="429.25" y="291.10" font-size="2.3" fill="#999" text-anchor="middle">2</text>
<text x="418.20" y="266.79" font-size="2.3" fill="#999" text-anchor="end">3</text>
<text x="435.75" y="291.10" font-size="2.3" fill="#999" text-anchor="middle">3</text>
<text x="418.20" y="272.97" font-size="2.3" fill="#999" text-anchor="end">4</text>
<text x="442.25" y="291.10" font-size="2.3" fill="#999" text-anchor="middle">4</text>
<text x="418.20" y="279.15" font-size="2.3" fill="#999" text-anchor="end">5</text>
<text x="448.75" y="291.10" font-size="2.3" fill="#999" text-anchor="middle">5</text>
<text x="418.20" y="285.34" font-size="2.3" fill="#999" text-anchor="end">6</text>
<text x="455.25" y="291.10" font-size="2.3" fill="#999" text-anchor="middle">6</text>
</g>
<g>
<rect x="368.00" y="302.70" width="7.37" height="6.32" fill="#d0ba58"/>
<rect x="374.67" y="302.70" width="7.37" height="6.32" fill="#fbc22a"/>
<rect x="381.33" y="302.70" width="7.37" height="6.32" fill="#8cbf78"/>
<rect x="388.00" y="302.70" width="7.37" height="6.32" fill="#f9d526"/>
<rect x="394.67" y="302.70" width="13.33" height="6.32" fill="#d0ba58"/>
<rect x="368.00" y="308.32" width="7.37" height="6.32" fill="#18a2c6"/>
<rect x="374.67" y="308.32" width="7.37" height="6.32" fill="#1e6ec2"/>
<rect x="381.33" y="308.32" width="7.37" height="6.32" fill="#18a2c6"/>
<rect x="388.00" y="308.32" width="7.37" height="6.32" fill="#1f62ba"/>
<rect x="394.67" y="308.32" width="7.37" height="6.32" fill="#29b5a4"/>
<rect x="401.33" y="308.32" width="6.67" height="6.32" fill="#1e6ec2"/>
<rect x="368.00" y="313.93" width="14.03" height="6.32" fill="#fbc22a"/>
<rect x="381.33" y="313.93" width="7.37" height="6.32" fill="#d0ba58"/>
<rect x="388.00" y="313.93" width="7.37" height="6.32" fill="#29b5a4"/>
<rect x="394.67" y="313.93" width="7.37" height="6.32" fill="#f7e822"/>
<rect x="401.33" y="313.93" width="6.67" height="6.32" fill="#5aba8e"/>
<rect x="368.00" y="319.55" width="7.37" height="6.32" fill="#8cbf78"/>
<rect x="374.67" y="319.55" width="7.37" height="6.32" fill="#18a2c6"/>
<rect x="381.33" y="319.55" width="7.37" height="6.32" fill="#2055b2"/>
<rect x="388.00" y="319.55" width="7.37" height="6.32" fill="#18a2c6"/>
<rect x="394.67" y="319.55" width="7.37" height="6.32" fill="#8cbf78"/>
<rect x="401.33" y="319.55" width="6.67" height="6.32" fill="#2a2e88"/>
<rect x="368.00" y="325.17" width="7.37" height="6.32" fill="#2055b2"/>
<rect x="374.67" y="325.17" width="7.37" height="6.32" fill="#18a2c6"/>
<rect x="381.33" y="325.17" width="26.67" height="6.32" fill="#1e6ec2"/>
<rect x="368.00" y="330.78" width="7.37" height="5.62" fill="#18a2c6"/>
<rect x="374.67" y="330.78" width="7.37" height="5.62" fill="#1e6ec2"/>
<rect x="381.33" y="330.78" width="14.03" height="5.62" fill="#8cbf78"/>
<rect x="394.67" y="330.78" width="7.37" height="5.62" fill="#20acb5"/>
<rect x="401.33" y="330.78" width="6.67" height="5.62" fill="#8cbf78"/>
<rect x="368.00" y="302.70" width="40.00" height="33.70" fill="none" stroke="#444" stroke-width="0.50"/>
<text x="366.70" y="306.34" font-size="2.3" fill="#999" text-anchor="end">1</text>
<text x="371.33" y="339.90" font-size="2.3" fill="#999" text-anchor="middle">1</text>
<text x="366.70" y="311.95" font-size="2.3" fill="#999" text-anchor="end">2</text>
<text x="378.00" y="339.90" font-size="2.3" fill="#999" text-anchor="middle">2</text>
<text x="366.70" y="317.57" font-size="2.3" fill="#999" text-anchor="end">3</text>
<text x="384.67" y="339.90" font-size="2.3" fill="#999" text-anchor="middle">3</text>
<text x="366.70" y="323.19" font-size="2.3" fill="#999" text-anchor="end">4</text>
<text x="391.33" y="339.90" font-size="2.3" fill="#999" text-anchor="middle">4</text>
<text x="366.70" y="328.80" font-size="2.3" fill="#999" text-anchor="end">5</text>
<text x="398.00" y="339.90" font-size="2.3" fill="#999" text-anchor="middle">5</text>
<text x="366.70" y="334.42" font-size="2.3" fill="#999" text-anchor="end">6</text>
<text x="404.67" y="339.90" font-size="2.3" fill="#999" text-anchor="middle">6</text>
</g>
<g>
<rect x="419.50" y="302.40" width="7.20" height="6.57" fill="#29b5a4"/>
<rect x="426.00" y="302.40" width="7.20" height="6.57" fill="#1b88c4"/>
<rect x="432.50" y="302.40" width="7.20" height="6.57" fill="#1e6ec2"/>
<rect x="439.00" y="302.40" width="7.20" height="6.57" fill="#1b88c4"/>
<rect x="445.50" y="302.40" width="13.00" height="6.57" fill="#20acb5"/>
<rect x="419.50" y="308.27" width="7.20" height="6.57" fill="#18a2c6"/>
<rect x="426.00" y="308.27" width="26.70" height="6.57" fill="#1e6ec2"/>
<rect x="452.00" y="308.27" width="6.50" height="6.57" fill="#2a2e88"/>
<rect x="419.50" y="314.13" width="7.20" height="6.57" fill="#fbc22a"/>
<rect x="426.00" y="314.13" width="7.20" height="6.57" fill="#d0ba58"/>
<rect x="432.50" y="314.13" width="7.20" height="6.57" fill="#aebc68"/>
<rect x="439.00" y="314.13" width="7.20" height="6.57" fill="#d0ba58"/>
<rect x="445.50" y="314.13" width="7.20" height="6.57" fill="#f7e822"/>
<rect x="452.00" y="314.13" width="6.50" height="6.57" fill="#8cbf78"/>
<rect x="419.50" y="320.00" width="7.20" height="6.57" fill="#8cbf78"/>
<rect x="426.00" y="320.00" width="7.20" height="6.57" fill="#29b5a4"/>
<rect x="432.50" y="320.00" width="7.20" height="6.57" fill="#1e6ec2"/>
<rect x="439.00" y="320.00" width="7.20" height="6.57" fill="#29b5a4"/>
<rect x="445.50" y="320.00" width="7.20" height="6.57" fill="#8cbf78"/>
<rect x="452.00" y="320.00" width="6.50" height="6.57" fill="#2a2e88"/>
<rect x="419.50" y="325.87" width="7.20" height="6.57" fill="#2055b2"/>
<rect x="426.00" y="325.87" width="7.20" height="6.57" fill="#29b5a4"/>
<rect x="432.50" y="325.87" width="7.20" height="6.57" fill="#1f62ba"/>
<rect x="439.00" y="325.87" width="7.20" height="6.57" fill="#18a2c6"/>
<rect x="445.50" y="325.87" width="13.00" height="6.57" fill="#1e6ec2"/>
<rect x="419.50" y="331.73" width="7.20" height="5.87" fill="#8cbf78"/>
<rect x="426.00" y="331.73" width="7.20" height="5.87" fill="#fbc22a"/>
<rect x="432.50" y="331.73" width="7.20" height="5.87" fill="#5aba8e"/>
<rect x="439.00" y="331.73" width="7.20" height="5.87" fill="#e6be41"/>
<rect x="445.50" y="331.73" width="7.20" height="5.87" fill="#f7e822"/>
<rect x="452.00" y="331.73" width="6.50" height="5.87" fill="#d0ba58"/>
<rect x="419.50" y="302.40" width="39.00" height="35.20" fill="none" stroke="#444" stroke-width="0.50"/>
<text x="418.20" y="306.16" font-size="2.3" fill="#999" text-anchor="end">1</text>
<text x="422.75" y="341.10" font-size="2.3" fill="#999" text-anchor="middle">1</text>
<text x="418.20" y="312.03" font-size="2.3" fill="#999" text-anchor="end">2</text>
<text x="429.25" y="341.10" font-size="2.3" fill="#999" text-anchor="middle">2</text>
<text x="418.20" y="317.89" font-size="2.3" fill="#999" text-anchor="end">3</text>
<text x="435.75" y="341.10" font-size="2.3" fill="#999" text-anchor="middle">3</text>
<text x="418.20" y="323.76" font-size="2.3" fill="#999" text-anchor="end">4</text>
<text x="442.25" y="341.10" font-size="2.3" fill="#999" text-anchor="middle">4</text>
<text x="418.20" y="329.63" font-size="2.3" fill="#999" text-anchor="end">5</text>
<text x="448.75" y="341.10" font-size="2.3" fill="#999" text-anchor="middle">5</text>
<text x="418.20" y="335.49" font-size="2.3" fill="#999" text-anchor="end">6</text>
<text x="455.25" y="341.10" font-size="2.3" fill="#999" text-anchor="middle">6</text>
</g>
<g>
<rect x="483.20" y="8.30" width="9.03" height="9.03" fill="#fbc22a"/>
<rect x="491.53" y="8.30" width="16.67" height="9.03" fill="#f7e822"/>
<rect x="483.20" y="16.63" width="9.03" height="9.03" fill="#29b5a4"/>
<rect x="491.53" y="16.63" width="16.67" height="9.03" fill="#8cbf78"/>
<rect x="483.20" y="24.97" width="9.03" height="8.33" fill="#1f5cb7"/>
<rect x="491.53" y="24.97" width="9.03" height="8.33" fill="#2a2e88"/>
<rect x="499.87" y="24.97" width="8.33" height="8.33" fill="#1f5cb7"/>
<rect x="483.20" y="8.30" width="25.00" height="25.00" fill="none" stroke="#999" stroke-width="0.40"/>
<text x="482.20" y="8.91" font-size="1.7" fill="#aaa" text-anchor="end">0.5</text>
<text x="483.20" y="36.50" font-size="1.7" fill="#aaa" text-anchor="middle">0.5</text>
<text x="482.20" y="13.08" font-size="1.7" fill="#aaa" text-anchor="end">1</text>
<text x="487.37" y="36.50" font-size="1.7" fill="#aaa" text-anchor="middle">1</text>
<text x="482.20" y="17.25" font-size="1.7" fill="#aaa" text-anchor="end">1.5</text>
<text x="491.53" y="36.50" font-size="1.7" fill="#aaa" text-anchor="middle">1.5</text>
<text x="482.20" y="21.41" font-size="1.7" fill="#aaa" text-anchor="end">2</text>
<text x="495.70" y="36.50" font-size="1.7" fill="#aaa" text-anchor="middle">2</text>
<text x="482.20" y="25.58" font-size="1.7" fill="#aaa" text-anchor="end">2.5</text>
<text x="499.87" y="36.50" font-size="1.7" fill="#aaa" text-anchor="middle">2.5</text>
<text x="482.20" y="29.75" font-size="1.7" fill="#aaa" text-anchor="end">3</text>
<text x="504.03" y="36.50" font-size="1.7" fill="#aaa" text-anchor="middle">3</text>
<text x="482.20" y="33.91" font-size="1.7" fill="#aaa" text-anchor="end">3.5</text>
<text x="508.20" y="36.50" font-size="1.7" fill="#aaa" text-anchor="middle">3.5</text>
</g>
<g>
<rect x="483.20" y="41.90" width="8.93" height="8.47" fill="#aebc68"/>
<rect x="491.43" y="41.90" width="8.93" height="8.47" fill="#d0ba58"/>
<rect x="499.67" y="41.90" width="8.23" height="8.47" fill="#f7e822"/>
<rect x="483.20" y="49.67" width="8.93" height="8.47" fill="#5aba8e"/>
<rect x="491.43" y="49.67" width="8.93" height="8.47" fill="#18a2c6"/>
<rect x="499.67" y="49.67" width="8.23" height="8.47" fill="#d0ba58"/>
<rect x="483.20" y="57.43" width="8.93" height="7.77" fill="#2a2e88"/>
<rect x="491.43" y="57.43" width="8.93" height="7.77" fill="#2055b2"/>
<rect x="499.67" y="57.43" width="8.23" height="7.77" fill="#2a2e88"/>
<rect x="483.20" y="41.90" width="24.70" height="23.30" fill="none" stroke="#999" stroke-width="0.40"/>
<text x="482.20" y="42.51" font-size="1.7" fill="#aaa" text-anchor="end">0.5</text>
<text x="483.20" y="68.40" font-size="1.7" fill="#aaa" text-anchor="middle">0.5</text>
<text x="482.20" y="46.40" font-size="1.7" fill="#aaa" text-anchor="end">1</text>
<text x="487.32" y="68.40" font-size="1.7" fill="#aaa" text-anchor="middle">1</text>
<text x="482.20" y="50.28" font-size="1.7" fill="#aaa" text-anchor="end">1.5</text>
<text x="491.43" y="68.40" font-size="1.7" fill="#aaa" text-anchor="middle">1.5</text>
<text x="482.20" y="54.16" font-size="1.7" fill="#aaa" text-anchor="end">2</text>
<text x="495.55" y="68.40" font-size="1.7" fill="#aaa" text-anchor="middle">2</text>
<text x="482.20" y="58.05" font-size="1.7" fill="#aaa" text-anchor="end">2.5</text>
<text x="499.67" y="68.40" font-size="1.7" fill="#aaa" text-anchor="middle">2.5</text>
<text x="482.20" y="61.93" font-size="1.7" fill="#aaa" text-anchor="end">3</text>
<text x="503.78" y="68.40" font-size="1.7" fill="#aaa" text-anchor="middle">3</text>
<text x="482.20" y="65.81" font-size="1.7" fill="#aaa" text-anchor="end">3.5</text>
<text x="507.90" y="68.40" font-size="1.7" fill="#aaa" text-anchor="middle">3.5</text>
</g>
<g>
<rect x="483.20" y="73.20" width="17.17" height="8.20" fill="#fbc22a"/>
<rect x="499.67" y="73.20" width="8.23" height="8.20" fill="#f7e822"/>
<rect x="483.20" y="80.70" width="8.93" height="8.20" fill="#ddbc4a"/>
<rect x="491.43" y="80.70" width="8.93" height="8.20" fill="#d0ba58"/>
<rect x="499.67" y="80.70" width="8.23" height="8.20" fill="#f7e822"/>
<rect x="483.20" y="88.20" width="8.93" height="7.50" fill="#2a2e88"/>
<rect x="491.43" y="88.20" width="8.93" height="7.50" fill="#2349a5"/>
<rect x="499.67" y="88.20" width="8.23" height="7.50" fill="#1b88c4"/>
<rect x="483.20" y="73.20" width="24.70" height="22.50" fill="none" stroke="#999" stroke-width="0.40"/>
<text x="482.20" y="73.81" font-size="1.7" fill="#aaa" text-anchor="end">0.5</text>
<text x="483.20" y="98.90" font-size="1.7" fill="#aaa" text-anchor="middle">0.5</text>
<text x="482.20" y="77.56" font-size="1.7" fill="#aaa" text-anchor="end">1</text>
<text x="487.32" y="98.90" font-size="1.7" fill="#aaa" text-anchor="middle">1</text>
<text x="482.20" y="81.31" font-size="1.7" fill="#aaa" text-anchor="end">1.5</text>
<text x="491.43" y="98.90" font-size="1.7" fill="#aaa" text-anchor="middle">1.5</text>
<text x="482.20" y="85.06" font-size="1.7" fill="#aaa" text-anchor="end">2</text>
<text x="495.55" y="98.90" font-size="1.7" fill="#aaa" text-anchor="middle">2</text>
<text x="482.20" y="88.81" font-size="1.7" fill="#aaa" text-anchor="end">2.5</text>
<text x="499.67" y="98.90" font-size="1.7" fill="#aaa" text-anchor="middle">2.5</text>
<text x="482.20" y="92.56" font-size="1.7" fill="#aaa" text-anchor="end">3</text>
<text x="503.78" y="98.90" font-size="1.7" fill="#aaa" text-anchor="middle">3</text>
<text x="482.20" y="96.31" font-size="1.7" fill="#aaa" text-anchor="end">3.5</text>
<text x="507.90" y="98.90" font-size="1.7" fill="#aaa" text-anchor="middle">3.5</text>
</g>
<g>
<rect x="483.20" y="103.90" width="17.17" height="8.30" fill="#fbc22a"/>
<rect x="499.67" y="103.90" width="8.23" height="8.30" fill="#f7e822"/>
<rect x="483.20" y="111.50" width="8.93" height="8.30" fill="#25429d"/>
<rect x="491.43" y="111.50" width="8.93" height="8.30" fill="#1f62ba"/>
<rect x="499.67" y="111.50" width="8.23" height="8.30" fill="#1e6ec2"/>
<rect x="483.20" y="119.10" width="8.93" height="7.60" fill="#1f62ba"/>
<rect x="491.43" y="119.10" width="16.47" height="7.60" fill="#1e6ec2"/>
<rect x="483.20" y="103.90" width="24.70" height="22.80" fill="none" stroke="#999" stroke-width="0.40"/>
<text x="482.20" y="104.51" font-size="1.7" fill="#aaa" text-anchor="end">0.5</text>
<text x="483.20" y="129.90" font-size="1.7" fill="#aaa" text-anchor="middle">0.5</text>
<text x="482.20" y="108.31" font-size="1.7" fill="#aaa" text-anchor="end">1</text>
<text x="487.32" y="129.90" font-size="1.7" fill="#aaa" text-anchor="middle">1</text>
<text x="482.20" y="112.11" font-size="1.7" fill="#aaa" text-anchor="end">1.5</text>
<text x="491.43" y="129.90" font-size="1.7" fill="#aaa" text-anchor="middle">1.5</text>
<text x="482.20" y="115.91" font-size="1.7" fill="#aaa" text-anchor="end">2</text>
<text x="495.55" y="129.90" font-size="1.7" fill="#aaa" text-anchor="middle">2</text>
<text x="482.20" y="119.71" font-size="1.7" fill="#aaa" text-anchor="end">2.5</text>
<text x="499.67" y="129.90" font-size="1.7" fill="#aaa" text-anchor="middle">2.5</text>
<text x="482.20" y="123.51" font-size="1.7" fill="#aaa" text-anchor="end">3</text>
<text x="503.78" y="129.90" font-size="1.7" fill="#aaa" text-anchor="middle">3</text>
<text x="482.20" y="127.31" font-size="1.7" fill="#aaa" text-anchor="end">3.5</text>
<text x="507.90" y="129.90" font-size="1.7" fill="#aaa" text-anchor="middle">3.5</text>
</g>
<g>
<rect x="483.20" y="135.20" width="8.93" height="8.17" fill="#1e6ec2"/>
<rect x="491.43" y="135.20" width="8.93" height="8.17" fill="#1f62ba"/>
<rect x="499.67" y="135.20" width="8.23" height="8.17" fill="#2055b2"/>
<rect x="483.20" y="142.67" width="8.93" height="8.17" fill="#1f62ba"/>
<rect x="491.43" y="142.67" width="8.93" height="8.17" fill="#2055b2"/>
<rect x="499.67" y="142.67" width="8.23" height="8.17" fill="#2a2e88"/>
<rect x="483.20" y="150.13" width="8.93" height="7.47" fill="#fbc22a"/>
<rect x="491.43" y="150.13" width="8.93" height="7.47" fill="#f7e822"/>
<rect x="499.67" y="150.13" width="8.23" height="7.47" fill="#8cbf78"/>
<rect x="483.20" y="135.20" width="24.70" height="22.40" fill="none" stroke="#999" stroke-width="0.40"/>
<text x="482.20" y="135.81" font-size="1.7" fill="#aaa" text-anchor="end">0.5</text>
<text x="483.20" y="160.80" font-size="1.7" fill="#aaa" text-anchor="middle">0.5</text>
<text x="482.20" y="139.55" font-size="1.7" fill="#aaa" text-anchor="end">1</text>
<text x="487.32" y="160.80" font-size="1.7" fill="#aaa" text-anchor="middle">1</text>
<text x="482.20" y="143.28" font-size="1.7" fill="#aaa" text-anchor="end">1.5</text>
<text x="491.43" y="160.80" font-size="1.7" fill="#aaa" text-anchor="middle">1.5</text>
<text x="482.20" y="147.01" font-size="1.7" fill="#aaa" text-anchor="end">2</text>
<text x="495.55" y="160.80" font-size="1.7" fill="#aaa" text-anchor="middle">2</text>
<text x="482.20" y="150.75" font-size="1.7" fill="#aaa" text-anchor="end">2.5</text>
<text x="499.67" y="160.80" font-size="1.7" fill="#aaa" text-anchor="middle">2.5</text>
<text x="482.20" y="154.48" font-size="1.7" fill="#aaa" text-anchor="end">3</text>
<text x="503.78" y="160.80" font-size="1.7" fill="#aaa" text-anchor="middle">3</text>
<text x="482.20" y="158.21" font-size="1.7" fill="#aaa" text-anchor="end">3.5</text>
<text x="507.90" y="160.80" font-size="1.7" fill="#aaa" text-anchor="middle">3.5</text>
</g>
<g>
<rect x="483.20" y="165.30" width="8.93" height="8.47" fill="#fbc22a"/>
<rect x="491.43" y="165.30" width="8.93" height="8.47" fill="#8cbf78"/>
<rect x="499.67" y="165.30" width="8.23" height="8.47" fill="#aebc68"/>
<rect x="483.20" y="173.07" width="8.93" height="8.47" fill="#f7e822"/>
<rect x="491.43" y="173.07" width="8.93" height="8.47" fill="#20acb5"/>
<rect x="499.67" y="173.07" width="8.23" height="8.47" fill="#fbc22a"/>
<rect x="483.20" y="180.83" width="8.93" height="7.77" fill="#2a2e88"/>
<rect x="491.43" y="180.83" width="8.93" height="7.77" fill="#20acb5"/>
<rect x="499.67" y="180.83" width="8.23" height="7.77" fill="#1b88c4"/>
<rect x="483.20" y="165.30" width="24.70" height="23.30" fill="none" stroke="#999" stroke-width="0.40"/>
<text x="482.20" y="165.91" font-size="1.7" fill="#aaa" text-anchor="end">0.5</text>
<text x="483.20" y="191.80" font-size="1.7" fill="#aaa" text-anchor="middle">0.5</text>
<text x="482.20" y="169.80" font-size="1.7" fill="#aaa" text-anchor="end">1</text>
<text x="487.32" y="191.80" font-size="1.7" fill="#aaa" text-anchor="middle">1</text>
<text x="482.20" y="173.68" font-size="1.7" fill="#aaa" text-anchor="end">1.5</text>
<text x="491.43" y="191.80" font-size="1.7" fill="#aaa" text-anchor="middle">1.5</text>
<text x="482.20" y="177.56" font-size="1.7" fill="#aaa" text-anchor="end">2</text>
<text x="495.55" y="191.80" font-size="1.7" fill="#aaa" text-anchor="middle">2</text>
<text x="482.20" y="181.45" font-size="1.7" fill="#aaa" text-anchor="end">2.5</text>
<text x="499.67" y="191.80" font-size="1.7" fill="#aaa" text-anchor="middle">2.5</text>
<text x="482.20" y="185.33" font-size="1.7" fill="#aaa" text-anchor="end">3</text>
<text x="503.78" y="191.80" font-size="1.7" fill="#aaa" text-anchor="middle">3</text>
<text x="482.20" y="189.21" font-size="1.7" fill="#aaa" text-anchor="end">3.5</text>
<text x="507.90" y="191.80" font-size="1.7" fill="#aaa" text-anchor="middle">3.5</text>
</g>
<g>
<rect x="483.20" y="200.00" width="8.93" height="8.17" fill="#25429d"/>
<rect x="491.43" y="200.00" width="8.93" height="8.17" fill="#1f62ba"/>
<rect x="499.67" y="200.00" width="8.23" height="8.17" fill="#2055b2"/>
<rect x="483.20" y="207.47" width="8.93" height="8.17" fill="#facd28"/>
<rect x="491.43" y="207.47" width="8.93" height="8.17" fill="#29b5a4"/>
<rect x="499.67" y="207.47" width="8.23" height="8.17" fill="#8cbf78"/>
<rect x="483.20" y="214.93" width="8.93" height="7.47" fill="#f7e822"/>
<rect x="491.43" y="214.93" width="8.93" height="7.47" fill="#d0ba58"/>
<rect x="499.67" y="214.93" width="8.23" height="7.47" fill="#8cbf78"/>
<rect x="483.20" y="200.00" width="24.70" height="22.40" fill="none" stroke="#999" stroke-width="0.40"/>
<text x="482.20" y="200.61" font-size="1.7" fill="#aaa" text-anchor="end">0.5</text>
<text x="483.20" y="225.60" font-size="1.7" fill="#aaa" text-anchor="middle">0.5</text>
<text x="482.20" y="204.35" font-size="1.7" fill="#aaa" text-anchor="end">1</text>
<text x="487.32" y="225.60" font-size="1.7" fill="#aaa" text-anchor="middle">1</text>
<text x="482.20" y="208.08" font-size="1.7" fill="#aaa" text-anchor="end">1.5</text>
<text x="491.43" y="225.60" font-size="1.7" fill="#aaa" text-anchor="middle">1.5</text>
<text x="482.20" y="211.81" font-size="1.7" fill="#aaa" text-anchor="end">2</text>
<text x="495.55" y="225.60" font-size="1.7" fill="#aaa" text-anchor="middle">2</text>
<text x="482.20" y="215.55" font-size="1.7" fill="#aaa" text-anchor="end">2.5</text>
<text x="499.67" y="225.60" font-size="1.7" fill="#aaa" text-anchor="middle">2.5</text>
<text x="482.20" y="219.28" font-size="1.7" fill="#aaa" text-anchor="end">3</text>
<text x="503.78" y="225.60" font-size="1.7" fill="#aaa" text-anchor="middle">3</text>
<text x="482.20" y="223.01" font-size="1.7" fill="#aaa" text-anchor="end">3.5</text>
<text x="507.90" y="225.60" font-size="1.7" fill="#aaa" text-anchor="middle">3.5</text>
</g>
<g>
<rect x="483.20" y="233.30" width="8.53" height="8.17" fill="#1b88c4"/>
<rect x="491.03" y="233.30" width="15.67" height="8.17" fill="#18a2c6"/>
<rect x="483.20" y="240.77" width="8.53" height="8.17" fill="#1f62ba"/>
<rect x="491.03" y="240.77" width="8.53" height="8.17" fill="#1e6ec2"/>
<rect x="498.87" y="240.77" width="7.83" height="8.17" fill="#25429d"/>
<rect x="483.20" y="248.23" width="16.37" height="7.47" fill="#f7e822"/>
<rect x="498.87" y="248.23" width="7.83" height="7.47" fill="#d0ba58"/>
<rect x="483.20" y="233.30" width="23.50" height="22.40" fill="none" stroke="#999" stroke-width="0.40"/>
<text x="482.20" y="233.91" font-size="1.7" fill="#aaa" text-anchor="end">0.5</text>
<text x="483.20" y="258.90" font-size="1.7" fill="#aaa" text-anchor="middle">0.5</text>
<text x="482.20" y="237.65" font-size="1.7" fill="#aaa" text-anchor="end">1</text>
<text x="487.12" y="258.90" font-size="1.7" fill="#aaa" text-anchor="middle">1</text>
<text x="482.20" y="241.38" font-size="1.7" fill="#aaa" text-anchor="end">1.5</text>
<text x="491.03" y="258.90" font-size="1.7" fill="#aaa" text-anchor="middle">1.5</text>
<text x="482.20" y="245.11" font-size="1.7" fill="#aaa" text-anchor="end">2</text>
<text x="494.95" y="258.90" font-size="1.7" fill="#aaa" text-anchor="middle">2</text>
<text x="482.20" y="248.85" font-size="1.7" fill="#aaa" text-anchor="end">2.5</text>
<text x="498.87" y="258.90" font-size="1.7" fill="#aaa" text-anchor="middle">2.5</text>
<text x="482.20" y="252.58" font-size="1.7" fill="#aaa" text-anchor="end">3</text>
<text x="502.78" y="258.90" font-size="1.7" fill="#aaa" text-anchor="middle">3</text>
<text x="482.20" y="256.31" font-size="1.7" fill="#aaa" text-anchor="end">3.5</text>
<text x="506.70" y="258.90" font-size="1.7" fill="#aaa" text-anchor="middle">3.5</text>
</g>
<g>
<rect x="482.60" y="266.30" width="16.77" height="8.00" fill="#aebc68"/>
<rect x="498.67" y="266.30" width="8.03" height="8.00" fill="#f7e822"/>
<rect x="482.60" y="273.60" width="8.73" height="8.00" fill="#aebc68"/>
<rect x="490.63" y="273.60" width="8.73" height="8.00" fill="#d0ba58"/>
<rect x="498.67" y="273.60" width="8.03" height="8.00" fill="#1e6ec2"/>
<rect x="482.60" y="280.90" width="16.77" height="7.30" fill="#2a2e88"/>
<rect x="498.67" y="280.90" width="8.03" height="7.30" fill="#1e6ec2"/>
<rect x="482.60" y="266.30" width="24.10" height="21.90" fill="none" stroke="#999" stroke-width="0.40"/>
<text x="481.60" y="266.91" font-size="1.7" fill="#aaa" text-anchor="end">0.5</text>
<text x="482.60" y="291.40" font-size="1.7" fill="#aaa" text-anchor="middle">0.5</text>
<text x="481.60" y="270.56" font-size="1.7" fill="#aaa" text-anchor="end">1</text>
<text x="486.62" y="291.40" font-size="1.7" fill="#aaa" text-anchor="middle">1</text>
<text x="481.60" y="274.21" font-size="1.7" fill="#aaa" text-anchor="end">1.5</text>
<text x="490.63" y="291.40" font-size="1.7" fill="#aaa" text-anchor="middle">1.5</text>
<text x="481.60" y="277.86" font-size="1.7" fill="#aaa" text-anchor="end">2</text>
<text x="494.65" y="291.40" font-size="1.7" fill="#aaa" text-anchor="middle">2</text>
<text x="481.60" y="281.51" font-size="1.7" fill="#aaa" text-anchor="end">2.5</text>
<text x="498.67" y="291.40" font-size="1.7" fill="#aaa" text-anchor="middle">2.5</text>
<text x="481.60" y="285.16" font-size="1.7" fill="#aaa" text-anchor="end">3</text>
<text x="502.68" y="291.40" font-size="1.7" fill="#aaa" text-anchor="middle">3</text>
<text x="481.60" y="288.81" font-size="1.7" fill="#aaa" text-anchor="end">3.5</text>
<text x="506.70" y="291.40" font-size="1.7" fill="#aaa" text-anchor="middle">3.5</text>
</g>
<g>
<rect x="482.60" y="298.00" width="8.73" height="7.93" fill="#e6be41"/>
<rect x="490.63" y="298.00" width="8.73" height="7.93" fill="#f7e822"/>
<rect x="498.67" y="298.00" width="8.03" height="7.93" fill="#fbc22a"/>
<rect x="482.60" y="305.23" width="8.73" height="7.93" fill="#2a2e88"/>
<rect x="490.63" y="305.23" width="8.73" height="7.93" fill="#1b88c4"/>
<rect x="498.67" y="305.23" width="8.03" height="7.93" fill="#1e6ec2"/>
<rect x="482.60" y="312.47" width="8.73" height="7.23" fill="#1e6ec2"/>
<rect x="490.63" y="312.47" width="16.07" height="7.23" fill="#1f62ba"/>
<rect x="482.60" y="298.00" width="24.10" height="21.70" fill="none" stroke="#999" stroke-width="0.40"/>
<text x="481.60" y="298.61" font-size="1.7" fill="#aaa" text-anchor="end">0.5</text>
<text x="482.60" y="322.90" font-size="1.7" fill="#aaa" text-anchor="middle">0.5</text>
<text x="481.60" y="302.23" font-size="1.7" fill="#aaa" text-anchor="end">1</text>
<text x="486.62" y="322.90" font-size="1.7" fill="#aaa" text-anchor="middle">1</text>
<text x="481.60" y="305.85" font-size="1.7" fill="#aaa" text-anchor="end">1.5</text>
<text x="490.63" y="322.90" font-size="1.7" fill="#aaa" text-anchor="middle">1.5</text>
<text x="481.60" y="309.46" font-size="1.7" fill="#aaa" text-anchor="end">2</text>
<text x="494.65" y="322.90" font-size="1.7" fill="#aaa" text-anchor="middle">2</text>
<text x="481.60" y="313.08" font-size="1.7" fill="#aaa" text-anchor="end">2.5</text>
<text x="498.67" y="322.90" font-size="1.7" fill="#aaa" text-anchor="middle">2.5</text>
<text x="481.60" y="316.70" font-size="1.7" fill="#aaa" text-anchor="end">3</text>
<text x="502.68" y="322.90" font-size="1.7" fill="#aaa" text-anchor="middle">3</text>
<text x="481.60" y="320.31" font-size="1.7" fill="#aaa" text-anchor="end">3.5</text>
<text x="506.70" y="322.90" font-size="1.7" fill="#aaa" text-anchor="middle">3.5</text>
</g>
<g>
<rect x="482.90" y="328.70" width="24.50" height="7.77" fill="#f7e822"/>
<rect x="482.90" y="335.77" width="8.87" height="7.77" fill="#18a2c6"/>
<rect x="491.07" y="335.77" width="8.87" height="7.77" fill="#aebc68"/>
<rect x="499.23" y="335.77" width="8.17" height="7.77" fill="#29b5a4"/>
<rect x="482.90" y="342.83" width="8.87" height="7.07" fill="#2a2e88"/>
<rect x="491.07" y="342.83" width="8.87" height="7.07" fill="#1f62ba"/>
<rect x="499.23" y="342.83" width="8.17" height="7.07" fill="#1e6ec2"/>
<rect x="482.90" y="328.70" width="24.50" height="21.20" fill="none" stroke="#999" stroke-width="0.40"/>
<text x="481.90" y="329.31" font-size="1.7" fill="#aaa" text-anchor="end">0.5</text>
<text x="482.90" y="353.10" font-size="1.7" fill="#aaa" text-anchor="middle">0.5</text>
<text x="481.90" y="332.85" font-size="1.7" fill="#aaa" text-anchor="end">1</text>
<text x="486.98" y="353.10" font-size="1.7" fill="#aaa" text-anchor="middle">1</text>
<text x="481.90" y="336.38" font-size="1.7" fill="#aaa" text-anchor="end">1.5</text>
<text x="491.07" y="353.10" font-size="1.7" fill="#aaa" text-anchor="middle">1.5</text>
<text x="481.90" y="339.91" font-size="1.7" fill="#aaa" text-anchor="end">2</text>
<text x="495.15" y="353.10" font-size="1.7" fill="#aaa" text-anchor="middle">2</text>
<text x="481.90" y="343.45" font-size="1.7" fill="#aaa" text-anchor="end">2.5</text>
<text x="499.23" y="353.10" font-size="1.7" fill="#aaa" text-anchor="middle">2.5</text>
<text x="481.90" y="346.98" font-size="1.7" fill="#aaa" text-anchor="end">3</text>
<text x="503.32" y="353.10" font-size="1.7" fill="#aaa" text-anchor="middle">3</text>
<text x="481.90" y="350.51" font-size="1.7" fill="#aaa" text-anchor="end">3.5</text>
<text x="507.40" y="353.10" font-size="1.7" fill="#aaa" text-anchor="middle">3.5</text>
</g>
<g>
<rect x="482.90" y="358.50" width="9.03" height="7.20" fill="#1e6ec2"/>
<rect x="491.23" y="358.50" width="9.03" height="7.20" fill="#2a2e88"/>
<rect x="499.57" y="358.50" width="8.33" height="7.20" fill="#1e6ec2"/>
<rect x="482.90" y="365.00" width="9.03" height="7.20" fill="#f7e822"/>
<rect x="491.23" y="365.00" width="9.03" height="7.20" fill="#d0ba58"/>
<rect x="499.57" y="365.00" width="8.33" height="7.20" fill="#e6be41"/>
<rect x="482.90" y="371.50" width="9.03" height="6.50" fill="#29b5a4"/>
<rect x="491.23" y="371.50" width="9.03" height="6.50" fill="#20acb5"/>
<rect x="499.57" y="371.50" width="8.33" height="6.50" fill="#aebc68"/>
<rect x="482.90" y="358.50" width="25.00" height="19.50" fill="none" stroke="#999" stroke-width="0.40"/>
<text x="481.90" y="359.11" font-size="1.7" fill="#aaa" text-anchor="end">0.5</text>
<text x="482.90" y="381.20" font-size="1.7" fill="#aaa" text-anchor="middle">0.5</text>
<text x="481.90" y="362.36" font-size="1.7" fill="#aaa" text-anchor="end">1</text>
<text x="487.07" y="381.20" font-size="1.7" fill="#aaa" text-anchor="middle">1</text>
<text x="481.90" y="365.61" font-size="1.7" fill="#aaa" text-anchor="end">1.5</text>
<text x="491.23" y="381.20" font-size="1.7" fill="#aaa" text-anchor="middle">1.5</text>
<text x="481.90" y="368.86" font-size="1.7" fill="#aaa" text-anchor="end">2</text>
<text x="495.40" y="381.20" font-size="1.7" fill="#aaa" text-anchor="middle">2</text>
<text x="481.90" y="372.11" font-size="1.7" fill="#aaa" text-anchor="end">2.5</text>
<text x="499.57" y="381.20" font-size="1.7" fill="#aaa" text-anchor="middle">2.5</text>
<text x="481.90" y="375.36" font-size="1.7" fill="#aaa" text-anchor="end">3</text>
<text x="503.73" y="381.20" font-size="1.7" fill="#aaa" text-anchor="middle">3</text>
<text x="481.90" y="378.61" font-size="1.7" fill="#aaa" text-anchor="end">3.5</text>
<text x="507.90" y="381.20" font-size="1.7" fill="#aaa" text-anchor="middle">3.5</text>
</g>
</g>
</svg>
<div class="hl"></div>
<div class="bar" style="left:18px"></div>
<div class="bar" style="left:134px"></div>
<div class="bar" style="left:290px"></div>
<div class="bar" style="left:364px"></div>
<div class="bar" style="left:459px"></div>
<div class="bar" style="left:542px"></div>
<div class="cap" id="t1" style="left:27.4px">Normalized input</div>
<div class="cap" id="t2" style="left:163.2px">C1:<i></i>6:16*16</div>
<div class="cap" id="t3" style="left:297.1px">S1:<i></i>6:8*8</div>
<div class="cap" id="t4" style="left:378.4px">C2:<i></i>12:6*6</div>
<div class="cap" id="t5" style="left:468px">S2:<i></i>12:3*3</div>
</body></html>
